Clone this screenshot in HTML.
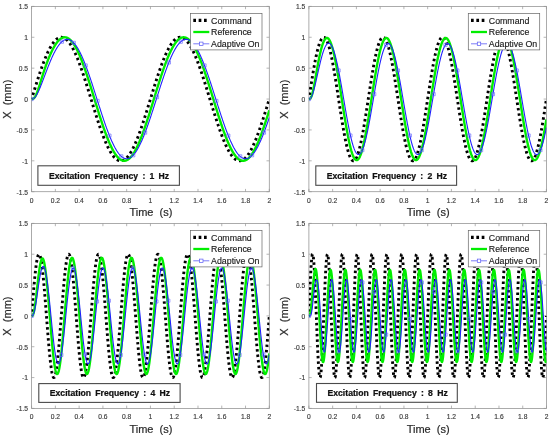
<!DOCTYPE html>
<html><head><meta charset="utf-8"><title>Figure</title>
<style>html,body{margin:0;padding:0;background:#fff}body{width:550px;height:436px;overflow:hidden}</style>
</head><body>
<svg width="550" height="436" viewBox="0 0 550 436" style="display:block">
<rect width="550" height="436" fill="#fff"/>
<g>
<rect x="31.6" y="6.4" width="237.70" height="185.30" fill="none" stroke="#969696" stroke-width="0.8"/>
<path d="M31.60,191.7 v-2.8 M31.60,6.4 v2.8 M55.37,191.7 v-2.8 M55.37,6.4 v2.8 M79.14,191.7 v-2.8 M79.14,6.4 v2.8 M102.91,191.7 v-2.8 M102.91,6.4 v2.8 M126.68,191.7 v-2.8 M126.68,6.4 v2.8 M150.45,191.7 v-2.8 M150.45,6.4 v2.8 M174.22,191.7 v-2.8 M174.22,6.4 v2.8 M197.99,191.7 v-2.8 M197.99,6.4 v2.8 M221.76,191.7 v-2.8 M221.76,6.4 v2.8 M245.53,191.7 v-2.8 M245.53,6.4 v2.8 M269.30,191.7 v-2.8 M269.30,6.4 v2.8 M31.6,191.70 h2.8 M269.3,191.70 h-2.8 M31.6,160.82 h2.8 M269.3,160.82 h-2.8 M31.6,129.93 h2.8 M269.3,129.93 h-2.8 M31.6,99.05 h2.8 M269.3,99.05 h-2.8 M31.6,68.17 h2.8 M269.3,68.17 h-2.8 M31.6,37.28 h2.8 M269.3,37.28 h-2.8 M31.6,6.40 h2.8 M269.3,6.40 h-2.8" stroke="#969696" stroke-width="0.7" fill="none"/>
<clipPath id="c0"><rect x="31.6" y="6.4" width="237.70" height="185.30"/></clipPath>
<g clip-path="url(#c0)" fill="none" stroke-linejoin="round">
<path d="M31.60,99.05 L31.84,98.27 L32.08,97.50 L32.31,96.72 L32.55,95.95 L32.79,95.17 L33.03,94.40 L33.26,93.62 L33.50,92.85 L33.74,92.08 L33.98,91.31 L34.21,90.54 L34.45,89.77 L34.69,89.00 L34.93,88.24 L35.17,87.48 L35.40,86.71 L35.64,85.96 L35.88,85.20 L36.12,84.44 L36.35,83.69 L36.59,82.94 L36.83,82.19 L37.07,81.45 L37.30,80.70 L37.54,79.96 L37.78,79.23 L38.02,78.49 L38.26,77.76 L38.49,77.04 L38.73,76.31 L38.97,75.59 L39.21,74.88 L39.44,74.16 L39.68,73.46 L39.92,72.75 L40.16,72.05 L40.39,71.35 L40.63,70.66 L40.87,69.98 L41.11,69.29 L41.35,68.62 L41.58,67.94 L41.82,67.27 L42.06,66.61 L42.30,65.95 L42.53,65.30 L42.77,64.65 L43.01,64.01 L43.25,63.38 L43.48,62.74 L43.72,62.12 L43.96,61.50 L44.20,60.89 L44.44,60.28 L44.67,59.68 L44.91,59.08 L45.15,58.49 L45.39,57.91 L45.62,57.34 L45.86,56.77 L46.10,56.21 L46.34,55.65 L46.58,55.10 L46.81,54.56 L47.05,54.02 L47.29,53.50 L47.53,52.98 L47.76,52.46 L48.00,51.96 L48.24,51.46 L48.48,50.97 L48.71,50.48 L48.95,50.01 L49.19,49.54 L49.43,49.08 L49.67,48.63 L49.90,48.18 L50.14,47.75 L50.38,47.32 L50.62,46.90 L50.85,46.49 L51.09,46.08 L51.33,45.69 L51.57,45.30 L51.80,44.92 L52.04,44.55 L52.28,44.19 L52.52,43.84 L52.76,43.50 L52.99,43.16 L53.23,42.84 L53.47,42.52 L53.71,42.21 L53.94,41.91 L54.18,41.62 L54.42,41.34 L54.66,41.07 L54.89,40.80 L55.13,40.55 L55.37,40.31 L55.61,40.07 L55.85,39.85 L56.08,39.63 L56.32,39.42 L56.56,39.22 L56.80,39.04 L57.03,38.86 L57.27,38.69 L57.51,38.53 L57.75,38.38 L57.98,38.24 L58.22,38.11 L58.46,37.98 L58.70,37.87 L58.94,37.77 L59.17,37.68 L59.41,37.60 L59.65,37.52 L59.89,37.46 L60.12,37.41 L60.36,37.36 L60.60,37.33 L60.84,37.30 L61.07,37.29 L61.31,37.28 L61.55,37.29 L61.79,37.30 L62.03,37.33 L62.26,37.36 L62.50,37.41 L62.74,37.46 L62.98,37.52 L63.21,37.60 L63.45,37.68 L63.69,37.77 L63.93,37.87 L64.16,37.98 L64.40,38.11 L64.64,38.24 L64.88,38.38 L65.12,38.53 L65.35,38.69 L65.59,38.86 L65.83,39.04 L66.07,39.22 L66.30,39.42 L66.54,39.63 L66.78,39.85 L67.02,40.07 L67.25,40.31 L67.49,40.55 L67.73,40.80 L67.97,41.07 L68.21,41.34 L68.44,41.62 L68.68,41.91 L68.92,42.21 L69.16,42.52 L69.39,42.84 L69.63,43.16 L69.87,43.50 L70.11,43.84 L70.35,44.19 L70.58,44.55 L70.82,44.92 L71.06,45.30 L71.30,45.69 L71.53,46.08 L71.77,46.49 L72.01,46.90 L72.25,47.32 L72.48,47.75 L72.72,48.18 L72.96,48.63 L73.20,49.08 L73.44,49.54 L73.67,50.01 L73.91,50.48 L74.15,50.97 L74.39,51.46 L74.62,51.96 L74.86,52.46 L75.10,52.98 L75.34,53.50 L75.57,54.02 L75.81,54.56 L76.05,55.10 L76.29,55.65 L76.53,56.21 L76.76,56.77 L77.00,57.34 L77.24,57.91 L77.48,58.49 L77.71,59.08 L77.95,59.68 L78.19,60.28 L78.43,60.89 L78.66,61.50 L78.90,62.12 L79.14,62.74 L79.38,63.38 L79.62,64.01 L79.85,64.65 L80.09,65.30 L80.33,65.95 L80.57,66.61 L80.80,67.27 L81.04,67.94 L81.28,68.62 L81.52,69.29 L81.75,69.98 L81.99,70.66 L82.23,71.35 L82.47,72.05 L82.71,72.75 L82.94,73.46 L83.18,74.16 L83.42,74.88 L83.66,75.59 L83.89,76.31 L84.13,77.04 L84.37,77.76 L84.61,78.49 L84.84,79.23 L85.08,79.96 L85.32,80.70 L85.56,81.45 L85.80,82.19 L86.03,82.94 L86.27,83.69 L86.51,84.44 L86.75,85.20 L86.98,85.96 L87.22,86.71 L87.46,87.48 L87.70,88.24 L87.93,89.00 L88.17,89.77 L88.41,90.54 L88.65,91.31 L88.89,92.08 L89.12,92.85 L89.36,93.62 L89.60,94.40 L89.84,95.17 L90.07,95.95 L90.31,96.72 L90.55,97.50 L90.79,98.27 L91.03,99.05 L91.26,99.83 L91.50,100.60 L91.74,101.38 L91.98,102.15 L92.21,102.93 L92.45,103.70 L92.69,104.48 L92.93,105.25 L93.16,106.02 L93.40,106.79 L93.64,107.56 L93.88,108.33 L94.12,109.10 L94.35,109.86 L94.59,110.62 L94.83,111.39 L95.07,112.14 L95.30,112.90 L95.54,113.66 L95.78,114.41 L96.02,115.16 L96.25,115.91 L96.49,116.65 L96.73,117.40 L96.97,118.14 L97.21,118.87 L97.44,119.61 L97.68,120.34 L97.92,121.06 L98.16,121.79 L98.39,122.51 L98.63,123.22 L98.87,123.94 L99.11,124.64 L99.34,125.35 L99.58,126.05 L99.82,126.75 L100.06,127.44 L100.30,128.12 L100.53,128.81 L100.77,129.48 L101.01,130.16 L101.25,130.83 L101.48,131.49 L101.72,132.15 L101.96,132.80 L102.20,133.45 L102.43,134.09 L102.67,134.72 L102.91,135.36 L103.15,135.98 L103.39,136.60 L103.62,137.21 L103.86,137.82 L104.10,138.42 L104.34,139.02 L104.57,139.61 L104.81,140.19 L105.05,140.76 L105.29,141.33 L105.52,141.89 L105.76,142.45 L106.00,143.00 L106.24,143.54 L106.48,144.08 L106.71,144.60 L106.95,145.12 L107.19,145.64 L107.43,146.14 L107.66,146.64 L107.90,147.13 L108.14,147.62 L108.38,148.09 L108.61,148.56 L108.85,149.02 L109.09,149.47 L109.33,149.92 L109.57,150.35 L109.80,150.78 L110.04,151.20 L110.28,151.61 L110.52,152.02 L110.75,152.41 L110.99,152.80 L111.23,153.18 L111.47,153.55 L111.70,153.91 L111.94,154.26 L112.18,154.60 L112.42,154.94 L112.66,155.26 L112.89,155.58 L113.13,155.89 L113.37,156.19 L113.61,156.48 L113.84,156.76 L114.08,157.03 L114.32,157.30 L114.56,157.55 L114.80,157.79 L115.03,158.03 L115.27,158.25 L115.51,158.47 L115.75,158.68 L115.98,158.88 L116.22,159.06 L116.46,159.24 L116.70,159.41 L116.93,159.57 L117.17,159.72 L117.41,159.86 L117.65,159.99 L117.89,160.12 L118.12,160.23 L118.36,160.33 L118.60,160.42 L118.84,160.50 L119.07,160.58 L119.31,160.64 L119.55,160.69 L119.79,160.74 L120.02,160.77 L120.26,160.80 L120.50,160.81 L120.74,160.82 L120.98,160.81 L121.21,160.80 L121.45,160.77 L121.69,160.74 L121.93,160.69 L122.16,160.64 L122.40,160.58 L122.64,160.50 L122.88,160.42 L123.11,160.33 L123.35,160.23 L123.59,160.12 L123.83,159.99 L124.07,159.86 L124.30,159.72 L124.54,159.57 L124.78,159.41 L125.02,159.24 L125.25,159.06 L125.49,158.88 L125.73,158.68 L125.97,158.47 L126.20,158.25 L126.44,158.03 L126.68,157.79 L126.92,157.55 L127.16,157.30 L127.39,157.03 L127.63,156.76 L127.87,156.48 L128.11,156.19 L128.34,155.89 L128.58,155.58 L128.82,155.26 L129.06,154.94 L129.29,154.60 L129.53,154.26 L129.77,153.91 L130.01,153.55 L130.25,153.18 L130.48,152.80 L130.72,152.41 L130.96,152.02 L131.20,151.61 L131.43,151.20 L131.67,150.78 L131.91,150.35 L132.15,149.92 L132.38,149.47 L132.62,149.02 L132.86,148.56 L133.10,148.09 L133.34,147.62 L133.57,147.13 L133.81,146.64 L134.05,146.14 L134.29,145.64 L134.52,145.12 L134.76,144.60 L135.00,144.08 L135.24,143.54 L135.47,143.00 L135.71,142.45 L135.95,141.89 L136.19,141.33 L136.43,140.76 L136.66,140.19 L136.90,139.61 L137.14,139.02 L137.38,138.42 L137.61,137.82 L137.85,137.21 L138.09,136.60 L138.33,135.98 L138.56,135.36 L138.80,134.72 L139.04,134.09 L139.28,133.45 L139.52,132.80 L139.75,132.15 L139.99,131.49 L140.23,130.83 L140.47,130.16 L140.70,129.48 L140.94,128.81 L141.18,128.12 L141.42,127.44 L141.66,126.75 L141.89,126.05 L142.13,125.35 L142.37,124.64 L142.61,123.94 L142.84,123.22 L143.08,122.51 L143.32,121.79 L143.56,121.06 L143.79,120.34 L144.03,119.61 L144.27,118.87 L144.51,118.14 L144.75,117.40 L144.98,116.65 L145.22,115.91 L145.46,115.16 L145.70,114.41 L145.93,113.66 L146.17,112.90 L146.41,112.14 L146.65,111.39 L146.88,110.62 L147.12,109.86 L147.36,109.10 L147.60,108.33 L147.84,107.56 L148.07,106.79 L148.31,106.02 L148.55,105.25 L148.79,104.48 L149.02,103.70 L149.26,102.93 L149.50,102.15 L149.74,101.38 L149.97,100.60 L150.21,99.83 L150.45,99.05 L150.69,98.27 L150.93,97.50 L151.16,96.72 L151.40,95.95 L151.64,95.17 L151.88,94.40 L152.11,93.62 L152.35,92.85 L152.59,92.08 L152.83,91.31 L153.06,90.54 L153.30,89.77 L153.54,89.00 L153.78,88.24 L154.02,87.48 L154.25,86.71 L154.49,85.96 L154.73,85.20 L154.97,84.44 L155.20,83.69 L155.44,82.94 L155.68,82.19 L155.92,81.45 L156.15,80.70 L156.39,79.96 L156.63,79.23 L156.87,78.49 L157.11,77.76 L157.34,77.04 L157.58,76.31 L157.82,75.59 L158.06,74.88 L158.29,74.16 L158.53,73.46 L158.77,72.75 L159.01,72.05 L159.24,71.35 L159.48,70.66 L159.72,69.98 L159.96,69.29 L160.20,68.62 L160.43,67.94 L160.67,67.27 L160.91,66.61 L161.15,65.95 L161.38,65.30 L161.62,64.65 L161.86,64.01 L162.10,63.38 L162.34,62.74 L162.57,62.12 L162.81,61.50 L163.05,60.89 L163.29,60.28 L163.52,59.68 L163.76,59.08 L164.00,58.49 L164.24,57.91 L164.47,57.34 L164.71,56.77 L164.95,56.21 L165.19,55.65 L165.43,55.10 L165.66,54.56 L165.90,54.02 L166.14,53.50 L166.38,52.98 L166.61,52.46 L166.85,51.96 L167.09,51.46 L167.33,50.97 L167.56,50.48 L167.80,50.01 L168.04,49.54 L168.28,49.08 L168.52,48.63 L168.75,48.18 L168.99,47.75 L169.23,47.32 L169.47,46.90 L169.70,46.49 L169.94,46.08 L170.18,45.69 L170.42,45.30 L170.65,44.92 L170.89,44.55 L171.13,44.19 L171.37,43.84 L171.61,43.50 L171.84,43.16 L172.08,42.84 L172.32,42.52 L172.56,42.21 L172.79,41.91 L173.03,41.62 L173.27,41.34 L173.51,41.07 L173.74,40.80 L173.98,40.55 L174.22,40.31 L174.46,40.07 L174.70,39.85 L174.93,39.63 L175.17,39.42 L175.41,39.22 L175.65,39.04 L175.88,38.86 L176.12,38.69 L176.36,38.53 L176.60,38.38 L176.83,38.24 L177.07,38.11 L177.31,37.98 L177.55,37.87 L177.79,37.77 L178.02,37.68 L178.26,37.60 L178.50,37.52 L178.74,37.46 L178.97,37.41 L179.21,37.36 L179.45,37.33 L179.69,37.30 L179.92,37.29 L180.16,37.28 L180.40,37.29 L180.64,37.30 L180.88,37.33 L181.11,37.36 L181.35,37.41 L181.59,37.46 L181.83,37.52 L182.06,37.60 L182.30,37.68 L182.54,37.77 L182.78,37.87 L183.01,37.98 L183.25,38.11 L183.49,38.24 L183.73,38.38 L183.97,38.53 L184.20,38.69 L184.44,38.86 L184.68,39.04 L184.92,39.22 L185.15,39.42 L185.39,39.63 L185.63,39.85 L185.87,40.07 L186.11,40.31 L186.34,40.55 L186.58,40.80 L186.82,41.07 L187.06,41.34 L187.29,41.62 L187.53,41.91 L187.77,42.21 L188.01,42.52 L188.24,42.84 L188.48,43.16 L188.72,43.50 L188.96,43.84 L189.20,44.19 L189.43,44.55 L189.67,44.92 L189.91,45.30 L190.15,45.69 L190.38,46.08 L190.62,46.49 L190.86,46.90 L191.10,47.32 L191.33,47.75 L191.57,48.18 L191.81,48.63 L192.05,49.08 L192.29,49.54 L192.52,50.01 L192.76,50.48 L193.00,50.97 L193.24,51.46 L193.47,51.96 L193.71,52.46 L193.95,52.98 L194.19,53.50 L194.42,54.02 L194.66,54.56 L194.90,55.10 L195.14,55.65 L195.38,56.21 L195.61,56.77 L195.85,57.34 L196.09,57.91 L196.33,58.49 L196.56,59.08 L196.80,59.68 L197.04,60.28 L197.28,60.89 L197.51,61.50 L197.75,62.12 L197.99,62.74 L198.23,63.38 L198.47,64.01 L198.70,64.65 L198.94,65.30 L199.18,65.95 L199.42,66.61 L199.65,67.27 L199.89,67.94 L200.13,68.62 L200.37,69.29 L200.60,69.98 L200.84,70.66 L201.08,71.35 L201.32,72.05 L201.56,72.75 L201.79,73.46 L202.03,74.16 L202.27,74.88 L202.51,75.59 L202.74,76.31 L202.98,77.04 L203.22,77.76 L203.46,78.49 L203.69,79.23 L203.93,79.96 L204.17,80.70 L204.41,81.45 L204.65,82.19 L204.88,82.94 L205.12,83.69 L205.36,84.44 L205.60,85.20 L205.83,85.96 L206.07,86.71 L206.31,87.48 L206.55,88.24 L206.78,89.00 L207.02,89.77 L207.26,90.54 L207.50,91.31 L207.74,92.08 L207.97,92.85 L208.21,93.62 L208.45,94.40 L208.69,95.17 L208.92,95.95 L209.16,96.72 L209.40,97.50 L209.64,98.27 L209.88,99.05 L210.11,99.83 L210.35,100.60 L210.59,101.38 L210.83,102.15 L211.06,102.93 L211.30,103.70 L211.54,104.48 L211.78,105.25 L212.01,106.02 L212.25,106.79 L212.49,107.56 L212.73,108.33 L212.97,109.10 L213.20,109.86 L213.44,110.62 L213.68,111.39 L213.92,112.14 L214.15,112.90 L214.39,113.66 L214.63,114.41 L214.87,115.16 L215.10,115.91 L215.34,116.65 L215.58,117.40 L215.82,118.14 L216.06,118.87 L216.29,119.61 L216.53,120.34 L216.77,121.06 L217.01,121.79 L217.24,122.51 L217.48,123.22 L217.72,123.94 L217.96,124.64 L218.19,125.35 L218.43,126.05 L218.67,126.75 L218.91,127.44 L219.15,128.12 L219.38,128.81 L219.62,129.48 L219.86,130.16 L220.10,130.83 L220.33,131.49 L220.57,132.15 L220.81,132.80 L221.05,133.45 L221.28,134.09 L221.52,134.72 L221.76,135.36 L222.00,135.98 L222.24,136.60 L222.47,137.21 L222.71,137.82 L222.95,138.42 L223.19,139.02 L223.42,139.61 L223.66,140.19 L223.90,140.76 L224.14,141.33 L224.37,141.89 L224.61,142.45 L224.85,143.00 L225.09,143.54 L225.33,144.08 L225.56,144.60 L225.80,145.12 L226.04,145.64 L226.28,146.14 L226.51,146.64 L226.75,147.13 L226.99,147.62 L227.23,148.09 L227.46,148.56 L227.70,149.02 L227.94,149.47 L228.18,149.92 L228.42,150.35 L228.65,150.78 L228.89,151.20 L229.13,151.61 L229.37,152.02 L229.60,152.41 L229.84,152.80 L230.08,153.18 L230.32,153.55 L230.55,153.91 L230.79,154.26 L231.03,154.60 L231.27,154.94 L231.51,155.26 L231.74,155.58 L231.98,155.89 L232.22,156.19 L232.46,156.48 L232.69,156.76 L232.93,157.03 L233.17,157.30 L233.41,157.55 L233.65,157.79 L233.88,158.03 L234.12,158.25 L234.36,158.47 L234.60,158.68 L234.83,158.88 L235.07,159.06 L235.31,159.24 L235.55,159.41 L235.78,159.57 L236.02,159.72 L236.26,159.86 L236.50,159.99 L236.74,160.12 L236.97,160.23 L237.21,160.33 L237.45,160.42 L237.69,160.50 L237.92,160.58 L238.16,160.64 L238.40,160.69 L238.64,160.74 L238.87,160.77 L239.11,160.80 L239.35,160.81 L239.59,160.82 L239.83,160.81 L240.06,160.80 L240.30,160.77 L240.54,160.74 L240.78,160.69 L241.01,160.64 L241.25,160.58 L241.49,160.50 L241.73,160.42 L241.96,160.33 L242.20,160.23 L242.44,160.12 L242.68,159.99 L242.92,159.86 L243.15,159.72 L243.39,159.57 L243.63,159.41 L243.87,159.24 L244.10,159.06 L244.34,158.88 L244.58,158.68 L244.82,158.47 L245.05,158.25 L245.29,158.03 L245.53,157.79 L245.77,157.55 L246.01,157.30 L246.24,157.03 L246.48,156.76 L246.72,156.48 L246.96,156.19 L247.19,155.89 L247.43,155.58 L247.67,155.26 L247.91,154.94 L248.14,154.60 L248.38,154.26 L248.62,153.91 L248.86,153.55 L249.10,153.18 L249.33,152.80 L249.57,152.41 L249.81,152.02 L250.05,151.61 L250.28,151.20 L250.52,150.78 L250.76,150.35 L251.00,149.92 L251.23,149.47 L251.47,149.02 L251.71,148.56 L251.95,148.09 L252.19,147.62 L252.42,147.13 L252.66,146.64 L252.90,146.14 L253.14,145.64 L253.37,145.12 L253.61,144.60 L253.85,144.08 L254.09,143.54 L254.32,143.00 L254.56,142.45 L254.80,141.89 L255.04,141.33 L255.28,140.76 L255.51,140.19 L255.75,139.61 L255.99,139.02 L256.23,138.42 L256.46,137.82 L256.70,137.21 L256.94,136.60 L257.18,135.98 L257.42,135.36 L257.65,134.72 L257.89,134.09 L258.13,133.45 L258.37,132.80 L258.60,132.15 L258.84,131.49 L259.08,130.83 L259.32,130.16 L259.55,129.48 L259.79,128.81 L260.03,128.12 L260.27,127.44 L260.51,126.75 L260.74,126.05 L260.98,125.35 L261.22,124.64 L261.46,123.94 L261.69,123.22 L261.93,122.51 L262.17,121.79 L262.41,121.06 L262.64,120.34 L262.88,119.61 L263.12,118.87 L263.36,118.14 L263.60,117.40 L263.83,116.65 L264.07,115.91 L264.31,115.16 L264.55,114.41 L264.78,113.66 L265.02,112.90 L265.26,112.14 L265.50,111.39 L265.73,110.62 L265.97,109.86 L266.21,109.10 L266.45,108.33 L266.69,107.56 L266.92,106.79 L267.16,106.02 L267.40,105.25 L267.64,104.48 L267.87,103.70 L268.11,102.93 L268.35,102.15 L268.59,101.38 L268.82,100.60 L269.06,99.83 L269.30,99.05" stroke="#000" stroke-width="2.9" stroke-dasharray="2.5 3.0" stroke-dashoffset="1.3"/>
<path d="M31.60,99.05 L31.84,99.05 L32.08,99.04 L32.31,99.02 L32.55,98.98 L32.79,98.92 L33.03,98.83 L33.26,98.72 L33.50,98.57 L33.74,98.39 L33.98,98.17 L34.21,97.93 L34.45,97.64 L34.69,97.33 L34.93,96.98 L35.17,96.59 L35.40,96.18 L35.64,95.73 L35.88,95.25 L36.12,94.74 L36.35,94.21 L36.59,93.65 L36.83,93.07 L37.07,92.46 L37.30,91.83 L37.54,91.19 L37.78,90.53 L38.02,89.85 L38.26,89.16 L38.49,88.45 L38.73,87.73 L38.97,87.01 L39.21,86.27 L39.44,85.53 L39.68,84.78 L39.92,84.03 L40.16,83.27 L40.39,82.51 L40.63,81.75 L40.87,80.99 L41.11,80.23 L41.35,79.46 L41.58,78.70 L41.82,77.94 L42.06,77.19 L42.30,76.43 L42.53,75.68 L42.77,74.94 L43.01,74.20 L43.25,73.46 L43.48,72.73 L43.72,72.00 L43.96,71.28 L44.20,70.56 L44.44,69.85 L44.67,69.15 L44.91,68.45 L45.15,67.76 L45.39,67.08 L45.62,66.40 L45.86,65.72 L46.10,65.06 L46.34,64.40 L46.58,63.75 L46.81,63.10 L47.05,62.47 L47.29,61.83 L47.53,61.21 L47.76,60.59 L48.00,59.98 L48.24,59.38 L48.48,58.78 L48.71,58.19 L48.95,57.61 L49.19,57.04 L49.43,56.47 L49.67,55.91 L49.90,55.36 L50.14,54.81 L50.38,54.27 L50.62,53.74 L50.85,53.22 L51.09,52.70 L51.33,52.19 L51.57,51.69 L51.80,51.20 L52.04,50.71 L52.28,50.23 L52.52,49.76 L52.76,49.30 L52.99,48.84 L53.23,48.40 L53.47,47.96 L53.71,47.53 L53.94,47.11 L54.18,46.69 L54.42,46.28 L54.66,45.89 L54.89,45.50 L55.13,45.12 L55.37,44.74 L55.61,44.38 L55.85,44.02 L56.08,43.68 L56.32,43.34 L56.56,43.01 L56.80,42.69 L57.03,42.38 L57.27,42.07 L57.51,41.78 L57.75,41.49 L57.98,41.22 L58.22,40.95 L58.46,40.69 L58.70,40.44 L58.94,40.20 L59.17,39.97 L59.41,39.75 L59.65,39.54 L59.89,39.34 L60.12,39.15 L60.36,38.96 L60.60,38.79 L60.84,38.62 L61.07,38.47 L61.31,38.32 L61.55,38.19 L61.79,38.06 L62.03,37.95 L62.26,37.84 L62.50,37.74 L62.74,37.65 L62.98,37.58 L63.21,37.51 L63.45,37.45 L63.69,37.40 L63.93,37.36 L64.16,37.33 L64.40,37.31 L64.64,37.30 L64.88,37.30 L65.12,37.31 L65.35,37.33 L65.59,37.36 L65.83,37.40 L66.07,37.45 L66.30,37.51 L66.54,37.58 L66.78,37.65 L67.02,37.74 L67.25,37.84 L67.49,37.94 L67.73,38.06 L67.97,38.19 L68.21,38.32 L68.44,38.47 L68.68,38.62 L68.92,38.79 L69.16,38.96 L69.39,39.15 L69.63,39.34 L69.87,39.54 L70.11,39.75 L70.35,39.97 L70.58,40.21 L70.82,40.44 L71.06,40.69 L71.30,40.95 L71.53,41.22 L71.77,41.50 L72.01,41.78 L72.25,42.08 L72.48,42.38 L72.72,42.69 L72.96,43.01 L73.20,43.35 L73.44,43.68 L73.67,44.03 L73.91,44.39 L74.15,44.75 L74.39,45.13 L74.62,45.51 L74.86,45.90 L75.10,46.30 L75.34,46.71 L75.57,47.12 L75.81,47.55 L76.05,47.98 L76.29,48.42 L76.53,48.87 L76.76,49.32 L77.00,49.79 L77.24,50.26 L77.48,50.74 L77.71,51.23 L77.95,51.72 L78.19,52.22 L78.43,52.73 L78.66,53.25 L78.90,53.77 L79.14,54.31 L79.38,54.84 L79.62,55.39 L79.85,55.94 L80.09,56.50 L80.33,57.07 L80.57,57.64 L80.80,58.22 L81.04,58.80 L81.28,59.39 L81.52,59.99 L81.75,60.60 L81.99,61.21 L82.23,61.82 L82.47,62.44 L82.71,63.07 L82.94,63.71 L83.18,64.34 L83.42,64.99 L83.66,65.64 L83.89,66.29 L84.13,66.95 L84.37,67.62 L84.61,68.29 L84.84,68.97 L85.08,69.65 L85.32,70.33 L85.56,71.02 L85.80,71.71 L86.03,72.41 L86.27,73.11 L86.51,73.82 L86.75,74.53 L86.98,75.24 L87.22,75.96 L87.46,76.68 L87.70,77.41 L87.93,78.14 L88.17,78.87 L88.41,79.60 L88.65,80.34 L88.89,81.08 L89.12,81.83 L89.36,82.57 L89.60,83.32 L89.84,84.07 L90.07,84.83 L90.31,85.58 L90.55,86.34 L90.79,87.10 L91.03,87.86 L91.26,88.63 L91.50,89.39 L91.74,90.16 L91.98,90.93 L92.21,91.70 L92.45,92.47 L92.69,93.24 L92.93,94.02 L93.16,94.79 L93.40,95.56 L93.64,96.34 L93.88,97.11 L94.12,97.89 L94.35,98.67 L94.59,99.44 L94.83,100.22 L95.07,100.99 L95.30,101.77 L95.54,102.54 L95.78,103.32 L96.02,104.09 L96.25,104.86 L96.49,105.64 L96.73,106.41 L96.97,107.18 L97.21,107.95 L97.44,108.71 L97.68,109.48 L97.92,110.24 L98.16,111.00 L98.39,111.77 L98.63,112.52 L98.87,113.28 L99.11,114.03 L99.34,114.79 L99.58,115.53 L99.82,116.28 L100.06,117.02 L100.30,117.77 L100.53,118.50 L100.77,119.24 L101.01,119.97 L101.25,120.70 L101.48,121.42 L101.72,122.14 L101.96,122.86 L102.20,123.58 L102.43,124.29 L102.67,124.99 L102.91,125.70 L103.15,126.39 L103.39,127.09 L103.62,127.78 L103.86,128.46 L104.10,129.14 L104.34,129.82 L104.57,130.49 L104.81,131.15 L105.05,131.81 L105.29,132.47 L105.52,133.12 L105.76,133.76 L106.00,134.40 L106.24,135.03 L106.48,135.66 L106.71,136.28 L106.95,136.90 L107.19,137.51 L107.43,138.11 L107.66,138.71 L107.90,139.30 L108.14,139.89 L108.38,140.47 L108.61,141.04 L108.85,141.60 L109.09,142.16 L109.33,142.72 L109.57,143.26 L109.80,143.80 L110.04,144.33 L110.28,144.85 L110.52,145.37 L110.75,145.88 L110.99,146.38 L111.23,146.88 L111.47,147.36 L111.70,147.84 L111.94,148.32 L112.18,148.78 L112.42,149.24 L112.66,149.68 L112.89,150.12 L113.13,150.56 L113.37,150.98 L113.61,151.40 L113.84,151.80 L114.08,152.20 L114.32,152.59 L114.56,152.97 L114.80,153.35 L115.03,153.71 L115.27,154.07 L115.51,154.42 L115.75,154.76 L115.98,155.09 L116.22,155.41 L116.46,155.72 L116.70,156.03 L116.93,156.32 L117.17,156.61 L117.41,156.88 L117.65,157.15 L117.89,157.41 L118.12,157.66 L118.36,157.90 L118.60,158.13 L118.84,158.35 L119.07,158.56 L119.31,158.76 L119.55,158.96 L119.79,159.14 L120.02,159.31 L120.26,159.48 L120.50,159.63 L120.74,159.78 L120.98,159.91 L121.21,160.04 L121.45,160.16 L121.69,160.26 L121.93,160.36 L122.16,160.45 L122.40,160.53 L122.64,160.59 L122.88,160.65 L123.11,160.70 L123.35,160.74 L123.59,160.77 L123.83,160.79 L124.07,160.80 L124.30,160.80 L124.54,160.79 L124.78,160.77 L125.02,160.74 L125.25,160.70 L125.49,160.65 L125.73,160.59 L125.97,160.53 L126.20,160.45 L126.44,160.36 L126.68,160.26 L126.92,160.16 L127.16,160.04 L127.39,159.91 L127.63,159.78 L127.87,159.63 L128.11,159.48 L128.34,159.31 L128.58,159.14 L128.82,158.95 L129.06,158.76 L129.29,158.56 L129.53,158.35 L129.77,158.13 L130.01,157.89 L130.25,157.66 L130.48,157.41 L130.72,157.15 L130.96,156.88 L131.20,156.60 L131.43,156.32 L131.67,156.02 L131.91,155.72 L132.15,155.41 L132.38,155.09 L132.62,154.75 L132.86,154.42 L133.10,154.07 L133.34,153.71 L133.57,153.35 L133.81,152.97 L134.05,152.59 L134.29,152.20 L134.52,151.80 L134.76,151.39 L135.00,150.98 L135.24,150.55 L135.47,150.12 L135.71,149.68 L135.95,149.23 L136.19,148.78 L136.43,148.31 L136.66,147.84 L136.90,147.36 L137.14,146.87 L137.38,146.38 L137.61,145.88 L137.85,145.37 L138.09,144.85 L138.33,144.33 L138.56,143.79 L138.80,143.26 L139.04,142.71 L139.28,142.16 L139.52,141.60 L139.75,141.03 L139.99,140.46 L140.23,139.88 L140.47,139.30 L140.70,138.71 L140.94,138.11 L141.18,137.50 L141.42,136.89 L141.66,136.28 L141.89,135.66 L142.13,135.03 L142.37,134.39 L142.61,133.76 L142.84,133.11 L143.08,132.46 L143.32,131.81 L143.56,131.15 L143.79,130.48 L144.03,129.81 L144.27,129.13 L144.51,128.45 L144.75,127.77 L144.98,127.08 L145.22,126.39 L145.46,125.69 L145.70,124.99 L145.93,124.28 L146.17,123.57 L146.41,122.86 L146.65,122.14 L146.88,121.42 L147.12,120.69 L147.36,119.96 L147.60,119.23 L147.84,118.50 L148.07,117.76 L148.31,117.02 L148.55,116.27 L148.79,115.53 L149.02,114.78 L149.26,114.03 L149.50,113.27 L149.74,112.52 L149.97,111.76 L150.21,111.00 L150.45,110.24 L150.69,109.47 L150.93,108.71 L151.16,107.94 L151.40,107.17 L151.64,106.40 L151.88,105.63 L152.11,104.86 L152.35,104.08 L152.59,103.31 L152.83,102.54 L153.06,101.76 L153.30,100.99 L153.54,100.21 L153.78,99.43 L154.02,98.66 L154.25,97.88 L154.49,97.11 L154.73,96.33 L154.97,95.56 L155.20,94.78 L155.44,94.01 L155.68,93.24 L155.92,92.46 L156.15,91.69 L156.39,90.92 L156.63,90.15 L156.87,89.39 L157.11,88.62 L157.34,87.86 L157.58,87.10 L157.82,86.33 L158.06,85.58 L158.29,84.82 L158.53,84.07 L158.77,83.31 L159.01,82.57 L159.24,81.82 L159.48,81.08 L159.72,80.33 L159.96,79.60 L160.20,78.86 L160.43,78.13 L160.67,77.40 L160.91,76.68 L161.15,75.96 L161.38,75.24 L161.62,74.52 L161.86,73.81 L162.10,73.11 L162.34,72.40 L162.57,71.71 L162.81,71.01 L163.05,70.32 L163.29,69.64 L163.52,68.96 L163.76,68.28 L164.00,67.61 L164.24,66.95 L164.47,66.29 L164.71,65.63 L164.95,64.98 L165.19,64.34 L165.43,63.70 L165.66,63.07 L165.90,62.44 L166.14,61.82 L166.38,61.20 L166.61,60.59 L166.85,59.99 L167.09,59.39 L167.33,58.80 L167.56,58.21 L167.80,57.63 L168.04,57.06 L168.28,56.50 L168.52,55.94 L168.75,55.38 L168.99,54.84 L169.23,54.30 L169.47,53.77 L169.70,53.25 L169.94,52.73 L170.18,52.22 L170.42,51.72 L170.65,51.22 L170.89,50.74 L171.13,50.26 L171.37,49.78 L171.61,49.32 L171.84,48.86 L172.08,48.42 L172.32,47.98 L172.56,47.54 L172.79,47.12 L173.03,46.70 L173.27,46.30 L173.51,45.90 L173.74,45.51 L173.98,45.13 L174.22,44.75 L174.46,44.39 L174.70,44.03 L174.93,43.68 L175.17,43.34 L175.41,43.01 L175.65,42.69 L175.88,42.38 L176.12,42.07 L176.36,41.78 L176.60,41.49 L176.83,41.22 L177.07,40.95 L177.31,40.69 L177.55,40.44 L177.79,40.20 L178.02,39.97 L178.26,39.75 L178.50,39.54 L178.74,39.34 L178.97,39.14 L179.21,38.96 L179.45,38.79 L179.69,38.62 L179.92,38.47 L180.16,38.32 L180.40,38.19 L180.64,38.06 L180.88,37.94 L181.11,37.84 L181.35,37.74 L181.59,37.65 L181.83,37.57 L182.06,37.51 L182.30,37.45 L182.54,37.40 L182.78,37.36 L183.01,37.33 L183.25,37.31 L183.49,37.30 L183.73,37.30 L183.97,37.31 L184.20,37.33 L184.44,37.36 L184.68,37.40 L184.92,37.45 L185.15,37.51 L185.39,37.57 L185.63,37.65 L185.87,37.74 L186.11,37.84 L186.34,37.94 L186.58,38.06 L186.82,38.19 L187.06,38.32 L187.29,38.47 L187.53,38.62 L187.77,38.79 L188.01,38.96 L188.24,39.15 L188.48,39.34 L188.72,39.54 L188.96,39.75 L189.20,39.97 L189.43,40.21 L189.67,40.44 L189.91,40.69 L190.15,40.95 L190.38,41.22 L190.62,41.50 L190.86,41.78 L191.10,42.08 L191.33,42.38 L191.57,42.69 L191.81,43.01 L192.05,43.35 L192.29,43.68 L192.52,44.03 L192.76,44.39 L193.00,44.75 L193.24,45.13 L193.47,45.51 L193.71,45.90 L193.95,46.30 L194.19,46.71 L194.42,47.12 L194.66,47.55 L194.90,47.98 L195.14,48.42 L195.38,48.87 L195.61,49.32 L195.85,49.79 L196.09,50.26 L196.33,50.74 L196.56,51.23 L196.80,51.72 L197.04,52.22 L197.28,52.73 L197.51,53.25 L197.75,53.77 L197.99,54.31 L198.23,54.84 L198.47,55.39 L198.70,55.94 L198.94,56.50 L199.18,57.07 L199.42,57.64 L199.65,58.22 L199.89,58.80 L200.13,59.39 L200.37,59.99 L200.60,60.60 L200.84,61.21 L201.08,61.82 L201.32,62.44 L201.56,63.07 L201.79,63.71 L202.03,64.34 L202.27,64.99 L202.51,65.64 L202.74,66.29 L202.98,66.95 L203.22,67.62 L203.46,68.29 L203.69,68.97 L203.93,69.65 L204.17,70.33 L204.41,71.02 L204.65,71.71 L204.88,72.41 L205.12,73.11 L205.36,73.82 L205.60,74.53 L205.83,75.24 L206.07,75.96 L206.31,76.68 L206.55,77.41 L206.78,78.14 L207.02,78.87 L207.26,79.60 L207.50,80.34 L207.74,81.08 L207.97,81.83 L208.21,82.57 L208.45,83.32 L208.69,84.07 L208.92,84.83 L209.16,85.58 L209.40,86.34 L209.64,87.10 L209.88,87.86 L210.11,88.63 L210.35,89.39 L210.59,90.16 L210.83,90.93 L211.06,91.70 L211.30,92.47 L211.54,93.24 L211.78,94.02 L212.01,94.79 L212.25,95.56 L212.49,96.34 L212.73,97.11 L212.97,97.89 L213.20,98.67 L213.44,99.44 L213.68,100.22 L213.92,100.99 L214.15,101.77 L214.39,102.54 L214.63,103.32 L214.87,104.09 L215.10,104.86 L215.34,105.64 L215.58,106.41 L215.82,107.18 L216.06,107.95 L216.29,108.71 L216.53,109.48 L216.77,110.24 L217.01,111.00 L217.24,111.77 L217.48,112.52 L217.72,113.28 L217.96,114.03 L218.19,114.79 L218.43,115.53 L218.67,116.28 L218.91,117.02 L219.15,117.77 L219.38,118.50 L219.62,119.24 L219.86,119.97 L220.10,120.70 L220.33,121.42 L220.57,122.14 L220.81,122.86 L221.05,123.58 L221.28,124.29 L221.52,124.99 L221.76,125.70 L222.00,126.39 L222.24,127.09 L222.47,127.78 L222.71,128.46 L222.95,129.14 L223.19,129.82 L223.42,130.49 L223.66,131.15 L223.90,131.81 L224.14,132.47 L224.37,133.12 L224.61,133.76 L224.85,134.40 L225.09,135.03 L225.33,135.66 L225.56,136.28 L225.80,136.90 L226.04,137.51 L226.28,138.11 L226.51,138.71 L226.75,139.30 L226.99,139.89 L227.23,140.47 L227.46,141.04 L227.70,141.60 L227.94,142.16 L228.18,142.72 L228.42,143.26 L228.65,143.80 L228.89,144.33 L229.13,144.85 L229.37,145.37 L229.60,145.88 L229.84,146.38 L230.08,146.88 L230.32,147.36 L230.55,147.84 L230.79,148.32 L231.03,148.78 L231.27,149.24 L231.51,149.68 L231.74,150.12 L231.98,150.56 L232.22,150.98 L232.46,151.40 L232.69,151.80 L232.93,152.20 L233.17,152.59 L233.41,152.97 L233.65,153.35 L233.88,153.71 L234.12,154.07 L234.36,154.42 L234.60,154.76 L234.83,155.09 L235.07,155.41 L235.31,155.72 L235.55,156.03 L235.78,156.32 L236.02,156.61 L236.26,156.88 L236.50,157.15 L236.74,157.41 L236.97,157.66 L237.21,157.90 L237.45,158.13 L237.69,158.35 L237.92,158.56 L238.16,158.76 L238.40,158.96 L238.64,159.14 L238.87,159.31 L239.11,159.48 L239.35,159.63 L239.59,159.78 L239.83,159.91 L240.06,160.04 L240.30,160.16 L240.54,160.26 L240.78,160.36 L241.01,160.45 L241.25,160.53 L241.49,160.59 L241.73,160.65 L241.96,160.70 L242.20,160.74 L242.44,160.77 L242.68,160.79 L242.92,160.80 L243.15,160.80 L243.39,160.79 L243.63,160.77 L243.87,160.74 L244.10,160.70 L244.34,160.65 L244.58,160.59 L244.82,160.53 L245.05,160.45 L245.29,160.36 L245.53,160.26 L245.77,160.16 L246.01,160.04 L246.24,159.91 L246.48,159.78 L246.72,159.63 L246.96,159.48 L247.19,159.31 L247.43,159.14 L247.67,158.95 L247.91,158.76 L248.14,158.56 L248.38,158.35 L248.62,158.13 L248.86,157.89 L249.10,157.66 L249.33,157.41 L249.57,157.15 L249.81,156.88 L250.05,156.60 L250.28,156.32 L250.52,156.02 L250.76,155.72 L251.00,155.41 L251.23,155.09 L251.47,154.75 L251.71,154.42 L251.95,154.07 L252.19,153.71 L252.42,153.35 L252.66,152.97 L252.90,152.59 L253.14,152.20 L253.37,151.80 L253.61,151.39 L253.85,150.98 L254.09,150.55 L254.32,150.12 L254.56,149.68 L254.80,149.23 L255.04,148.78 L255.28,148.31 L255.51,147.84 L255.75,147.36 L255.99,146.87 L256.23,146.38 L256.46,145.88 L256.70,145.37 L256.94,144.85 L257.18,144.33 L257.42,143.79 L257.65,143.26 L257.89,142.71 L258.13,142.16 L258.37,141.60 L258.60,141.03 L258.84,140.46 L259.08,139.88 L259.32,139.30 L259.55,138.71 L259.79,138.11 L260.03,137.50 L260.27,136.89 L260.51,136.28 L260.74,135.66 L260.98,135.03 L261.22,134.39 L261.46,133.76 L261.69,133.11 L261.93,132.46 L262.17,131.81 L262.41,131.15 L262.64,130.48 L262.88,129.81 L263.12,129.13 L263.36,128.45 L263.60,127.77 L263.83,127.08 L264.07,126.39 L264.31,125.69 L264.55,124.99 L264.78,124.28 L265.02,123.57 L265.26,122.86 L265.50,122.14 L265.73,121.42 L265.97,120.69 L266.21,119.96 L266.45,119.23 L266.69,118.50 L266.92,117.76 L267.16,117.02 L267.40,116.27 L267.64,115.53 L267.87,114.78 L268.11,114.03 L268.35,113.27 L268.59,112.52 L268.82,111.76 L269.06,111.00 L269.30,110.24" stroke="#00ee00" stroke-width="2.4"/>
<path d="M31.60,99.05 L31.84,99.05 L32.08,99.04 L32.31,99.02 L32.55,98.99 L32.79,98.93 L33.03,98.86 L33.26,98.76 L33.50,98.64 L33.74,98.49 L33.98,98.32 L34.21,98.13 L34.45,97.92 L34.69,97.68 L34.93,97.41 L35.17,97.13 L35.40,96.83 L35.64,96.50 L35.88,96.15 L36.12,95.79 L36.35,95.41 L36.59,95.01 L36.83,94.59 L37.07,94.16 L37.30,93.71 L37.54,93.25 L37.78,92.77 L38.02,92.28 L38.26,91.78 L38.49,91.27 L38.73,90.75 L38.97,90.22 L39.21,89.68 L39.44,89.12 L39.68,88.57 L39.92,88.00 L40.16,87.42 L40.39,86.84 L40.63,86.26 L40.87,85.66 L41.11,85.06 L41.35,84.46 L41.58,83.85 L41.82,83.24 L42.06,82.63 L42.30,82.01 L42.53,81.39 L42.77,80.76 L43.01,80.14 L43.25,79.51 L43.48,78.88 L43.72,78.25 L43.96,77.62 L44.20,76.99 L44.44,76.35 L44.67,75.72 L44.91,75.09 L45.15,74.46 L45.39,73.83 L45.62,73.20 L45.86,72.57 L46.10,71.94 L46.34,71.32 L46.58,70.70 L46.81,70.08 L47.05,69.46 L47.29,68.84 L47.53,68.23 L47.76,67.62 L48.00,67.01 L48.24,66.41 L48.48,65.81 L48.71,65.21 L48.95,64.62 L49.19,64.03 L49.43,63.45 L49.67,62.87 L49.90,62.29 L50.14,61.72 L50.38,61.15 L50.62,60.59 L50.85,60.04 L51.09,59.49 L51.33,58.94 L51.57,58.40 L51.80,57.87 L52.04,57.34 L52.28,56.81 L52.52,56.30 L52.76,55.79 L52.99,55.28 L53.23,54.78 L53.47,54.29 L53.71,53.80 L53.94,53.33 L54.18,52.85 L54.42,52.39 L54.66,51.93 L54.89,51.48 L55.13,51.03 L55.37,50.60 L55.61,50.17 L55.85,49.74 L56.08,49.33 L56.32,48.92 L56.56,48.52 L56.80,48.13 L57.03,47.74 L57.27,47.37 L57.51,47.00 L57.75,46.64 L57.98,46.29 L58.22,45.94 L58.46,45.60 L58.70,45.28 L58.94,44.96 L59.17,44.64 L59.41,44.34 L59.65,44.05 L59.89,43.76 L60.12,43.48 L60.36,43.21 L60.60,42.95 L60.84,42.70 L61.07,42.46 L61.31,42.22 L61.55,42.00 L61.79,41.78 L62.03,41.58 L62.26,41.38 L62.50,41.19 L62.74,41.01 L62.98,40.84 L63.21,40.67 L63.45,40.52 L63.69,40.38 L63.93,40.24 L64.16,40.12 L64.40,40.00 L64.64,39.90 L64.88,39.80 L65.12,39.71 L65.35,39.63 L65.59,39.56 L65.83,39.50 L66.07,39.45 L66.30,39.41 L66.54,39.38 L66.78,39.35 L67.02,39.34 L67.25,39.34 L67.49,39.34 L67.73,39.36 L67.97,39.38 L68.21,39.41 L68.44,39.46 L68.68,39.51 L68.92,39.57 L69.16,39.64 L69.39,39.72 L69.63,39.81 L69.87,39.91 L70.11,40.02 L70.35,40.14 L70.58,40.27 L70.82,40.40 L71.06,40.55 L71.30,40.70 L71.53,40.87 L71.77,41.04 L72.01,41.22 L72.25,41.41 L72.48,41.61 L72.72,41.82 L72.96,42.04 L73.20,42.27 L73.44,42.51 L73.67,42.75 L73.91,43.01 L74.15,43.27 L74.39,43.54 L74.62,43.82 L74.86,44.11 L75.10,44.41 L75.34,44.72 L75.57,45.03 L75.81,45.36 L76.05,45.69 L76.29,46.03 L76.53,46.38 L76.76,46.74 L77.00,47.10 L77.24,47.48 L77.48,47.86 L77.71,48.25 L77.95,48.65 L78.19,49.05 L78.43,49.47 L78.66,49.89 L78.90,50.32 L79.14,50.76 L79.38,51.20 L79.62,51.65 L79.85,52.11 L80.09,52.58 L80.33,53.05 L80.57,53.54 L80.80,54.03 L81.04,54.52 L81.28,55.03 L81.52,55.54 L81.75,56.05 L81.99,56.58 L82.23,57.11 L82.47,57.64 L82.71,58.19 L82.94,58.74 L83.18,59.29 L83.42,59.86 L83.66,60.43 L83.89,61.00 L84.13,61.58 L84.37,62.17 L84.61,62.76 L84.84,63.36 L85.08,63.97 L85.32,64.58 L85.56,65.19 L85.80,65.81 L86.03,66.44 L86.27,67.07 L86.51,67.70 L86.75,68.35 L86.98,68.99 L87.22,69.64 L87.46,70.30 L87.70,70.96 L87.93,71.62 L88.17,72.29 L88.41,72.96 L88.65,73.64 L88.89,74.32 L89.12,75.00 L89.36,75.69 L89.60,76.39 L89.84,77.08 L90.07,77.78 L90.31,78.48 L90.55,79.19 L90.79,79.90 L91.03,80.61 L91.26,81.32 L91.50,82.04 L91.74,82.76 L91.98,83.49 L92.21,84.21 L92.45,84.94 L92.69,85.67 L92.93,86.40 L93.16,87.14 L93.40,87.87 L93.64,88.61 L93.88,89.35 L94.12,90.09 L94.35,90.83 L94.59,91.58 L94.83,92.32 L95.07,93.07 L95.30,93.81 L95.54,94.56 L95.78,95.31 L96.02,96.06 L96.25,96.81 L96.49,97.56 L96.73,98.31 L96.97,99.06 L97.21,99.81 L97.44,100.56 L97.68,101.31 L97.92,102.06 L98.16,102.81 L98.39,103.56 L98.63,104.30 L98.87,105.05 L99.11,105.80 L99.34,106.54 L99.58,107.29 L99.82,108.03 L100.06,108.77 L100.30,109.51 L100.53,110.25 L100.77,110.98 L101.01,111.72 L101.25,112.45 L101.48,113.18 L101.72,113.91 L101.96,114.63 L102.20,115.35 L102.43,116.07 L102.67,116.79 L102.91,117.51 L103.15,118.22 L103.39,118.93 L103.62,119.63 L103.86,120.34 L104.10,121.04 L104.34,121.73 L104.57,122.42 L104.81,123.11 L105.05,123.80 L105.29,124.48 L105.52,125.15 L105.76,125.83 L106.00,126.50 L106.24,127.16 L106.48,127.82 L106.71,128.47 L106.95,129.12 L107.19,129.77 L107.43,130.41 L107.66,131.05 L107.90,131.68 L108.14,132.30 L108.38,132.92 L108.61,133.54 L108.85,134.15 L109.09,134.75 L109.33,135.35 L109.57,135.94 L109.80,136.53 L110.04,137.11 L110.28,137.69 L110.52,138.26 L110.75,138.82 L110.99,139.37 L111.23,139.92 L111.47,140.47 L111.70,141.01 L111.94,141.54 L112.18,142.06 L112.42,142.58 L112.66,143.09 L112.89,143.59 L113.13,144.09 L113.37,144.57 L113.61,145.06 L113.84,145.53 L114.08,146.00 L114.32,146.46 L114.56,146.91 L114.80,147.35 L115.03,147.79 L115.27,148.22 L115.51,148.64 L115.75,149.06 L115.98,149.46 L116.22,149.86 L116.46,150.25 L116.70,150.63 L116.93,151.01 L117.17,151.37 L117.41,151.73 L117.65,152.08 L117.89,152.42 L118.12,152.75 L118.36,153.07 L118.60,153.39 L118.84,153.69 L119.07,153.99 L119.31,154.28 L119.55,154.56 L119.79,154.83 L120.02,155.10 L120.26,155.35 L120.50,155.60 L120.74,155.83 L120.98,156.06 L121.21,156.28 L121.45,156.49 L121.69,156.69 L121.93,156.88 L122.16,157.06 L122.40,157.23 L122.64,157.40 L122.88,157.55 L123.11,157.70 L123.35,157.83 L123.59,157.96 L123.83,158.07 L124.07,158.18 L124.30,158.28 L124.54,158.37 L124.78,158.45 L125.02,158.52 L125.25,158.58 L125.49,158.63 L125.73,158.68 L125.97,158.71 L126.20,158.73 L126.44,158.75 L126.68,158.75 L126.92,158.75 L127.16,158.73 L127.39,158.71 L127.63,158.67 L127.87,158.63 L128.11,158.58 L128.34,158.52 L128.58,158.45 L128.82,158.37 L129.06,158.28 L129.29,158.18 L129.53,158.07 L129.77,157.95 L130.01,157.83 L130.25,157.69 L130.48,157.55 L130.72,157.39 L130.96,157.23 L131.20,157.06 L131.43,156.87 L131.67,156.68 L131.91,156.48 L132.15,156.27 L132.38,156.05 L132.62,155.83 L132.86,155.59 L133.10,155.34 L133.34,155.09 L133.57,154.83 L133.81,154.56 L134.05,154.27 L134.29,153.99 L134.52,153.69 L134.76,153.38 L135.00,153.07 L135.24,152.74 L135.47,152.41 L135.71,152.07 L135.95,151.72 L136.19,151.36 L136.43,151.00 L136.66,150.62 L136.90,150.24 L137.14,149.85 L137.38,149.45 L137.61,149.05 L137.85,148.63 L138.09,148.21 L138.33,147.78 L138.56,147.34 L138.80,146.90 L139.04,146.45 L139.28,145.99 L139.52,145.52 L139.75,145.04 L139.99,144.56 L140.23,144.07 L140.47,143.58 L140.70,143.07 L140.94,142.56 L141.18,142.05 L141.42,141.52 L141.66,140.99 L141.89,140.46 L142.13,139.91 L142.37,139.36 L142.61,138.80 L142.84,138.24 L143.08,137.67 L143.32,137.10 L143.56,136.52 L143.79,135.93 L144.03,135.34 L144.27,134.74 L144.51,134.13 L144.75,133.52 L144.98,132.91 L145.22,132.29 L145.46,131.66 L145.70,131.03 L145.93,130.40 L146.17,129.75 L146.41,129.11 L146.65,128.46 L146.88,127.80 L147.12,127.14 L147.36,126.48 L147.60,125.81 L147.84,125.14 L148.07,124.46 L148.31,123.78 L148.55,123.10 L148.79,122.41 L149.02,121.71 L149.26,121.02 L149.50,120.32 L149.74,119.62 L149.97,118.91 L150.21,118.20 L150.45,117.49 L150.69,116.78 L150.93,116.06 L151.16,115.34 L151.40,114.61 L151.64,113.89 L151.88,113.16 L152.11,112.43 L152.35,111.70 L152.59,110.96 L152.83,110.23 L153.06,109.49 L153.30,108.75 L153.54,108.01 L153.78,107.27 L154.02,106.52 L154.25,105.78 L154.49,105.03 L154.73,104.29 L154.97,103.54 L155.20,102.79 L155.44,102.04 L155.68,101.29 L155.92,100.54 L156.15,99.79 L156.39,99.04 L156.63,98.29 L156.87,97.54 L157.11,96.79 L157.34,96.04 L157.58,95.29 L157.82,94.54 L158.06,93.80 L158.29,93.05 L158.53,92.30 L158.77,91.56 L159.01,90.81 L159.24,90.07 L159.48,89.33 L159.72,88.59 L159.96,87.85 L160.20,87.12 L160.43,86.38 L160.67,85.65 L160.91,84.92 L161.15,84.19 L161.38,83.47 L161.62,82.75 L161.86,82.03 L162.10,81.31 L162.34,80.59 L162.57,79.88 L162.81,79.17 L163.05,78.47 L163.29,77.76 L163.52,77.06 L163.76,76.37 L164.00,75.68 L164.24,74.99 L164.47,74.30 L164.71,73.62 L164.95,72.95 L165.19,72.27 L165.43,71.60 L165.66,70.94 L165.90,70.28 L166.14,69.63 L166.38,68.98 L166.61,68.33 L166.85,67.69 L167.09,67.05 L167.33,66.42 L167.56,65.80 L167.80,65.18 L168.04,64.56 L168.28,63.95 L168.52,63.35 L168.75,62.75 L168.99,62.16 L169.23,61.57 L169.47,60.99 L169.70,60.41 L169.94,59.84 L170.18,59.28 L170.42,58.73 L170.65,58.18 L170.89,57.63 L171.13,57.09 L171.37,56.56 L171.61,56.04 L171.84,55.52 L172.08,55.01 L172.32,54.51 L172.56,54.01 L172.79,53.53 L173.03,53.04 L173.27,52.57 L173.51,52.10 L173.74,51.64 L173.98,51.19 L174.22,50.75 L174.46,50.31 L174.70,49.88 L174.93,49.46 L175.17,49.04 L175.41,48.64 L175.65,48.24 L175.88,47.85 L176.12,47.47 L176.36,47.09 L176.60,46.73 L176.83,46.37 L177.07,46.02 L177.31,45.68 L177.55,45.35 L177.79,45.03 L178.02,44.71 L178.26,44.41 L178.50,44.11 L178.74,43.82 L178.97,43.54 L179.21,43.27 L179.45,43.00 L179.69,42.75 L179.92,42.50 L180.16,42.27 L180.40,42.04 L180.64,41.82 L180.88,41.61 L181.11,41.41 L181.35,41.22 L181.59,41.04 L181.83,40.87 L182.06,40.70 L182.30,40.55 L182.54,40.40 L182.78,40.27 L183.01,40.14 L183.25,40.03 L183.49,39.92 L183.73,39.82 L183.97,39.73 L184.20,39.65 L184.44,39.58 L184.68,39.52 L184.92,39.47 L185.15,39.42 L185.39,39.39 L185.63,39.37 L185.87,39.35 L186.11,39.35 L186.34,39.35 L186.58,39.37 L186.82,39.39 L187.06,39.43 L187.29,39.47 L187.53,39.52 L187.77,39.58 L188.01,39.65 L188.24,39.73 L188.48,39.82 L188.72,39.92 L188.96,40.03 L189.20,40.15 L189.43,40.27 L189.67,40.41 L189.91,40.55 L190.15,40.71 L190.38,40.87 L190.62,41.04 L190.86,41.23 L191.10,41.42 L191.33,41.62 L191.57,41.83 L191.81,42.05 L192.05,42.27 L192.29,42.51 L192.52,42.76 L192.76,43.01 L193.00,43.27 L193.24,43.54 L193.47,43.83 L193.71,44.11 L193.95,44.41 L194.19,44.72 L194.42,45.03 L194.66,45.36 L194.90,45.69 L195.14,46.03 L195.38,46.38 L195.61,46.74 L195.85,47.10 L196.09,47.48 L196.33,47.86 L196.56,48.25 L196.80,48.65 L197.04,49.05 L197.28,49.47 L197.51,49.89 L197.75,50.32 L197.99,50.76 L198.23,51.20 L198.47,51.65 L198.70,52.11 L198.94,52.58 L199.18,53.06 L199.42,53.54 L199.65,54.03 L199.89,54.52 L200.13,55.03 L200.37,55.54 L200.60,56.05 L200.84,56.58 L201.08,57.11 L201.32,57.64 L201.56,58.19 L201.79,58.74 L202.03,59.30 L202.27,59.86 L202.51,60.43 L202.74,61.00 L202.98,61.58 L203.22,62.17 L203.46,62.76 L203.69,63.36 L203.93,63.97 L204.17,64.58 L204.41,65.19 L204.65,65.81 L204.88,66.44 L205.12,67.07 L205.36,67.70 L205.60,68.35 L205.83,68.99 L206.07,69.64 L206.31,70.30 L206.55,70.96 L206.78,71.62 L207.02,72.29 L207.26,72.96 L207.50,73.64 L207.74,74.32 L207.97,75.00 L208.21,75.69 L208.45,76.39 L208.69,77.08 L208.92,77.78 L209.16,78.48 L209.40,79.19 L209.64,79.90 L209.88,80.61 L210.11,81.32 L210.35,82.04 L210.59,82.76 L210.83,83.49 L211.06,84.21 L211.30,84.94 L211.54,85.67 L211.78,86.40 L212.01,87.14 L212.25,87.87 L212.49,88.61 L212.73,89.35 L212.97,90.09 L213.20,90.83 L213.44,91.58 L213.68,92.32 L213.92,93.07 L214.15,93.81 L214.39,94.56 L214.63,95.31 L214.87,96.06 L215.10,96.81 L215.34,97.56 L215.58,98.31 L215.82,99.06 L216.06,99.81 L216.29,100.56 L216.53,101.31 L216.77,102.06 L217.01,102.81 L217.24,103.56 L217.48,104.30 L217.72,105.05 L217.96,105.80 L218.19,106.54 L218.43,107.29 L218.67,108.03 L218.91,108.77 L219.15,109.51 L219.38,110.25 L219.62,110.98 L219.86,111.72 L220.10,112.45 L220.33,113.18 L220.57,113.91 L220.81,114.63 L221.05,115.35 L221.28,116.07 L221.52,116.79 L221.76,117.51 L222.00,118.22 L222.24,118.93 L222.47,119.63 L222.71,120.34 L222.95,121.04 L223.19,121.73 L223.42,122.42 L223.66,123.11 L223.90,123.80 L224.14,124.48 L224.37,125.15 L224.61,125.83 L224.85,126.50 L225.09,127.16 L225.33,127.82 L225.56,128.47 L225.80,129.12 L226.04,129.77 L226.28,130.41 L226.51,131.05 L226.75,131.68 L226.99,132.30 L227.23,132.92 L227.46,133.54 L227.70,134.15 L227.94,134.75 L228.18,135.35 L228.42,135.94 L228.65,136.53 L228.89,137.11 L229.13,137.69 L229.37,138.26 L229.60,138.82 L229.84,139.37 L230.08,139.92 L230.32,140.47 L230.55,141.01 L230.79,141.54 L231.03,142.06 L231.27,142.58 L231.51,143.09 L231.74,143.59 L231.98,144.09 L232.22,144.57 L232.46,145.06 L232.69,145.53 L232.93,146.00 L233.17,146.46 L233.41,146.91 L233.65,147.35 L233.88,147.79 L234.12,148.22 L234.36,148.64 L234.60,149.06 L234.83,149.46 L235.07,149.86 L235.31,150.25 L235.55,150.63 L235.78,151.01 L236.02,151.37 L236.26,151.73 L236.50,152.08 L236.74,152.42 L236.97,152.75 L237.21,153.07 L237.45,153.39 L237.69,153.69 L237.92,153.99 L238.16,154.28 L238.40,154.56 L238.64,154.83 L238.87,155.10 L239.11,155.35 L239.35,155.60 L239.59,155.83 L239.83,156.06 L240.06,156.28 L240.30,156.49 L240.54,156.69 L240.78,156.88 L241.01,157.06 L241.25,157.23 L241.49,157.40 L241.73,157.55 L241.96,157.70 L242.20,157.83 L242.44,157.96 L242.68,158.07 L242.92,158.18 L243.15,158.28 L243.39,158.37 L243.63,158.45 L243.87,158.52 L244.10,158.58 L244.34,158.63 L244.58,158.68 L244.82,158.71 L245.05,158.73 L245.29,158.75 L245.53,158.75 L245.77,158.75 L246.01,158.73 L246.24,158.71 L246.48,158.67 L246.72,158.63 L246.96,158.58 L247.19,158.52 L247.43,158.45 L247.67,158.37 L247.91,158.28 L248.14,158.18 L248.38,158.07 L248.62,157.95 L248.86,157.83 L249.10,157.69 L249.33,157.55 L249.57,157.39 L249.81,157.23 L250.05,157.06 L250.28,156.87 L250.52,156.68 L250.76,156.48 L251.00,156.27 L251.23,156.05 L251.47,155.83 L251.71,155.59 L251.95,155.34 L252.19,155.09 L252.42,154.83 L252.66,154.56 L252.90,154.27 L253.14,153.99 L253.37,153.69 L253.61,153.38 L253.85,153.07 L254.09,152.74 L254.32,152.41 L254.56,152.07 L254.80,151.72 L255.04,151.36 L255.28,151.00 L255.51,150.62 L255.75,150.24 L255.99,149.85 L256.23,149.45 L256.46,149.05 L256.70,148.63 L256.94,148.21 L257.18,147.78 L257.42,147.34 L257.65,146.90 L257.89,146.45 L258.13,145.99 L258.37,145.52 L258.60,145.04 L258.84,144.56 L259.08,144.07 L259.32,143.58 L259.55,143.07 L259.79,142.56 L260.03,142.05 L260.27,141.52 L260.51,140.99 L260.74,140.46 L260.98,139.91 L261.22,139.36 L261.46,138.80 L261.69,138.24 L261.93,137.67 L262.17,137.10 L262.41,136.52 L262.64,135.93 L262.88,135.34 L263.12,134.74 L263.36,134.13 L263.60,133.52 L263.83,132.91 L264.07,132.29 L264.31,131.66 L264.55,131.03 L264.78,130.40 L265.02,129.75 L265.26,129.11 L265.50,128.46 L265.73,127.80 L265.97,127.14 L266.21,126.48 L266.45,125.81 L266.69,125.14 L266.92,124.46 L267.16,123.78 L267.40,123.10 L267.64,122.41 L267.87,121.71 L268.11,121.02 L268.35,120.32 L268.59,119.62 L268.82,118.91 L269.06,118.20 L269.30,117.49" stroke="#2020ff" stroke-width="1.1"/>
<rect x="30.00" y="97.45" width="3.2" height="3.2" stroke="#6060ff" stroke-opacity="0.9" stroke-width="0.7"/>
<rect x="60.31" y="40.08" width="3.2" height="3.2" stroke="#6060ff" stroke-opacity="0.9" stroke-width="0.7"/>
<rect x="72.19" y="41.28" width="3.2" height="3.2" stroke="#6060ff" stroke-opacity="0.9" stroke-width="0.7"/>
<rect x="84.08" y="63.90" width="3.2" height="3.2" stroke="#6060ff" stroke-opacity="0.9" stroke-width="0.7"/>
<rect x="95.96" y="99.33" width="3.2" height="3.2" stroke="#6060ff" stroke-opacity="0.9" stroke-width="0.7"/>
<rect x="107.85" y="134.05" width="3.2" height="3.2" stroke="#6060ff" stroke-opacity="0.9" stroke-width="0.7"/>
<rect x="119.73" y="154.78" width="3.2" height="3.2" stroke="#6060ff" stroke-opacity="0.9" stroke-width="0.7"/>
<rect x="131.62" y="153.62" width="3.2" height="3.2" stroke="#6060ff" stroke-opacity="0.9" stroke-width="0.7"/>
<rect x="143.50" y="131.00" width="3.2" height="3.2" stroke="#6060ff" stroke-opacity="0.9" stroke-width="0.7"/>
<rect x="155.39" y="95.57" width="3.2" height="3.2" stroke="#6060ff" stroke-opacity="0.9" stroke-width="0.7"/>
<rect x="167.27" y="60.85" width="3.2" height="3.2" stroke="#6060ff" stroke-opacity="0.9" stroke-width="0.7"/>
<rect x="179.16" y="40.12" width="3.2" height="3.2" stroke="#6060ff" stroke-opacity="0.9" stroke-width="0.7"/>
<rect x="191.04" y="41.28" width="3.2" height="3.2" stroke="#6060ff" stroke-opacity="0.9" stroke-width="0.7"/>
<rect x="202.93" y="63.90" width="3.2" height="3.2" stroke="#6060ff" stroke-opacity="0.9" stroke-width="0.7"/>
<rect x="214.81" y="99.33" width="3.2" height="3.2" stroke="#6060ff" stroke-opacity="0.9" stroke-width="0.7"/>
<rect x="226.70" y="134.05" width="3.2" height="3.2" stroke="#6060ff" stroke-opacity="0.9" stroke-width="0.7"/>
<rect x="238.58" y="154.78" width="3.2" height="3.2" stroke="#6060ff" stroke-opacity="0.9" stroke-width="0.7"/>
<rect x="250.47" y="153.62" width="3.2" height="3.2" stroke="#6060ff" stroke-opacity="0.9" stroke-width="0.7"/>
<rect x="262.35" y="131.00" width="3.2" height="3.2" stroke="#6060ff" stroke-opacity="0.9" stroke-width="0.7"/>
</g>
<g font-family="Liberation Sans, Arial, sans-serif" font-size="6.7" fill="#3a3a3a" stroke="#3a3a3a" stroke-width="0.15">
<text x="31.60" y="202.70" text-anchor="middle">0</text>
<text x="55.37" y="202.70" text-anchor="middle">0.2</text>
<text x="79.14" y="202.70" text-anchor="middle">0.4</text>
<text x="102.91" y="202.70" text-anchor="middle">0.6</text>
<text x="126.68" y="202.70" text-anchor="middle">0.8</text>
<text x="150.45" y="202.70" text-anchor="middle">1</text>
<text x="174.22" y="202.70" text-anchor="middle">1.2</text>
<text x="197.99" y="202.70" text-anchor="middle">1.4</text>
<text x="221.76" y="202.70" text-anchor="middle">1.6</text>
<text x="245.53" y="202.70" text-anchor="middle">1.8</text>
<text x="269.30" y="202.70" text-anchor="middle">2</text>
<text x="28.00" y="194.50" text-anchor="end">-1.5</text>
<text x="28.00" y="163.62" text-anchor="end">-1</text>
<text x="28.00" y="132.73" text-anchor="end">-0.5</text>
<text x="28.00" y="101.85" text-anchor="end">0</text>
<text x="28.00" y="70.97" text-anchor="end">0.5</text>
<text x="28.00" y="40.08" text-anchor="end">1</text>
<text x="28.00" y="9.20" text-anchor="end">1.5</text>
</g>
<g font-family="Liberation Sans, Arial, sans-serif" font-size="11" fill="#2a2a2a" stroke="#2a2a2a" stroke-width="0.2">
<text x="150.95" y="216.40" text-anchor="middle" xml:space="preserve">Time  (s)</text>
<text transform="translate(11.00,99.25) rotate(-90)" text-anchor="middle" xml:space="preserve">X  (mm)</text>
</g>
<rect x="190.60" y="13.50" width="71.4" height="36.4" fill="#fff" stroke="#666" stroke-width="0.7"/>
<path d="M193.30,20.30 h16" stroke="#000" stroke-width="3.2" stroke-dasharray="2.7 2.65" fill="none"/>
<path d="M193.30,32.00 h16" stroke="#00ee00" stroke-width="2.3" fill="none"/>
<path d="M193.30,43.80 h16" stroke="#5a5af5" stroke-width="0.8" fill="none"/>
<rect x="199.60" y="42.10" width="3.4" height="3.4" fill="#fff" stroke="#5a5af5" stroke-width="0.7"/>
<g font-family="Liberation Sans, Arial, sans-serif" font-size="8.8" fill="#1a1a1a" stroke="#1a1a1a" stroke-width="0.15">
<text x="211.10" y="23.50">Command</text>
<text x="211.10" y="35.20">Reference</text>
<text x="211.10" y="47.00">Adaptive On</text>
</g>
<rect x="37.90" y="165.80" width="141.50" height="19.50" fill="#fff" stroke="#4a4a4a" stroke-width="1.1"/>
<text transform="translate(48.90,179.30) scale(0.93,1)" font-family="Liberation Sans, Arial, sans-serif" font-weight="bold" font-size="9.3" word-spacing="2" fill="#111" stroke="#111" stroke-width="0.25">Excitation Frequency : 1 Hz</text>
</g>
<g>
<rect x="308.9" y="6.4" width="237.50" height="185.30" fill="none" stroke="#969696" stroke-width="0.8"/>
<path d="M308.90,191.7 v-2.8 M308.90,6.4 v2.8 M332.65,191.7 v-2.8 M332.65,6.4 v2.8 M356.40,191.7 v-2.8 M356.40,6.4 v2.8 M380.15,191.7 v-2.8 M380.15,6.4 v2.8 M403.90,191.7 v-2.8 M403.90,6.4 v2.8 M427.65,191.7 v-2.8 M427.65,6.4 v2.8 M451.40,191.7 v-2.8 M451.40,6.4 v2.8 M475.15,191.7 v-2.8 M475.15,6.4 v2.8 M498.90,191.7 v-2.8 M498.90,6.4 v2.8 M522.65,191.7 v-2.8 M522.65,6.4 v2.8 M546.40,191.7 v-2.8 M546.40,6.4 v2.8 M308.9,191.70 h2.8 M546.4,191.70 h-2.8 M308.9,160.82 h2.8 M546.4,160.82 h-2.8 M308.9,129.93 h2.8 M546.4,129.93 h-2.8 M308.9,99.05 h2.8 M546.4,99.05 h-2.8 M308.9,68.17 h2.8 M546.4,68.17 h-2.8 M308.9,37.28 h2.8 M546.4,37.28 h-2.8 M308.9,6.40 h2.8 M546.4,6.40 h-2.8" stroke="#969696" stroke-width="0.7" fill="none"/>
<clipPath id="c1"><rect x="308.9" y="6.4" width="237.50" height="185.30"/></clipPath>
<g clip-path="url(#c1)" fill="none" stroke-linejoin="round">
<path d="M308.90,99.05 L309.14,97.50 L309.38,95.95 L309.61,94.40 L309.85,92.85 L310.09,91.31 L310.32,89.77 L310.56,88.24 L310.80,86.71 L311.04,85.20 L311.27,83.69 L311.51,82.19 L311.75,80.70 L311.99,79.23 L312.22,77.76 L312.46,76.31 L312.70,74.88 L312.94,73.46 L313.17,72.05 L313.41,70.66 L313.65,69.29 L313.89,67.94 L314.12,66.61 L314.36,65.30 L314.60,64.01 L314.84,62.74 L315.07,61.50 L315.31,60.28 L315.55,59.08 L315.79,57.91 L316.02,56.77 L316.26,55.65 L316.50,54.56 L316.74,53.50 L316.97,52.46 L317.21,51.46 L317.45,50.48 L317.69,49.54 L317.92,48.63 L318.16,47.75 L318.40,46.90 L318.64,46.08 L318.88,45.30 L319.11,44.55 L319.35,43.84 L319.59,43.16 L319.82,42.52 L320.06,41.91 L320.30,41.34 L320.54,40.80 L320.77,40.31 L321.01,39.85 L321.25,39.42 L321.49,39.04 L321.72,38.69 L321.96,38.38 L322.20,38.11 L322.44,37.87 L322.67,37.68 L322.91,37.52 L323.15,37.41 L323.39,37.33 L323.62,37.29 L323.86,37.29 L324.10,37.33 L324.34,37.41 L324.57,37.52 L324.81,37.68 L325.05,37.87 L325.29,38.11 L325.52,38.38 L325.76,38.69 L326.00,39.04 L326.24,39.42 L326.47,39.85 L326.71,40.31 L326.95,40.80 L327.19,41.34 L327.42,41.91 L327.66,42.52 L327.90,43.16 L328.14,43.84 L328.38,44.55 L328.61,45.30 L328.85,46.08 L329.09,46.90 L329.32,47.75 L329.56,48.63 L329.80,49.54 L330.04,50.48 L330.27,51.46 L330.51,52.46 L330.75,53.50 L330.99,54.56 L331.22,55.65 L331.46,56.77 L331.70,57.91 L331.94,59.08 L332.17,60.28 L332.41,61.50 L332.65,62.74 L332.89,64.01 L333.12,65.30 L333.36,66.61 L333.60,67.94 L333.84,69.29 L334.07,70.66 L334.31,72.05 L334.55,73.46 L334.79,74.88 L335.02,76.31 L335.26,77.76 L335.50,79.23 L335.74,80.70 L335.97,82.19 L336.21,83.69 L336.45,85.20 L336.69,86.71 L336.92,88.24 L337.16,89.77 L337.40,91.31 L337.64,92.85 L337.88,94.40 L338.11,95.95 L338.35,97.50 L338.59,99.05 L338.82,100.60 L339.06,102.15 L339.30,103.70 L339.54,105.25 L339.77,106.79 L340.01,108.33 L340.25,109.86 L340.49,111.39 L340.72,112.90 L340.96,114.41 L341.20,115.91 L341.44,117.40 L341.67,118.87 L341.91,120.34 L342.15,121.79 L342.39,123.22 L342.62,124.64 L342.86,126.05 L343.10,127.44 L343.34,128.81 L343.57,130.16 L343.81,131.49 L344.05,132.80 L344.29,134.09 L344.52,135.36 L344.76,136.60 L345.00,137.82 L345.24,139.02 L345.47,140.19 L345.71,141.33 L345.95,142.45 L346.19,143.54 L346.42,144.60 L346.66,145.64 L346.90,146.64 L347.14,147.62 L347.38,148.56 L347.61,149.47 L347.85,150.35 L348.09,151.20 L348.32,152.02 L348.56,152.80 L348.80,153.55 L349.04,154.26 L349.27,154.94 L349.51,155.58 L349.75,156.19 L349.99,156.76 L350.22,157.30 L350.46,157.79 L350.70,158.25 L350.94,158.68 L351.17,159.06 L351.41,159.41 L351.65,159.72 L351.89,159.99 L352.12,160.23 L352.36,160.42 L352.60,160.58 L352.84,160.69 L353.07,160.77 L353.31,160.81 L353.55,160.81 L353.79,160.77 L354.02,160.69 L354.26,160.58 L354.50,160.42 L354.74,160.23 L354.97,159.99 L355.21,159.72 L355.45,159.41 L355.69,159.06 L355.92,158.68 L356.16,158.25 L356.40,157.79 L356.64,157.30 L356.88,156.76 L357.11,156.19 L357.35,155.58 L357.59,154.94 L357.82,154.26 L358.06,153.55 L358.30,152.80 L358.54,152.02 L358.77,151.20 L359.01,150.35 L359.25,149.47 L359.49,148.56 L359.72,147.62 L359.96,146.64 L360.20,145.64 L360.44,144.60 L360.67,143.54 L360.91,142.45 L361.15,141.33 L361.39,140.19 L361.62,139.02 L361.86,137.82 L362.10,136.60 L362.34,135.36 L362.57,134.09 L362.81,132.80 L363.05,131.49 L363.29,130.16 L363.52,128.81 L363.76,127.44 L364.00,126.05 L364.24,124.64 L364.47,123.22 L364.71,121.79 L364.95,120.34 L365.19,118.87 L365.42,117.40 L365.66,115.91 L365.90,114.41 L366.14,112.90 L366.38,111.39 L366.61,109.86 L366.85,108.33 L367.09,106.79 L367.32,105.25 L367.56,103.70 L367.80,102.15 L368.04,100.60 L368.27,99.05 L368.51,97.50 L368.75,95.95 L368.99,94.40 L369.22,92.85 L369.46,91.31 L369.70,89.77 L369.94,88.24 L370.17,86.71 L370.41,85.20 L370.65,83.69 L370.89,82.19 L371.12,80.70 L371.36,79.23 L371.60,77.76 L371.84,76.31 L372.07,74.88 L372.31,73.46 L372.55,72.05 L372.79,70.66 L373.02,69.29 L373.26,67.94 L373.50,66.61 L373.74,65.30 L373.97,64.01 L374.21,62.74 L374.45,61.50 L374.69,60.28 L374.92,59.08 L375.16,57.91 L375.40,56.77 L375.64,55.65 L375.88,54.56 L376.11,53.50 L376.35,52.46 L376.59,51.46 L376.82,50.48 L377.06,49.54 L377.30,48.63 L377.54,47.75 L377.77,46.90 L378.01,46.08 L378.25,45.30 L378.49,44.55 L378.72,43.84 L378.96,43.16 L379.20,42.52 L379.44,41.91 L379.67,41.34 L379.91,40.80 L380.15,40.31 L380.39,39.85 L380.62,39.42 L380.86,39.04 L381.10,38.69 L381.34,38.38 L381.57,38.11 L381.81,37.87 L382.05,37.68 L382.29,37.52 L382.52,37.41 L382.76,37.33 L383.00,37.29 L383.24,37.29 L383.47,37.33 L383.71,37.41 L383.95,37.52 L384.19,37.68 L384.42,37.87 L384.66,38.11 L384.90,38.38 L385.14,38.69 L385.38,39.04 L385.61,39.42 L385.85,39.85 L386.09,40.31 L386.32,40.80 L386.56,41.34 L386.80,41.91 L387.04,42.52 L387.27,43.16 L387.51,43.84 L387.75,44.55 L387.99,45.30 L388.22,46.08 L388.46,46.90 L388.70,47.75 L388.94,48.63 L389.17,49.54 L389.41,50.48 L389.65,51.46 L389.89,52.46 L390.12,53.50 L390.36,54.56 L390.60,55.65 L390.84,56.77 L391.07,57.91 L391.31,59.08 L391.55,60.28 L391.79,61.50 L392.02,62.74 L392.26,64.01 L392.50,65.30 L392.74,66.61 L392.97,67.94 L393.21,69.29 L393.45,70.66 L393.69,72.05 L393.92,73.46 L394.16,74.88 L394.40,76.31 L394.64,77.76 L394.88,79.23 L395.11,80.70 L395.35,82.19 L395.59,83.69 L395.82,85.20 L396.06,86.71 L396.30,88.24 L396.54,89.77 L396.77,91.31 L397.01,92.85 L397.25,94.40 L397.49,95.95 L397.72,97.50 L397.96,99.05 L398.20,100.60 L398.44,102.15 L398.67,103.70 L398.91,105.25 L399.15,106.79 L399.39,108.33 L399.62,109.86 L399.86,111.39 L400.10,112.90 L400.34,114.41 L400.57,115.91 L400.81,117.40 L401.05,118.87 L401.29,120.34 L401.52,121.79 L401.76,123.22 L402.00,124.64 L402.24,126.05 L402.47,127.44 L402.71,128.81 L402.95,130.16 L403.19,131.49 L403.42,132.80 L403.66,134.09 L403.90,135.36 L404.14,136.60 L404.38,137.82 L404.61,139.02 L404.85,140.19 L405.09,141.33 L405.32,142.45 L405.56,143.54 L405.80,144.60 L406.04,145.64 L406.27,146.64 L406.51,147.62 L406.75,148.56 L406.99,149.47 L407.22,150.35 L407.46,151.20 L407.70,152.02 L407.94,152.80 L408.17,153.55 L408.41,154.26 L408.65,154.94 L408.89,155.58 L409.12,156.19 L409.36,156.76 L409.60,157.30 L409.84,157.79 L410.07,158.25 L410.31,158.68 L410.55,159.06 L410.79,159.41 L411.02,159.72 L411.26,159.99 L411.50,160.23 L411.74,160.42 L411.97,160.58 L412.21,160.69 L412.45,160.77 L412.69,160.81 L412.92,160.81 L413.16,160.77 L413.40,160.69 L413.64,160.58 L413.88,160.42 L414.11,160.23 L414.35,159.99 L414.59,159.72 L414.82,159.41 L415.06,159.06 L415.30,158.68 L415.54,158.25 L415.77,157.79 L416.01,157.30 L416.25,156.76 L416.49,156.19 L416.72,155.58 L416.96,154.94 L417.20,154.26 L417.44,153.55 L417.67,152.80 L417.91,152.02 L418.15,151.20 L418.39,150.35 L418.62,149.47 L418.86,148.56 L419.10,147.62 L419.34,146.64 L419.57,145.64 L419.81,144.60 L420.05,143.54 L420.29,142.45 L420.52,141.33 L420.76,140.19 L421.00,139.02 L421.24,137.82 L421.47,136.60 L421.71,135.36 L421.95,134.09 L422.19,132.80 L422.42,131.49 L422.66,130.16 L422.90,128.81 L423.14,127.44 L423.38,126.05 L423.61,124.64 L423.85,123.22 L424.09,121.79 L424.32,120.34 L424.56,118.87 L424.80,117.40 L425.04,115.91 L425.27,114.41 L425.51,112.90 L425.75,111.39 L425.99,109.86 L426.22,108.33 L426.46,106.79 L426.70,105.25 L426.94,103.70 L427.17,102.15 L427.41,100.60 L427.65,99.05 L427.89,97.50 L428.12,95.95 L428.36,94.40 L428.60,92.85 L428.84,91.31 L429.07,89.77 L429.31,88.24 L429.55,86.71 L429.79,85.20 L430.02,83.69 L430.26,82.19 L430.50,80.70 L430.74,79.23 L430.97,77.76 L431.21,76.31 L431.45,74.88 L431.69,73.46 L431.92,72.05 L432.16,70.66 L432.40,69.29 L432.64,67.94 L432.88,66.61 L433.11,65.30 L433.35,64.01 L433.59,62.74 L433.82,61.50 L434.06,60.28 L434.30,59.08 L434.54,57.91 L434.77,56.77 L435.01,55.65 L435.25,54.56 L435.49,53.50 L435.72,52.46 L435.96,51.46 L436.20,50.48 L436.44,49.54 L436.67,48.63 L436.91,47.75 L437.15,46.90 L437.39,46.08 L437.62,45.30 L437.86,44.55 L438.10,43.84 L438.34,43.16 L438.57,42.52 L438.81,41.91 L439.05,41.34 L439.29,40.80 L439.52,40.31 L439.76,39.85 L440.00,39.42 L440.24,39.04 L440.48,38.69 L440.71,38.38 L440.95,38.11 L441.19,37.87 L441.42,37.68 L441.66,37.52 L441.90,37.41 L442.14,37.33 L442.38,37.29 L442.61,37.29 L442.85,37.33 L443.09,37.41 L443.32,37.52 L443.56,37.68 L443.80,37.87 L444.04,38.11 L444.27,38.38 L444.51,38.69 L444.75,39.04 L444.99,39.42 L445.23,39.85 L445.46,40.31 L445.70,40.80 L445.94,41.34 L446.17,41.91 L446.41,42.52 L446.65,43.16 L446.89,43.84 L447.12,44.55 L447.36,45.30 L447.60,46.08 L447.84,46.90 L448.07,47.75 L448.31,48.63 L448.55,49.54 L448.79,50.48 L449.02,51.46 L449.26,52.46 L449.50,53.50 L449.74,54.56 L449.97,55.65 L450.21,56.77 L450.45,57.91 L450.69,59.08 L450.92,60.28 L451.16,61.50 L451.40,62.74 L451.64,64.01 L451.88,65.30 L452.11,66.61 L452.35,67.94 L452.59,69.29 L452.82,70.66 L453.06,72.05 L453.30,73.46 L453.54,74.88 L453.77,76.31 L454.01,77.76 L454.25,79.23 L454.49,80.70 L454.72,82.19 L454.96,83.69 L455.20,85.20 L455.44,86.71 L455.67,88.24 L455.91,89.77 L456.15,91.31 L456.39,92.85 L456.62,94.40 L456.86,95.95 L457.10,97.50 L457.34,99.05 L457.57,100.60 L457.81,102.15 L458.05,103.70 L458.29,105.25 L458.52,106.79 L458.76,108.33 L459.00,109.86 L459.24,111.39 L459.47,112.90 L459.71,114.41 L459.95,115.91 L460.19,117.40 L460.42,118.87 L460.66,120.34 L460.90,121.79 L461.14,123.22 L461.38,124.64 L461.61,126.05 L461.85,127.44 L462.09,128.81 L462.32,130.16 L462.56,131.49 L462.80,132.80 L463.04,134.09 L463.27,135.36 L463.51,136.60 L463.75,137.82 L463.99,139.02 L464.23,140.19 L464.46,141.33 L464.70,142.45 L464.94,143.54 L465.17,144.60 L465.41,145.64 L465.65,146.64 L465.89,147.62 L466.12,148.56 L466.36,149.47 L466.60,150.35 L466.84,151.20 L467.07,152.02 L467.31,152.80 L467.55,153.55 L467.79,154.26 L468.02,154.94 L468.26,155.58 L468.50,156.19 L468.74,156.76 L468.98,157.30 L469.21,157.79 L469.45,158.25 L469.69,158.68 L469.92,159.06 L470.16,159.41 L470.40,159.72 L470.64,159.99 L470.88,160.23 L471.11,160.42 L471.35,160.58 L471.59,160.69 L471.82,160.77 L472.06,160.81 L472.30,160.81 L472.54,160.77 L472.77,160.69 L473.01,160.58 L473.25,160.42 L473.49,160.23 L473.73,159.99 L473.96,159.72 L474.20,159.41 L474.44,159.06 L474.67,158.68 L474.91,158.25 L475.15,157.79 L475.39,157.30 L475.62,156.76 L475.86,156.19 L476.10,155.58 L476.34,154.94 L476.57,154.26 L476.81,153.55 L477.05,152.80 L477.29,152.02 L477.52,151.20 L477.76,150.35 L478.00,149.47 L478.24,148.56 L478.47,147.62 L478.71,146.64 L478.95,145.64 L479.19,144.60 L479.42,143.54 L479.66,142.45 L479.90,141.33 L480.14,140.19 L480.38,139.02 L480.61,137.82 L480.85,136.60 L481.09,135.36 L481.32,134.09 L481.56,132.80 L481.80,131.49 L482.04,130.16 L482.27,128.81 L482.51,127.44 L482.75,126.05 L482.99,124.64 L483.22,123.22 L483.46,121.79 L483.70,120.34 L483.94,118.87 L484.17,117.40 L484.41,115.91 L484.65,114.41 L484.89,112.90 L485.12,111.39 L485.36,109.86 L485.60,108.33 L485.84,106.79 L486.07,105.25 L486.31,103.70 L486.55,102.15 L486.79,100.60 L487.02,99.05 L487.26,97.50 L487.50,95.95 L487.74,94.40 L487.97,92.85 L488.21,91.31 L488.45,89.77 L488.69,88.24 L488.92,86.71 L489.16,85.20 L489.40,83.69 L489.64,82.19 L489.88,80.70 L490.11,79.23 L490.35,77.76 L490.59,76.31 L490.82,74.88 L491.06,73.46 L491.30,72.05 L491.54,70.66 L491.77,69.29 L492.01,67.94 L492.25,66.61 L492.49,65.30 L492.73,64.01 L492.96,62.74 L493.20,61.50 L493.44,60.28 L493.67,59.08 L493.91,57.91 L494.15,56.77 L494.39,55.65 L494.62,54.56 L494.86,53.50 L495.10,52.46 L495.34,51.46 L495.57,50.48 L495.81,49.54 L496.05,48.63 L496.29,47.75 L496.52,46.90 L496.76,46.08 L497.00,45.30 L497.24,44.55 L497.48,43.84 L497.71,43.16 L497.95,42.52 L498.19,41.91 L498.42,41.34 L498.66,40.80 L498.90,40.31 L499.14,39.85 L499.38,39.42 L499.61,39.04 L499.85,38.69 L500.09,38.38 L500.32,38.11 L500.56,37.87 L500.80,37.68 L501.04,37.52 L501.27,37.41 L501.51,37.33 L501.75,37.29 L501.99,37.29 L502.23,37.33 L502.46,37.41 L502.70,37.52 L502.94,37.68 L503.17,37.87 L503.41,38.11 L503.65,38.38 L503.89,38.69 L504.12,39.04 L504.36,39.42 L504.60,39.85 L504.84,40.31 L505.07,40.80 L505.31,41.34 L505.55,41.91 L505.79,42.52 L506.02,43.16 L506.26,43.84 L506.50,44.55 L506.74,45.30 L506.97,46.08 L507.21,46.90 L507.45,47.75 L507.69,48.63 L507.92,49.54 L508.16,50.48 L508.40,51.46 L508.64,52.46 L508.88,53.50 L509.11,54.56 L509.35,55.65 L509.59,56.77 L509.82,57.91 L510.06,59.08 L510.30,60.28 L510.54,61.50 L510.77,62.74 L511.01,64.01 L511.25,65.30 L511.49,66.61 L511.72,67.94 L511.96,69.29 L512.20,70.66 L512.44,72.05 L512.67,73.46 L512.91,74.88 L513.15,76.31 L513.39,77.76 L513.62,79.23 L513.86,80.70 L514.10,82.19 L514.34,83.69 L514.58,85.20 L514.81,86.71 L515.05,88.24 L515.29,89.77 L515.52,91.31 L515.76,92.85 L516.00,94.40 L516.24,95.95 L516.47,97.50 L516.71,99.05 L516.95,100.60 L517.19,102.15 L517.42,103.70 L517.66,105.25 L517.90,106.79 L518.14,108.33 L518.38,109.86 L518.61,111.39 L518.85,112.90 L519.09,114.41 L519.33,115.91 L519.56,117.40 L519.80,118.87 L520.04,120.34 L520.27,121.79 L520.51,123.22 L520.75,124.64 L520.99,126.05 L521.23,127.44 L521.46,128.81 L521.70,130.16 L521.94,131.49 L522.17,132.80 L522.41,134.09 L522.65,135.36 L522.89,136.60 L523.12,137.82 L523.36,139.02 L523.60,140.19 L523.84,141.33 L524.08,142.45 L524.31,143.54 L524.55,144.60 L524.79,145.64 L525.02,146.64 L525.26,147.62 L525.50,148.56 L525.74,149.47 L525.98,150.35 L526.21,151.20 L526.45,152.02 L526.69,152.80 L526.92,153.55 L527.16,154.26 L527.40,154.94 L527.64,155.58 L527.88,156.19 L528.11,156.76 L528.35,157.30 L528.59,157.79 L528.83,158.25 L529.06,158.68 L529.30,159.06 L529.54,159.41 L529.77,159.72 L530.01,159.99 L530.25,160.23 L530.49,160.42 L530.73,160.58 L530.96,160.69 L531.20,160.77 L531.44,160.81 L531.67,160.81 L531.91,160.77 L532.15,160.69 L532.39,160.58 L532.62,160.42 L532.86,160.23 L533.10,159.99 L533.34,159.72 L533.58,159.41 L533.81,159.06 L534.05,158.68 L534.29,158.25 L534.52,157.79 L534.76,157.30 L535.00,156.76 L535.24,156.19 L535.48,155.58 L535.71,154.94 L535.95,154.26 L536.19,153.55 L536.42,152.80 L536.66,152.02 L536.90,151.20 L537.14,150.35 L537.38,149.47 L537.61,148.56 L537.85,147.62 L538.09,146.64 L538.32,145.64 L538.56,144.60 L538.80,143.54 L539.04,142.45 L539.27,141.33 L539.51,140.19 L539.75,139.02 L539.99,137.82 L540.22,136.60 L540.46,135.36 L540.70,134.09 L540.94,132.80 L541.17,131.49 L541.41,130.16 L541.65,128.81 L541.89,127.44 L542.12,126.05 L542.36,124.64 L542.60,123.22 L542.84,121.79 L543.07,120.34 L543.31,118.87 L543.55,117.40 L543.79,115.91 L544.02,114.41 L544.26,112.90 L544.50,111.39 L544.74,109.86 L544.97,108.33 L545.21,106.79 L545.45,105.25 L545.69,103.70 L545.92,102.15 L546.16,100.60 L546.40,99.05" stroke="#000" stroke-width="2.9" stroke-dasharray="2.5 3.0" stroke-dashoffset="1.3"/>
<path d="M308.90,99.05 L309.14,99.05 L309.38,99.02 L309.61,98.97 L309.85,98.86 L310.09,98.70 L310.32,98.47 L310.56,98.18 L310.80,97.80 L311.04,97.36 L311.27,96.83 L311.51,96.23 L311.75,95.55 L311.99,94.81 L312.22,93.99 L312.46,93.10 L312.70,92.16 L312.94,91.16 L313.17,90.10 L313.41,88.99 L313.65,87.85 L313.89,86.66 L314.12,85.43 L314.36,84.18 L314.60,82.90 L314.84,81.60 L315.07,80.28 L315.31,78.94 L315.55,77.60 L315.79,76.25 L316.02,74.89 L316.26,73.54 L316.50,72.19 L316.74,70.84 L316.97,69.51 L317.21,68.18 L317.45,66.86 L317.69,65.57 L317.92,64.28 L318.16,63.02 L318.40,61.78 L318.64,60.56 L318.88,59.36 L319.11,58.18 L319.35,57.04 L319.59,55.92 L319.82,54.82 L320.06,53.76 L320.30,52.72 L320.54,51.72 L320.77,50.75 L321.01,49.81 L321.25,48.90 L321.49,48.03 L321.72,47.19 L321.96,46.38 L322.20,45.61 L322.44,44.87 L322.67,44.17 L322.91,43.50 L323.15,42.88 L323.39,42.28 L323.62,41.73 L323.86,41.21 L324.10,40.73 L324.34,40.29 L324.57,39.88 L324.81,39.52 L325.05,39.19 L325.29,38.90 L325.52,38.65 L325.76,38.43 L326.00,38.26 L326.24,38.12 L326.47,38.03 L326.71,37.97 L326.95,37.95 L327.19,37.97 L327.42,38.03 L327.66,38.13 L327.90,38.26 L328.14,38.43 L328.38,38.65 L328.61,38.90 L328.85,39.19 L329.09,39.51 L329.32,39.88 L329.56,40.28 L329.80,40.72 L330.04,41.19 L330.27,41.71 L330.51,42.25 L330.75,42.84 L330.99,43.46 L331.22,44.11 L331.46,44.80 L331.70,45.52 L331.94,46.28 L332.17,47.07 L332.41,47.90 L332.65,48.75 L332.89,49.64 L333.12,50.56 L333.36,51.51 L333.60,52.49 L333.84,53.49 L334.07,54.53 L334.31,55.60 L334.55,56.69 L334.79,57.81 L335.02,58.96 L335.26,60.13 L335.50,61.32 L335.74,62.54 L335.97,63.78 L336.21,65.05 L336.45,66.34 L336.69,67.64 L336.92,68.97 L337.16,70.31 L337.40,71.68 L337.64,73.06 L337.88,74.46 L338.11,75.87 L338.35,77.30 L338.59,78.74 L338.82,80.19 L339.06,81.66 L339.30,83.14 L339.54,84.62 L339.77,86.12 L340.01,87.62 L340.25,89.14 L340.49,90.65 L340.72,92.18 L340.96,93.70 L341.20,95.24 L341.44,96.77 L341.67,98.30 L341.91,99.84 L342.15,101.37 L342.39,102.91 L342.62,104.44 L342.86,105.97 L343.10,107.49 L343.34,109.01 L343.57,110.52 L343.81,112.02 L344.05,113.52 L344.29,115.01 L344.52,116.48 L344.76,117.95 L345.00,119.40 L345.24,120.84 L345.47,122.27 L345.71,123.68 L345.95,125.08 L346.19,126.46 L346.42,127.82 L346.66,129.17 L346.90,130.49 L347.14,131.80 L347.38,133.09 L347.61,134.35 L347.85,135.59 L348.09,136.81 L348.32,138.01 L348.56,139.18 L348.80,140.32 L349.04,141.44 L349.27,142.53 L349.51,143.60 L349.75,144.63 L349.99,145.64 L350.22,146.62 L350.46,147.57 L350.70,148.48 L350.94,149.37 L351.17,150.23 L351.41,151.05 L351.65,151.84 L351.89,152.59 L352.12,153.32 L352.36,154.00 L352.60,154.66 L352.84,155.27 L353.07,155.86 L353.31,156.40 L353.55,156.91 L353.79,157.39 L354.02,157.82 L354.26,158.22 L354.50,158.59 L354.74,158.91 L354.97,159.20 L355.21,159.45 L355.45,159.66 L355.69,159.83 L355.92,159.97 L356.16,160.06 L356.40,160.12 L356.64,160.14 L356.88,160.12 L357.11,160.06 L357.35,159.96 L357.59,159.83 L357.82,159.65 L358.06,159.44 L358.30,159.19 L358.54,158.90 L358.77,158.58 L359.01,158.21 L359.25,157.81 L359.49,157.38 L359.72,156.90 L359.96,156.39 L360.20,155.84 L360.44,155.26 L360.67,154.64 L360.91,153.98 L361.15,153.30 L361.39,152.57 L361.62,151.82 L361.86,151.03 L362.10,150.20 L362.34,149.35 L362.57,148.46 L362.81,147.54 L363.05,146.59 L363.29,145.61 L363.52,144.60 L363.76,143.57 L364.00,142.50 L364.24,141.41 L364.47,140.29 L364.71,139.14 L364.95,137.97 L365.19,136.78 L365.42,135.56 L365.66,134.32 L365.90,133.05 L366.14,131.76 L366.38,130.46 L366.61,129.13 L366.85,127.79 L367.09,126.42 L367.32,125.04 L367.56,123.64 L367.80,122.23 L368.04,120.80 L368.27,119.36 L368.51,117.91 L368.75,116.44 L368.99,114.96 L369.22,113.48 L369.46,111.98 L369.70,110.48 L369.94,108.96 L370.17,107.45 L370.41,105.92 L370.65,104.40 L370.89,102.86 L371.12,101.33 L371.36,99.80 L371.60,98.26 L371.84,96.73 L372.07,95.19 L372.31,93.66 L372.55,92.13 L372.79,90.61 L373.02,89.09 L373.26,87.58 L373.50,86.08 L373.74,84.58 L373.97,83.09 L374.21,81.62 L374.45,80.15 L374.69,78.70 L374.92,77.26 L375.16,75.83 L375.40,74.42 L375.64,73.02 L375.88,71.64 L376.11,70.28 L376.35,68.93 L376.59,67.61 L376.82,66.30 L377.06,65.01 L377.30,63.75 L377.54,62.51 L377.77,61.29 L378.01,60.09 L378.25,58.92 L378.49,57.78 L378.72,56.66 L378.96,55.57 L379.20,54.50 L379.44,53.47 L379.67,52.46 L379.91,51.48 L380.15,50.53 L380.39,49.62 L380.62,48.73 L380.86,47.87 L381.10,47.05 L381.34,46.26 L381.57,45.51 L381.81,44.78 L382.05,44.10 L382.29,43.44 L382.52,42.83 L382.76,42.24 L383.00,41.70 L383.24,41.19 L383.47,40.71 L383.71,40.28 L383.95,39.88 L384.19,39.51 L384.42,39.19 L384.66,38.90 L384.90,38.65 L385.14,38.44 L385.38,38.27 L385.61,38.13 L385.85,38.04 L386.09,37.98 L386.32,37.96 L386.56,37.98 L386.80,38.04 L387.04,38.14 L387.27,38.27 L387.51,38.45 L387.75,38.66 L387.99,38.91 L388.22,39.20 L388.46,39.52 L388.70,39.89 L388.94,40.29 L389.17,40.72 L389.41,41.20 L389.65,41.71 L389.89,42.26 L390.12,42.84 L390.36,43.46 L390.60,44.12 L390.84,44.80 L391.07,45.53 L391.31,46.28 L391.55,47.07 L391.79,47.90 L392.02,48.75 L392.26,49.64 L392.50,50.56 L392.74,51.51 L392.97,52.49 L393.21,53.50 L393.45,54.53 L393.69,55.60 L393.92,56.69 L394.16,57.81 L394.40,58.96 L394.64,60.13 L394.88,61.32 L395.11,62.54 L395.35,63.78 L395.59,65.05 L395.82,66.34 L396.06,67.64 L396.30,68.97 L396.54,70.31 L396.77,71.68 L397.01,73.06 L397.25,74.46 L397.49,75.87 L397.72,77.30 L397.96,78.74 L398.20,80.19 L398.44,81.66 L398.67,83.14 L398.91,84.62 L399.15,86.12 L399.39,87.62 L399.62,89.14 L399.86,90.65 L400.10,92.18 L400.34,93.70 L400.57,95.24 L400.81,96.77 L401.05,98.30 L401.29,99.84 L401.52,101.37 L401.76,102.91 L402.00,104.44 L402.24,105.97 L402.47,107.49 L402.71,109.01 L402.95,110.52 L403.19,112.02 L403.42,113.52 L403.66,115.01 L403.90,116.48 L404.14,117.95 L404.38,119.40 L404.61,120.84 L404.85,122.27 L405.09,123.68 L405.32,125.08 L405.56,126.46 L405.80,127.82 L406.04,129.17 L406.27,130.49 L406.51,131.80 L406.75,133.09 L406.99,134.35 L407.22,135.59 L407.46,136.81 L407.70,138.01 L407.94,139.18 L408.17,140.32 L408.41,141.44 L408.65,142.53 L408.89,143.60 L409.12,144.63 L409.36,145.64 L409.60,146.62 L409.84,147.57 L410.07,148.48 L410.31,149.37 L410.55,150.23 L410.79,151.05 L411.02,151.84 L411.26,152.59 L411.50,153.32 L411.74,154.00 L411.97,154.66 L412.21,155.27 L412.45,155.86 L412.69,156.40 L412.92,156.91 L413.16,157.39 L413.40,157.82 L413.64,158.22 L413.88,158.59 L414.11,158.91 L414.35,159.20 L414.59,159.45 L414.82,159.66 L415.06,159.83 L415.30,159.97 L415.54,160.06 L415.77,160.12 L416.01,160.14 L416.25,160.12 L416.49,160.06 L416.72,159.96 L416.96,159.83 L417.20,159.65 L417.44,159.44 L417.67,159.19 L417.91,158.90 L418.15,158.58 L418.39,158.21 L418.62,157.81 L418.86,157.38 L419.10,156.90 L419.34,156.39 L419.57,155.84 L419.81,155.26 L420.05,154.64 L420.29,153.98 L420.52,153.30 L420.76,152.57 L421.00,151.82 L421.24,151.03 L421.47,150.20 L421.71,149.35 L421.95,148.46 L422.19,147.54 L422.42,146.59 L422.66,145.61 L422.90,144.60 L423.14,143.57 L423.38,142.50 L423.61,141.41 L423.85,140.29 L424.09,139.14 L424.32,137.97 L424.56,136.78 L424.80,135.56 L425.04,134.32 L425.27,133.05 L425.51,131.76 L425.75,130.46 L425.99,129.13 L426.22,127.79 L426.46,126.42 L426.70,125.04 L426.94,123.64 L427.17,122.23 L427.41,120.80 L427.65,119.36 L427.89,117.91 L428.12,116.44 L428.36,114.96 L428.60,113.48 L428.84,111.98 L429.07,110.48 L429.31,108.96 L429.55,107.45 L429.79,105.92 L430.02,104.40 L430.26,102.86 L430.50,101.33 L430.74,99.80 L430.97,98.26 L431.21,96.73 L431.45,95.19 L431.69,93.66 L431.92,92.13 L432.16,90.61 L432.40,89.09 L432.64,87.58 L432.88,86.08 L433.11,84.58 L433.35,83.09 L433.59,81.62 L433.82,80.15 L434.06,78.70 L434.30,77.26 L434.54,75.83 L434.77,74.42 L435.01,73.02 L435.25,71.64 L435.49,70.28 L435.72,68.93 L435.96,67.61 L436.20,66.30 L436.44,65.01 L436.67,63.75 L436.91,62.51 L437.15,61.29 L437.39,60.09 L437.62,58.92 L437.86,57.78 L438.10,56.66 L438.34,55.57 L438.57,54.50 L438.81,53.47 L439.05,52.46 L439.29,51.48 L439.52,50.53 L439.76,49.62 L440.00,48.73 L440.24,47.87 L440.48,47.05 L440.71,46.26 L440.95,45.51 L441.19,44.78 L441.42,44.10 L441.66,43.44 L441.90,42.83 L442.14,42.24 L442.38,41.70 L442.61,41.19 L442.85,40.71 L443.09,40.28 L443.32,39.88 L443.56,39.51 L443.80,39.19 L444.04,38.90 L444.27,38.65 L444.51,38.44 L444.75,38.27 L444.99,38.13 L445.23,38.04 L445.46,37.98 L445.70,37.96 L445.94,37.98 L446.17,38.04 L446.41,38.14 L446.65,38.27 L446.89,38.45 L447.12,38.66 L447.36,38.91 L447.60,39.20 L447.84,39.52 L448.07,39.89 L448.31,40.29 L448.55,40.72 L448.79,41.20 L449.02,41.71 L449.26,42.26 L449.50,42.84 L449.74,43.46 L449.97,44.12 L450.21,44.80 L450.45,45.53 L450.69,46.28 L450.92,47.07 L451.16,47.90 L451.40,48.75 L451.64,49.64 L451.88,50.56 L452.11,51.51 L452.35,52.49 L452.59,53.50 L452.82,54.53 L453.06,55.60 L453.30,56.69 L453.54,57.81 L453.77,58.96 L454.01,60.13 L454.25,61.32 L454.49,62.54 L454.72,63.78 L454.96,65.05 L455.20,66.34 L455.44,67.64 L455.67,68.97 L455.91,70.31 L456.15,71.68 L456.39,73.06 L456.62,74.46 L456.86,75.87 L457.10,77.30 L457.34,78.74 L457.57,80.19 L457.81,81.66 L458.05,83.14 L458.29,84.62 L458.52,86.12 L458.76,87.62 L459.00,89.14 L459.24,90.65 L459.47,92.18 L459.71,93.70 L459.95,95.24 L460.19,96.77 L460.42,98.30 L460.66,99.84 L460.90,101.37 L461.14,102.91 L461.38,104.44 L461.61,105.97 L461.85,107.49 L462.09,109.01 L462.32,110.52 L462.56,112.02 L462.80,113.52 L463.04,115.01 L463.27,116.48 L463.51,117.95 L463.75,119.40 L463.99,120.84 L464.23,122.27 L464.46,123.68 L464.70,125.08 L464.94,126.46 L465.17,127.82 L465.41,129.17 L465.65,130.49 L465.89,131.80 L466.12,133.09 L466.36,134.35 L466.60,135.59 L466.84,136.81 L467.07,138.01 L467.31,139.18 L467.55,140.32 L467.79,141.44 L468.02,142.53 L468.26,143.60 L468.50,144.63 L468.74,145.64 L468.98,146.62 L469.21,147.57 L469.45,148.48 L469.69,149.37 L469.92,150.23 L470.16,151.05 L470.40,151.84 L470.64,152.59 L470.88,153.32 L471.11,154.00 L471.35,154.66 L471.59,155.27 L471.82,155.86 L472.06,156.40 L472.30,156.91 L472.54,157.39 L472.77,157.82 L473.01,158.22 L473.25,158.59 L473.49,158.91 L473.73,159.20 L473.96,159.45 L474.20,159.66 L474.44,159.83 L474.67,159.97 L474.91,160.06 L475.15,160.12 L475.39,160.14 L475.62,160.12 L475.86,160.06 L476.10,159.96 L476.34,159.83 L476.57,159.65 L476.81,159.44 L477.05,159.19 L477.29,158.90 L477.52,158.58 L477.76,158.21 L478.00,157.81 L478.24,157.38 L478.47,156.90 L478.71,156.39 L478.95,155.84 L479.19,155.26 L479.42,154.64 L479.66,153.98 L479.90,153.30 L480.14,152.57 L480.38,151.82 L480.61,151.03 L480.85,150.20 L481.09,149.35 L481.32,148.46 L481.56,147.54 L481.80,146.59 L482.04,145.61 L482.27,144.60 L482.51,143.57 L482.75,142.50 L482.99,141.41 L483.22,140.29 L483.46,139.14 L483.70,137.97 L483.94,136.78 L484.17,135.56 L484.41,134.32 L484.65,133.05 L484.89,131.76 L485.12,130.46 L485.36,129.13 L485.60,127.79 L485.84,126.42 L486.07,125.04 L486.31,123.64 L486.55,122.23 L486.79,120.80 L487.02,119.36 L487.26,117.91 L487.50,116.44 L487.74,114.96 L487.97,113.48 L488.21,111.98 L488.45,110.48 L488.69,108.96 L488.92,107.45 L489.16,105.92 L489.40,104.40 L489.64,102.86 L489.88,101.33 L490.11,99.80 L490.35,98.26 L490.59,96.73 L490.82,95.19 L491.06,93.66 L491.30,92.13 L491.54,90.61 L491.77,89.09 L492.01,87.58 L492.25,86.08 L492.49,84.58 L492.73,83.09 L492.96,81.62 L493.20,80.15 L493.44,78.70 L493.67,77.26 L493.91,75.83 L494.15,74.42 L494.39,73.02 L494.62,71.64 L494.86,70.28 L495.10,68.93 L495.34,67.61 L495.57,66.30 L495.81,65.01 L496.05,63.75 L496.29,62.51 L496.52,61.29 L496.76,60.09 L497.00,58.92 L497.24,57.78 L497.48,56.66 L497.71,55.57 L497.95,54.50 L498.19,53.47 L498.42,52.46 L498.66,51.48 L498.90,50.53 L499.14,49.62 L499.38,48.73 L499.61,47.87 L499.85,47.05 L500.09,46.26 L500.32,45.51 L500.56,44.78 L500.80,44.10 L501.04,43.44 L501.27,42.83 L501.51,42.24 L501.75,41.70 L501.99,41.19 L502.23,40.71 L502.46,40.28 L502.70,39.88 L502.94,39.51 L503.17,39.19 L503.41,38.90 L503.65,38.65 L503.89,38.44 L504.12,38.27 L504.36,38.13 L504.60,38.04 L504.84,37.98 L505.07,37.96 L505.31,37.98 L505.55,38.04 L505.79,38.14 L506.02,38.27 L506.26,38.45 L506.50,38.66 L506.74,38.91 L506.97,39.20 L507.21,39.52 L507.45,39.89 L507.69,40.29 L507.92,40.72 L508.16,41.20 L508.40,41.71 L508.64,42.26 L508.88,42.84 L509.11,43.46 L509.35,44.12 L509.59,44.80 L509.82,45.53 L510.06,46.28 L510.30,47.07 L510.54,47.90 L510.77,48.75 L511.01,49.64 L511.25,50.56 L511.49,51.51 L511.72,52.49 L511.96,53.50 L512.20,54.53 L512.44,55.60 L512.67,56.69 L512.91,57.81 L513.15,58.96 L513.39,60.13 L513.62,61.32 L513.86,62.54 L514.10,63.78 L514.34,65.05 L514.58,66.34 L514.81,67.64 L515.05,68.97 L515.29,70.31 L515.52,71.68 L515.76,73.06 L516.00,74.46 L516.24,75.87 L516.47,77.30 L516.71,78.74 L516.95,80.19 L517.19,81.66 L517.42,83.14 L517.66,84.62 L517.90,86.12 L518.14,87.62 L518.38,89.14 L518.61,90.65 L518.85,92.18 L519.09,93.70 L519.33,95.24 L519.56,96.77 L519.80,98.30 L520.04,99.84 L520.27,101.37 L520.51,102.91 L520.75,104.44 L520.99,105.97 L521.23,107.49 L521.46,109.01 L521.70,110.52 L521.94,112.02 L522.17,113.52 L522.41,115.01 L522.65,116.48 L522.89,117.95 L523.12,119.40 L523.36,120.84 L523.60,122.27 L523.84,123.68 L524.08,125.08 L524.31,126.46 L524.55,127.82 L524.79,129.17 L525.02,130.49 L525.26,131.80 L525.50,133.09 L525.74,134.35 L525.98,135.59 L526.21,136.81 L526.45,138.01 L526.69,139.18 L526.92,140.32 L527.16,141.44 L527.40,142.53 L527.64,143.60 L527.88,144.63 L528.11,145.64 L528.35,146.62 L528.59,147.57 L528.83,148.48 L529.06,149.37 L529.30,150.23 L529.54,151.05 L529.77,151.84 L530.01,152.59 L530.25,153.32 L530.49,154.00 L530.73,154.66 L530.96,155.27 L531.20,155.86 L531.44,156.40 L531.67,156.91 L531.91,157.39 L532.15,157.82 L532.39,158.22 L532.62,158.59 L532.86,158.91 L533.10,159.20 L533.34,159.45 L533.58,159.66 L533.81,159.83 L534.05,159.97 L534.29,160.06 L534.52,160.12 L534.76,160.14 L535.00,160.12 L535.24,160.06 L535.48,159.96 L535.71,159.83 L535.95,159.65 L536.19,159.44 L536.42,159.19 L536.66,158.90 L536.90,158.58 L537.14,158.21 L537.38,157.81 L537.61,157.38 L537.85,156.90 L538.09,156.39 L538.32,155.84 L538.56,155.26 L538.80,154.64 L539.04,153.98 L539.27,153.30 L539.51,152.57 L539.75,151.82 L539.99,151.03 L540.22,150.20 L540.46,149.35 L540.70,148.46 L540.94,147.54 L541.17,146.59 L541.41,145.61 L541.65,144.60 L541.89,143.57 L542.12,142.50 L542.36,141.41 L542.60,140.29 L542.84,139.14 L543.07,137.97 L543.31,136.78 L543.55,135.56 L543.79,134.32 L544.02,133.05 L544.26,131.76 L544.50,130.46 L544.74,129.13 L544.97,127.79 L545.21,126.42 L545.45,125.04 L545.69,123.64 L545.92,122.23 L546.16,120.80 L546.40,119.36" stroke="#00ee00" stroke-width="2.4"/>
<path d="M308.90,99.05 L309.14,99.05 L309.38,99.03 L309.61,98.97 L309.85,98.88 L310.09,98.74 L310.32,98.55 L310.56,98.30 L310.80,98.01 L311.04,97.65 L311.27,97.25 L311.51,96.79 L311.75,96.28 L311.99,95.73 L312.22,95.12 L312.46,94.48 L312.70,93.79 L312.94,93.06 L313.17,92.30 L313.41,91.50 L313.65,90.67 L313.89,89.81 L314.12,88.92 L314.36,88.01 L314.60,87.07 L314.84,86.11 L315.07,85.14 L315.31,84.14 L315.55,83.14 L315.79,82.11 L316.02,81.08 L316.26,80.04 L316.50,78.99 L316.74,77.93 L316.97,76.87 L317.21,75.80 L317.45,74.74 L317.69,73.67 L317.92,72.61 L318.16,71.54 L318.40,70.49 L318.64,69.43 L318.88,68.39 L319.11,67.35 L319.35,66.32 L319.59,65.31 L319.82,64.30 L320.06,63.31 L320.30,62.33 L320.54,61.37 L320.77,60.42 L321.01,59.49 L321.25,58.58 L321.49,57.69 L321.72,56.82 L321.96,55.96 L322.20,55.13 L322.44,54.33 L322.67,53.54 L322.91,52.78 L323.15,52.04 L323.39,51.33 L323.62,50.65 L323.86,49.99 L324.10,49.36 L324.34,48.75 L324.57,48.18 L324.81,47.63 L325.05,47.12 L325.29,46.63 L325.52,46.18 L325.76,45.75 L326.00,45.36 L326.24,45.00 L326.47,44.67 L326.71,44.37 L326.95,44.10 L327.19,43.87 L327.42,43.67 L327.66,43.50 L327.90,43.37 L328.14,43.27 L328.38,43.21 L328.61,43.18 L328.85,43.18 L329.09,43.22 L329.32,43.29 L329.56,43.39 L329.80,43.53 L330.04,43.71 L330.27,43.91 L330.51,44.16 L330.75,44.43 L330.99,44.74 L331.22,45.08 L331.46,45.46 L331.70,45.87 L331.94,46.31 L332.17,46.78 L332.41,47.29 L332.65,47.83 L332.89,48.40 L333.12,49.00 L333.36,49.64 L333.60,50.30 L333.84,51.00 L334.07,51.72 L334.31,52.48 L334.55,53.26 L334.79,54.07 L335.02,54.91 L335.26,55.78 L335.50,56.67 L335.74,57.59 L335.97,58.54 L336.21,59.51 L336.45,60.51 L336.69,61.53 L336.92,62.58 L337.16,63.64 L337.40,64.73 L337.64,65.84 L337.88,66.98 L338.11,68.13 L338.35,69.30 L338.59,70.49 L338.82,71.70 L339.06,72.92 L339.30,74.17 L339.54,75.42 L339.77,76.69 L340.01,77.98 L340.25,79.28 L340.49,80.59 L340.72,81.91 L340.96,83.25 L341.20,84.59 L341.44,85.94 L341.67,87.31 L341.91,88.67 L342.15,90.05 L342.39,91.43 L342.62,92.81 L342.86,94.20 L343.10,95.60 L343.34,96.99 L343.57,98.39 L343.81,99.78 L344.05,101.18 L344.29,102.57 L344.52,103.96 L344.76,105.35 L345.00,106.74 L345.24,108.11 L345.47,109.49 L345.71,110.86 L345.95,112.22 L346.19,113.57 L346.42,114.91 L346.66,116.24 L346.90,117.56 L347.14,118.87 L347.38,120.17 L347.61,121.45 L347.85,122.72 L348.09,123.98 L348.32,125.22 L348.56,126.44 L348.80,127.64 L349.04,128.83 L349.27,130.00 L349.51,131.15 L349.75,132.28 L349.99,133.38 L350.22,134.47 L350.46,135.53 L350.70,136.57 L350.94,137.59 L351.17,138.58 L351.41,139.55 L351.65,140.49 L351.89,141.40 L352.12,142.29 L352.36,143.15 L352.60,143.99 L352.84,144.79 L353.07,145.57 L353.31,146.31 L353.55,147.03 L353.79,147.72 L354.02,148.37 L354.26,149.00 L354.50,149.59 L354.74,150.15 L354.97,150.68 L355.21,151.18 L355.45,151.64 L355.69,152.07 L355.92,152.47 L356.16,152.83 L356.40,153.16 L356.64,153.45 L356.88,153.71 L357.11,153.94 L357.35,154.13 L357.59,154.29 L357.82,154.41 L358.06,154.49 L358.30,154.55 L358.54,154.56 L358.77,154.54 L359.01,154.49 L359.25,154.40 L359.49,154.28 L359.72,154.12 L359.96,153.93 L360.20,153.70 L360.44,153.44 L360.67,153.14 L360.91,152.81 L361.15,152.44 L361.39,152.04 L361.62,151.61 L361.86,151.15 L362.10,150.65 L362.34,150.12 L362.57,149.55 L362.81,148.96 L363.05,148.33 L363.29,147.67 L363.52,146.99 L363.76,146.27 L364.00,145.52 L364.24,144.74 L364.47,143.93 L364.71,143.10 L364.95,142.24 L365.19,141.35 L365.42,140.43 L365.66,139.49 L365.90,138.52 L366.14,137.52 L366.38,136.51 L366.61,135.46 L366.85,134.40 L367.09,133.31 L367.32,132.20 L367.56,131.08 L367.80,129.93 L368.04,128.76 L368.27,127.57 L368.51,126.36 L368.75,125.14 L368.99,123.90 L369.22,122.64 L369.46,121.37 L369.70,120.09 L369.94,118.79 L370.17,117.48 L370.41,116.16 L370.65,114.83 L370.89,113.49 L371.12,112.13 L371.36,110.77 L371.60,109.41 L371.84,108.03 L372.07,106.65 L372.31,105.27 L372.55,103.88 L372.79,102.49 L373.02,101.10 L373.26,99.70 L373.50,98.31 L373.74,96.91 L373.97,95.52 L374.21,94.13 L374.45,92.74 L374.69,91.36 L374.92,89.98 L375.16,88.60 L375.40,87.24 L375.64,85.88 L375.88,84.53 L376.11,83.18 L376.35,81.85 L376.59,80.53 L376.82,79.22 L377.06,77.92 L377.30,76.64 L377.54,75.37 L377.77,74.12 L378.01,72.88 L378.25,71.66 L378.49,70.45 L378.72,69.27 L378.96,68.10 L379.20,66.95 L379.44,65.82 L379.67,64.71 L379.91,63.63 L380.15,62.57 L380.39,61.53 L380.62,60.51 L380.86,59.52 L381.10,58.55 L381.34,57.61 L381.57,56.69 L381.81,55.81 L382.05,54.94 L382.29,54.11 L382.52,53.31 L382.76,52.53 L383.00,51.78 L383.24,51.07 L383.47,50.38 L383.71,49.73 L383.95,49.10 L384.19,48.51 L384.42,47.95 L384.66,47.42 L384.90,46.92 L385.14,46.46 L385.38,46.03 L385.61,45.63 L385.85,45.27 L386.09,44.94 L386.32,44.65 L386.56,44.39 L386.80,44.16 L387.04,43.97 L387.27,43.81 L387.51,43.69 L387.75,43.60 L387.99,43.55 L388.22,43.54 L388.46,43.56 L388.70,43.61 L388.94,43.70 L389.17,43.82 L389.41,43.98 L389.65,44.17 L389.89,44.40 L390.12,44.66 L390.36,44.96 L390.60,45.29 L390.84,45.66 L391.07,46.06 L391.31,46.49 L391.55,46.95 L391.79,47.45 L392.02,47.98 L392.26,48.55 L392.50,49.14 L392.74,49.77 L392.97,50.43 L393.21,51.11 L393.45,51.83 L393.69,52.58 L393.92,53.36 L394.16,54.17 L394.40,55.00 L394.64,55.86 L394.88,56.75 L395.11,57.67 L395.35,58.61 L395.59,59.58 L395.82,60.58 L396.06,61.59 L396.30,62.64 L396.54,63.70 L396.77,64.79 L397.01,65.90 L397.25,67.02 L397.49,68.17 L397.72,69.34 L397.96,70.53 L398.20,71.74 L398.44,72.96 L398.67,74.20 L398.91,75.46 L399.15,76.73 L399.39,78.01 L399.62,79.31 L399.86,80.62 L400.10,81.94 L400.34,83.27 L400.57,84.61 L400.81,85.97 L401.05,87.33 L401.29,88.69 L401.52,90.07 L401.76,91.45 L402.00,92.83 L402.24,94.22 L402.47,95.61 L402.71,97.00 L402.95,98.40 L403.19,99.79 L403.42,101.19 L403.66,102.58 L403.90,103.97 L404.14,105.36 L404.38,106.74 L404.61,108.12 L404.85,109.50 L405.09,110.86 L405.32,112.22 L405.56,113.57 L405.80,114.92 L406.04,116.25 L406.27,117.57 L406.51,118.88 L406.75,120.18 L406.99,121.46 L407.22,122.73 L407.46,123.98 L407.70,125.22 L407.94,126.44 L408.17,127.65 L408.41,128.83 L408.65,130.00 L408.89,131.15 L409.12,132.28 L409.36,133.39 L409.60,134.47 L409.84,135.53 L410.07,136.57 L410.31,137.59 L410.55,138.58 L410.79,139.55 L411.02,140.49 L411.26,141.41 L411.50,142.29 L411.74,143.16 L411.97,143.99 L412.21,144.79 L412.45,145.57 L412.69,146.32 L412.92,147.03 L413.16,147.72 L413.40,148.37 L413.64,149.00 L413.88,149.59 L414.11,150.15 L414.35,150.68 L414.59,151.18 L414.82,151.64 L415.06,152.07 L415.30,152.47 L415.54,152.83 L415.77,153.16 L416.01,153.45 L416.25,153.71 L416.49,153.94 L416.72,154.13 L416.96,154.29 L417.20,154.41 L417.44,154.50 L417.67,154.55 L417.91,154.56 L418.15,154.54 L418.39,154.49 L418.62,154.40 L418.86,154.28 L419.10,154.12 L419.34,153.93 L419.57,153.70 L419.81,153.44 L420.05,153.14 L420.29,152.81 L420.52,152.44 L420.76,152.04 L421.00,151.61 L421.24,151.15 L421.47,150.65 L421.71,150.12 L421.95,149.55 L422.19,148.96 L422.42,148.33 L422.66,147.67 L422.90,146.99 L423.14,146.27 L423.38,145.52 L423.61,144.74 L423.85,143.93 L424.09,143.10 L424.32,142.24 L424.56,141.35 L424.80,140.43 L425.04,139.49 L425.27,138.52 L425.51,137.52 L425.75,136.51 L425.99,135.46 L426.22,134.40 L426.46,133.31 L426.70,132.20 L426.94,131.08 L427.17,129.93 L427.41,128.76 L427.65,127.57 L427.89,126.36 L428.12,125.14 L428.36,123.90 L428.60,122.64 L428.84,121.37 L429.07,120.09 L429.31,118.79 L429.55,117.48 L429.79,116.16 L430.02,114.83 L430.26,113.49 L430.50,112.13 L430.74,110.77 L430.97,109.41 L431.21,108.03 L431.45,106.65 L431.69,105.27 L431.92,103.88 L432.16,102.49 L432.40,101.10 L432.64,99.70 L432.88,98.31 L433.11,96.91 L433.35,95.52 L433.59,94.13 L433.82,92.74 L434.06,91.36 L434.30,89.98 L434.54,88.60 L434.77,87.24 L435.01,85.88 L435.25,84.53 L435.49,83.18 L435.72,81.85 L435.96,80.53 L436.20,79.22 L436.44,77.92 L436.67,76.64 L436.91,75.37 L437.15,74.12 L437.39,72.88 L437.62,71.66 L437.86,70.45 L438.10,69.27 L438.34,68.10 L438.57,66.95 L438.81,65.82 L439.05,64.71 L439.29,63.63 L439.52,62.57 L439.76,61.53 L440.00,60.51 L440.24,59.52 L440.48,58.55 L440.71,57.61 L440.95,56.69 L441.19,55.81 L441.42,54.94 L441.66,54.11 L441.90,53.31 L442.14,52.53 L442.38,51.78 L442.61,51.07 L442.85,50.38 L443.09,49.73 L443.32,49.10 L443.56,48.51 L443.80,47.95 L444.04,47.42 L444.27,46.92 L444.51,46.46 L444.75,46.03 L444.99,45.63 L445.23,45.27 L445.46,44.94 L445.70,44.65 L445.94,44.39 L446.17,44.16 L446.41,43.97 L446.65,43.81 L446.89,43.69 L447.12,43.60 L447.36,43.55 L447.60,43.54 L447.84,43.56 L448.07,43.61 L448.31,43.70 L448.55,43.82 L448.79,43.98 L449.02,44.17 L449.26,44.40 L449.50,44.66 L449.74,44.96 L449.97,45.29 L450.21,45.66 L450.45,46.06 L450.69,46.49 L450.92,46.95 L451.16,47.45 L451.40,47.98 L451.64,48.55 L451.88,49.14 L452.11,49.77 L452.35,50.43 L452.59,51.11 L452.82,51.83 L453.06,52.58 L453.30,53.36 L453.54,54.17 L453.77,55.00 L454.01,55.86 L454.25,56.75 L454.49,57.67 L454.72,58.61 L454.96,59.58 L455.20,60.58 L455.44,61.59 L455.67,62.64 L455.91,63.70 L456.15,64.79 L456.39,65.90 L456.62,67.02 L456.86,68.17 L457.10,69.34 L457.34,70.53 L457.57,71.74 L457.81,72.96 L458.05,74.20 L458.29,75.46 L458.52,76.73 L458.76,78.01 L459.00,79.31 L459.24,80.62 L459.47,81.94 L459.71,83.27 L459.95,84.61 L460.19,85.97 L460.42,87.33 L460.66,88.69 L460.90,90.07 L461.14,91.45 L461.38,92.83 L461.61,94.22 L461.85,95.61 L462.09,97.00 L462.32,98.40 L462.56,99.79 L462.80,101.19 L463.04,102.58 L463.27,103.97 L463.51,105.36 L463.75,106.74 L463.99,108.12 L464.23,109.50 L464.46,110.86 L464.70,112.22 L464.94,113.57 L465.17,114.92 L465.41,116.25 L465.65,117.57 L465.89,118.88 L466.12,120.18 L466.36,121.46 L466.60,122.73 L466.84,123.98 L467.07,125.22 L467.31,126.44 L467.55,127.65 L467.79,128.83 L468.02,130.00 L468.26,131.15 L468.50,132.28 L468.74,133.39 L468.98,134.47 L469.21,135.53 L469.45,136.57 L469.69,137.59 L469.92,138.58 L470.16,139.55 L470.40,140.49 L470.64,141.41 L470.88,142.29 L471.11,143.16 L471.35,143.99 L471.59,144.79 L471.82,145.57 L472.06,146.32 L472.30,147.03 L472.54,147.72 L472.77,148.37 L473.01,149.00 L473.25,149.59 L473.49,150.15 L473.73,150.68 L473.96,151.18 L474.20,151.64 L474.44,152.07 L474.67,152.47 L474.91,152.83 L475.15,153.16 L475.39,153.45 L475.62,153.71 L475.86,153.94 L476.10,154.13 L476.34,154.29 L476.57,154.41 L476.81,154.50 L477.05,154.55 L477.29,154.56 L477.52,154.54 L477.76,154.49 L478.00,154.40 L478.24,154.28 L478.47,154.12 L478.71,153.93 L478.95,153.70 L479.19,153.44 L479.42,153.14 L479.66,152.81 L479.90,152.44 L480.14,152.04 L480.38,151.61 L480.61,151.15 L480.85,150.65 L481.09,150.12 L481.32,149.55 L481.56,148.96 L481.80,148.33 L482.04,147.67 L482.27,146.99 L482.51,146.27 L482.75,145.52 L482.99,144.74 L483.22,143.93 L483.46,143.10 L483.70,142.24 L483.94,141.35 L484.17,140.43 L484.41,139.49 L484.65,138.52 L484.89,137.52 L485.12,136.51 L485.36,135.46 L485.60,134.40 L485.84,133.31 L486.07,132.20 L486.31,131.08 L486.55,129.93 L486.79,128.76 L487.02,127.57 L487.26,126.36 L487.50,125.14 L487.74,123.90 L487.97,122.64 L488.21,121.37 L488.45,120.09 L488.69,118.79 L488.92,117.48 L489.16,116.16 L489.40,114.83 L489.64,113.49 L489.88,112.13 L490.11,110.77 L490.35,109.41 L490.59,108.03 L490.82,106.65 L491.06,105.27 L491.30,103.88 L491.54,102.49 L491.77,101.10 L492.01,99.70 L492.25,98.31 L492.49,96.91 L492.73,95.52 L492.96,94.13 L493.20,92.74 L493.44,91.36 L493.67,89.98 L493.91,88.60 L494.15,87.24 L494.39,85.88 L494.62,84.53 L494.86,83.18 L495.10,81.85 L495.34,80.53 L495.57,79.22 L495.81,77.92 L496.05,76.64 L496.29,75.37 L496.52,74.12 L496.76,72.88 L497.00,71.66 L497.24,70.45 L497.48,69.27 L497.71,68.10 L497.95,66.95 L498.19,65.82 L498.42,64.71 L498.66,63.63 L498.90,62.57 L499.14,61.53 L499.38,60.51 L499.61,59.52 L499.85,58.55 L500.09,57.61 L500.32,56.69 L500.56,55.81 L500.80,54.94 L501.04,54.11 L501.27,53.31 L501.51,52.53 L501.75,51.78 L501.99,51.07 L502.23,50.38 L502.46,49.73 L502.70,49.10 L502.94,48.51 L503.17,47.95 L503.41,47.42 L503.65,46.92 L503.89,46.46 L504.12,46.03 L504.36,45.63 L504.60,45.27 L504.84,44.94 L505.07,44.65 L505.31,44.39 L505.55,44.16 L505.79,43.97 L506.02,43.81 L506.26,43.69 L506.50,43.60 L506.74,43.55 L506.97,43.54 L507.21,43.56 L507.45,43.61 L507.69,43.70 L507.92,43.82 L508.16,43.98 L508.40,44.17 L508.64,44.40 L508.88,44.66 L509.11,44.96 L509.35,45.29 L509.59,45.66 L509.82,46.06 L510.06,46.49 L510.30,46.95 L510.54,47.45 L510.77,47.98 L511.01,48.55 L511.25,49.14 L511.49,49.77 L511.72,50.43 L511.96,51.11 L512.20,51.83 L512.44,52.58 L512.67,53.36 L512.91,54.17 L513.15,55.00 L513.39,55.86 L513.62,56.75 L513.86,57.67 L514.10,58.61 L514.34,59.58 L514.58,60.58 L514.81,61.59 L515.05,62.64 L515.29,63.70 L515.52,64.79 L515.76,65.90 L516.00,67.02 L516.24,68.17 L516.47,69.34 L516.71,70.53 L516.95,71.74 L517.19,72.96 L517.42,74.20 L517.66,75.46 L517.90,76.73 L518.14,78.01 L518.38,79.31 L518.61,80.62 L518.85,81.94 L519.09,83.27 L519.33,84.61 L519.56,85.97 L519.80,87.33 L520.04,88.69 L520.27,90.07 L520.51,91.45 L520.75,92.83 L520.99,94.22 L521.23,95.61 L521.46,97.00 L521.70,98.40 L521.94,99.79 L522.17,101.19 L522.41,102.58 L522.65,103.97 L522.89,105.36 L523.12,106.74 L523.36,108.12 L523.60,109.50 L523.84,110.86 L524.08,112.22 L524.31,113.57 L524.55,114.92 L524.79,116.25 L525.02,117.57 L525.26,118.88 L525.50,120.18 L525.74,121.46 L525.98,122.73 L526.21,123.98 L526.45,125.22 L526.69,126.44 L526.92,127.65 L527.16,128.83 L527.40,130.00 L527.64,131.15 L527.88,132.28 L528.11,133.39 L528.35,134.47 L528.59,135.53 L528.83,136.57 L529.06,137.59 L529.30,138.58 L529.54,139.55 L529.77,140.49 L530.01,141.41 L530.25,142.29 L530.49,143.16 L530.73,143.99 L530.96,144.79 L531.20,145.57 L531.44,146.32 L531.67,147.03 L531.91,147.72 L532.15,148.37 L532.39,149.00 L532.62,149.59 L532.86,150.15 L533.10,150.68 L533.34,151.18 L533.58,151.64 L533.81,152.07 L534.05,152.47 L534.29,152.83 L534.52,153.16 L534.76,153.45 L535.00,153.71 L535.24,153.94 L535.48,154.13 L535.71,154.29 L535.95,154.41 L536.19,154.50 L536.42,154.55 L536.66,154.56 L536.90,154.54 L537.14,154.49 L537.38,154.40 L537.61,154.28 L537.85,154.12 L538.09,153.93 L538.32,153.70 L538.56,153.44 L538.80,153.14 L539.04,152.81 L539.27,152.44 L539.51,152.04 L539.75,151.61 L539.99,151.15 L540.22,150.65 L540.46,150.12 L540.70,149.55 L540.94,148.96 L541.17,148.33 L541.41,147.67 L541.65,146.99 L541.89,146.27 L542.12,145.52 L542.36,144.74 L542.60,143.93 L542.84,143.10 L543.07,142.24 L543.31,141.35 L543.55,140.43 L543.79,139.49 L544.02,138.52 L544.26,137.52 L544.50,136.51 L544.74,135.46 L544.97,134.40 L545.21,133.31 L545.45,132.20 L545.69,131.08 L545.92,129.93 L546.16,128.76 L546.40,127.57" stroke="#2020ff" stroke-width="1.1"/>
<rect x="307.30" y="97.45" width="3.2" height="3.2" stroke="#6060ff" stroke-opacity="0.9" stroke-width="0.7"/>
<rect x="336.99" y="68.89" width="3.2" height="3.2" stroke="#6060ff" stroke-opacity="0.9" stroke-width="0.7"/>
<rect x="348.86" y="133.93" width="3.2" height="3.2" stroke="#6060ff" stroke-opacity="0.9" stroke-width="0.7"/>
<rect x="360.74" y="148.52" width="3.2" height="3.2" stroke="#6060ff" stroke-opacity="0.9" stroke-width="0.7"/>
<rect x="372.61" y="92.53" width="3.2" height="3.2" stroke="#6060ff" stroke-opacity="0.9" stroke-width="0.7"/>
<rect x="384.49" y="43.34" width="3.2" height="3.2" stroke="#6060ff" stroke-opacity="0.9" stroke-width="0.7"/>
<rect x="396.36" y="68.93" width="3.2" height="3.2" stroke="#6060ff" stroke-opacity="0.9" stroke-width="0.7"/>
<rect x="408.24" y="133.93" width="3.2" height="3.2" stroke="#6060ff" stroke-opacity="0.9" stroke-width="0.7"/>
<rect x="420.11" y="148.52" width="3.2" height="3.2" stroke="#6060ff" stroke-opacity="0.9" stroke-width="0.7"/>
<rect x="431.99" y="92.53" width="3.2" height="3.2" stroke="#6060ff" stroke-opacity="0.9" stroke-width="0.7"/>
<rect x="443.86" y="43.34" width="3.2" height="3.2" stroke="#6060ff" stroke-opacity="0.9" stroke-width="0.7"/>
<rect x="455.74" y="68.93" width="3.2" height="3.2" stroke="#6060ff" stroke-opacity="0.9" stroke-width="0.7"/>
<rect x="467.61" y="133.93" width="3.2" height="3.2" stroke="#6060ff" stroke-opacity="0.9" stroke-width="0.7"/>
<rect x="479.49" y="148.52" width="3.2" height="3.2" stroke="#6060ff" stroke-opacity="0.9" stroke-width="0.7"/>
<rect x="491.36" y="92.53" width="3.2" height="3.2" stroke="#6060ff" stroke-opacity="0.9" stroke-width="0.7"/>
<rect x="503.24" y="43.34" width="3.2" height="3.2" stroke="#6060ff" stroke-opacity="0.9" stroke-width="0.7"/>
<rect x="515.11" y="68.93" width="3.2" height="3.2" stroke="#6060ff" stroke-opacity="0.9" stroke-width="0.7"/>
<rect x="526.99" y="133.93" width="3.2" height="3.2" stroke="#6060ff" stroke-opacity="0.9" stroke-width="0.7"/>
<rect x="538.86" y="148.52" width="3.2" height="3.2" stroke="#6060ff" stroke-opacity="0.9" stroke-width="0.7"/>
</g>
<g font-family="Liberation Sans, Arial, sans-serif" font-size="6.7" fill="#3a3a3a" stroke="#3a3a3a" stroke-width="0.15">
<text x="308.90" y="202.70" text-anchor="middle">0</text>
<text x="332.65" y="202.70" text-anchor="middle">0.2</text>
<text x="356.40" y="202.70" text-anchor="middle">0.4</text>
<text x="380.15" y="202.70" text-anchor="middle">0.6</text>
<text x="403.90" y="202.70" text-anchor="middle">0.8</text>
<text x="427.65" y="202.70" text-anchor="middle">1</text>
<text x="451.40" y="202.70" text-anchor="middle">1.2</text>
<text x="475.15" y="202.70" text-anchor="middle">1.4</text>
<text x="498.90" y="202.70" text-anchor="middle">1.6</text>
<text x="522.65" y="202.70" text-anchor="middle">1.8</text>
<text x="546.40" y="202.70" text-anchor="middle">2</text>
<text x="305.30" y="194.50" text-anchor="end">-1.5</text>
<text x="305.30" y="163.62" text-anchor="end">-1</text>
<text x="305.30" y="132.73" text-anchor="end">-0.5</text>
<text x="305.30" y="101.85" text-anchor="end">0</text>
<text x="305.30" y="70.97" text-anchor="end">0.5</text>
<text x="305.30" y="40.08" text-anchor="end">1</text>
<text x="305.30" y="9.20" text-anchor="end">1.5</text>
</g>
<g font-family="Liberation Sans, Arial, sans-serif" font-size="11" fill="#2a2a2a" stroke="#2a2a2a" stroke-width="0.2">
<text x="428.15" y="216.40" text-anchor="middle" xml:space="preserve">Time  (s)</text>
<text transform="translate(288.30,99.25) rotate(-90)" text-anchor="middle" xml:space="preserve">X  (mm)</text>
</g>
<rect x="468.30" y="13.50" width="71.4" height="36.4" fill="#fff" stroke="#666" stroke-width="0.7"/>
<path d="M471.00,20.30 h16" stroke="#000" stroke-width="3.2" stroke-dasharray="2.7 2.65" fill="none"/>
<path d="M471.00,32.00 h16" stroke="#00ee00" stroke-width="2.3" fill="none"/>
<path d="M471.00,43.80 h16" stroke="#5a5af5" stroke-width="0.8" fill="none"/>
<rect x="477.30" y="42.10" width="3.4" height="3.4" fill="#fff" stroke="#5a5af5" stroke-width="0.7"/>
<g font-family="Liberation Sans, Arial, sans-serif" font-size="8.8" fill="#1a1a1a" stroke="#1a1a1a" stroke-width="0.15">
<text x="488.80" y="23.50">Command</text>
<text x="488.80" y="35.20">Reference</text>
<text x="488.80" y="47.00">Adaptive On</text>
</g>
<rect x="315.80" y="165.90" width="140.80" height="19.40" fill="#fff" stroke="#4a4a4a" stroke-width="1.1"/>
<text transform="translate(326.80,179.40) scale(0.93,1)" font-family="Liberation Sans, Arial, sans-serif" font-weight="bold" font-size="9.3" word-spacing="2" fill="#111" stroke="#111" stroke-width="0.25">Excitation Frequency : 2 Hz</text>
</g>
<g>
<rect x="31.6" y="223.4" width="237.70" height="185.00" fill="none" stroke="#969696" stroke-width="0.8"/>
<path d="M31.60,408.4 v-2.8 M31.60,223.4 v2.8 M55.37,408.4 v-2.8 M55.37,223.4 v2.8 M79.14,408.4 v-2.8 M79.14,223.4 v2.8 M102.91,408.4 v-2.8 M102.91,223.4 v2.8 M126.68,408.4 v-2.8 M126.68,223.4 v2.8 M150.45,408.4 v-2.8 M150.45,223.4 v2.8 M174.22,408.4 v-2.8 M174.22,223.4 v2.8 M197.99,408.4 v-2.8 M197.99,223.4 v2.8 M221.76,408.4 v-2.8 M221.76,223.4 v2.8 M245.53,408.4 v-2.8 M245.53,223.4 v2.8 M269.30,408.4 v-2.8 M269.30,223.4 v2.8 M31.6,408.40 h2.8 M269.3,408.40 h-2.8 M31.6,377.57 h2.8 M269.3,377.57 h-2.8 M31.6,346.73 h2.8 M269.3,346.73 h-2.8 M31.6,315.90 h2.8 M269.3,315.90 h-2.8 M31.6,285.07 h2.8 M269.3,285.07 h-2.8 M31.6,254.23 h2.8 M269.3,254.23 h-2.8 M31.6,223.40 h2.8 M269.3,223.40 h-2.8" stroke="#969696" stroke-width="0.7" fill="none"/>
<clipPath id="c2"><rect x="31.6" y="223.4" width="237.70" height="185.00"/></clipPath>
<g clip-path="url(#c2)" fill="none" stroke-linejoin="round">
<path d="M31.60,315.90 L31.84,312.80 L32.08,309.71 L32.31,306.64 L32.55,303.58 L32.79,300.56 L33.03,297.58 L33.26,294.65 L33.50,291.77 L33.74,288.94 L33.98,286.19 L34.21,283.51 L34.45,280.92 L34.69,278.41 L34.93,276.00 L35.17,273.69 L35.40,271.48 L35.64,269.39 L35.88,267.41 L36.12,265.56 L36.35,263.83 L36.59,262.24 L36.83,260.78 L37.07,259.46 L37.30,258.28 L37.54,257.25 L37.78,256.37 L38.02,255.64 L38.26,255.05 L38.49,254.63 L38.73,254.36 L38.97,254.24 L39.21,254.28 L39.44,254.47 L39.68,254.82 L39.92,255.33 L40.16,255.98 L40.39,256.79 L40.63,257.75 L40.87,258.85 L41.11,260.10 L41.35,261.49 L41.58,263.02 L41.82,264.68 L42.06,266.47 L42.30,268.39 L42.53,270.42 L42.77,272.57 L43.01,274.83 L43.25,277.19 L43.48,279.65 L43.72,282.21 L43.96,284.84 L44.20,287.56 L44.44,290.35 L44.67,293.20 L44.91,296.11 L45.15,299.07 L45.39,302.07 L45.62,305.11 L45.86,308.17 L46.10,311.25 L46.34,314.35 L46.58,317.45 L46.81,320.55 L47.05,323.63 L47.29,326.69 L47.53,329.73 L47.76,332.73 L48.00,335.69 L48.24,338.60 L48.48,341.45 L48.71,344.24 L48.95,346.96 L49.19,349.59 L49.43,352.15 L49.67,354.61 L49.90,356.97 L50.14,359.23 L50.38,361.38 L50.62,363.41 L50.85,365.33 L51.09,367.12 L51.33,368.78 L51.57,370.31 L51.80,371.70 L52.04,372.95 L52.28,374.05 L52.52,375.01 L52.76,375.82 L52.99,376.47 L53.23,376.98 L53.47,377.33 L53.71,377.52 L53.94,377.56 L54.18,377.44 L54.42,377.17 L54.66,376.75 L54.89,376.16 L55.13,375.43 L55.37,374.55 L55.61,373.52 L55.85,372.34 L56.08,371.02 L56.32,369.56 L56.56,367.97 L56.80,366.24 L57.03,364.39 L57.27,362.41 L57.51,360.32 L57.75,358.11 L57.98,355.80 L58.22,353.39 L58.46,350.88 L58.70,348.29 L58.94,345.61 L59.17,342.86 L59.41,340.03 L59.65,337.15 L59.89,334.22 L60.12,331.24 L60.36,328.22 L60.60,325.16 L60.84,322.09 L61.07,319.00 L61.31,315.90 L61.55,312.80 L61.79,309.71 L62.03,306.64 L62.26,303.58 L62.50,300.56 L62.74,297.58 L62.98,294.65 L63.21,291.77 L63.45,288.94 L63.69,286.19 L63.93,283.51 L64.16,280.92 L64.40,278.41 L64.64,276.00 L64.88,273.69 L65.12,271.48 L65.35,269.39 L65.59,267.41 L65.83,265.56 L66.07,263.83 L66.30,262.24 L66.54,260.78 L66.78,259.46 L67.02,258.28 L67.25,257.25 L67.49,256.37 L67.73,255.64 L67.97,255.05 L68.21,254.63 L68.44,254.36 L68.68,254.24 L68.92,254.28 L69.16,254.47 L69.39,254.82 L69.63,255.33 L69.87,255.98 L70.11,256.79 L70.35,257.75 L70.58,258.85 L70.82,260.10 L71.06,261.49 L71.30,263.02 L71.53,264.68 L71.77,266.47 L72.01,268.39 L72.25,270.42 L72.48,272.57 L72.72,274.83 L72.96,277.19 L73.20,279.65 L73.44,282.21 L73.67,284.84 L73.91,287.56 L74.15,290.35 L74.39,293.20 L74.62,296.11 L74.86,299.07 L75.10,302.07 L75.34,305.11 L75.57,308.17 L75.81,311.25 L76.05,314.35 L76.29,317.45 L76.53,320.55 L76.76,323.63 L77.00,326.69 L77.24,329.73 L77.48,332.73 L77.71,335.69 L77.95,338.60 L78.19,341.45 L78.43,344.24 L78.66,346.96 L78.90,349.59 L79.14,352.15 L79.38,354.61 L79.62,356.97 L79.85,359.23 L80.09,361.38 L80.33,363.41 L80.57,365.33 L80.80,367.12 L81.04,368.78 L81.28,370.31 L81.52,371.70 L81.75,372.95 L81.99,374.05 L82.23,375.01 L82.47,375.82 L82.71,376.47 L82.94,376.98 L83.18,377.33 L83.42,377.52 L83.66,377.56 L83.89,377.44 L84.13,377.17 L84.37,376.75 L84.61,376.16 L84.84,375.43 L85.08,374.55 L85.32,373.52 L85.56,372.34 L85.80,371.02 L86.03,369.56 L86.27,367.97 L86.51,366.24 L86.75,364.39 L86.98,362.41 L87.22,360.32 L87.46,358.11 L87.70,355.80 L87.93,353.39 L88.17,350.88 L88.41,348.29 L88.65,345.61 L88.89,342.86 L89.12,340.03 L89.36,337.15 L89.60,334.22 L89.84,331.24 L90.07,328.22 L90.31,325.16 L90.55,322.09 L90.79,319.00 L91.03,315.90 L91.26,312.80 L91.50,309.71 L91.74,306.64 L91.98,303.58 L92.21,300.56 L92.45,297.58 L92.69,294.65 L92.93,291.77 L93.16,288.94 L93.40,286.19 L93.64,283.51 L93.88,280.92 L94.12,278.41 L94.35,276.00 L94.59,273.69 L94.83,271.48 L95.07,269.39 L95.30,267.41 L95.54,265.56 L95.78,263.83 L96.02,262.24 L96.25,260.78 L96.49,259.46 L96.73,258.28 L96.97,257.25 L97.21,256.37 L97.44,255.64 L97.68,255.05 L97.92,254.63 L98.16,254.36 L98.39,254.24 L98.63,254.28 L98.87,254.47 L99.11,254.82 L99.34,255.33 L99.58,255.98 L99.82,256.79 L100.06,257.75 L100.30,258.85 L100.53,260.10 L100.77,261.49 L101.01,263.02 L101.25,264.68 L101.48,266.47 L101.72,268.39 L101.96,270.42 L102.20,272.57 L102.43,274.83 L102.67,277.19 L102.91,279.65 L103.15,282.21 L103.39,284.84 L103.62,287.56 L103.86,290.35 L104.10,293.20 L104.34,296.11 L104.57,299.07 L104.81,302.07 L105.05,305.11 L105.29,308.17 L105.52,311.25 L105.76,314.35 L106.00,317.45 L106.24,320.55 L106.48,323.63 L106.71,326.69 L106.95,329.73 L107.19,332.73 L107.43,335.69 L107.66,338.60 L107.90,341.45 L108.14,344.24 L108.38,346.96 L108.61,349.59 L108.85,352.15 L109.09,354.61 L109.33,356.97 L109.57,359.23 L109.80,361.38 L110.04,363.41 L110.28,365.33 L110.52,367.12 L110.75,368.78 L110.99,370.31 L111.23,371.70 L111.47,372.95 L111.70,374.05 L111.94,375.01 L112.18,375.82 L112.42,376.47 L112.66,376.98 L112.89,377.33 L113.13,377.52 L113.37,377.56 L113.61,377.44 L113.84,377.17 L114.08,376.75 L114.32,376.16 L114.56,375.43 L114.80,374.55 L115.03,373.52 L115.27,372.34 L115.51,371.02 L115.75,369.56 L115.98,367.97 L116.22,366.24 L116.46,364.39 L116.70,362.41 L116.93,360.32 L117.17,358.11 L117.41,355.80 L117.65,353.39 L117.89,350.88 L118.12,348.29 L118.36,345.61 L118.60,342.86 L118.84,340.03 L119.07,337.15 L119.31,334.22 L119.55,331.24 L119.79,328.22 L120.02,325.16 L120.26,322.09 L120.50,319.00 L120.74,315.90 L120.98,312.80 L121.21,309.71 L121.45,306.64 L121.69,303.58 L121.93,300.56 L122.16,297.58 L122.40,294.65 L122.64,291.77 L122.88,288.94 L123.11,286.19 L123.35,283.51 L123.59,280.92 L123.83,278.41 L124.07,276.00 L124.30,273.69 L124.54,271.48 L124.78,269.39 L125.02,267.41 L125.25,265.56 L125.49,263.83 L125.73,262.24 L125.97,260.78 L126.20,259.46 L126.44,258.28 L126.68,257.25 L126.92,256.37 L127.16,255.64 L127.39,255.05 L127.63,254.63 L127.87,254.36 L128.11,254.24 L128.34,254.28 L128.58,254.47 L128.82,254.82 L129.06,255.33 L129.29,255.98 L129.53,256.79 L129.77,257.75 L130.01,258.85 L130.25,260.10 L130.48,261.49 L130.72,263.02 L130.96,264.68 L131.20,266.47 L131.43,268.39 L131.67,270.42 L131.91,272.57 L132.15,274.83 L132.38,277.19 L132.62,279.65 L132.86,282.21 L133.10,284.84 L133.34,287.56 L133.57,290.35 L133.81,293.20 L134.05,296.11 L134.29,299.07 L134.52,302.07 L134.76,305.11 L135.00,308.17 L135.24,311.25 L135.47,314.35 L135.71,317.45 L135.95,320.55 L136.19,323.63 L136.43,326.69 L136.66,329.73 L136.90,332.73 L137.14,335.69 L137.38,338.60 L137.61,341.45 L137.85,344.24 L138.09,346.96 L138.33,349.59 L138.56,352.15 L138.80,354.61 L139.04,356.97 L139.28,359.23 L139.52,361.38 L139.75,363.41 L139.99,365.33 L140.23,367.12 L140.47,368.78 L140.70,370.31 L140.94,371.70 L141.18,372.95 L141.42,374.05 L141.66,375.01 L141.89,375.82 L142.13,376.47 L142.37,376.98 L142.61,377.33 L142.84,377.52 L143.08,377.56 L143.32,377.44 L143.56,377.17 L143.79,376.75 L144.03,376.16 L144.27,375.43 L144.51,374.55 L144.75,373.52 L144.98,372.34 L145.22,371.02 L145.46,369.56 L145.70,367.97 L145.93,366.24 L146.17,364.39 L146.41,362.41 L146.65,360.32 L146.88,358.11 L147.12,355.80 L147.36,353.39 L147.60,350.88 L147.84,348.29 L148.07,345.61 L148.31,342.86 L148.55,340.03 L148.79,337.15 L149.02,334.22 L149.26,331.24 L149.50,328.22 L149.74,325.16 L149.97,322.09 L150.21,319.00 L150.45,315.90 L150.69,312.80 L150.93,309.71 L151.16,306.64 L151.40,303.58 L151.64,300.56 L151.88,297.58 L152.11,294.65 L152.35,291.77 L152.59,288.94 L152.83,286.19 L153.06,283.51 L153.30,280.92 L153.54,278.41 L153.78,276.00 L154.02,273.69 L154.25,271.48 L154.49,269.39 L154.73,267.41 L154.97,265.56 L155.20,263.83 L155.44,262.24 L155.68,260.78 L155.92,259.46 L156.15,258.28 L156.39,257.25 L156.63,256.37 L156.87,255.64 L157.11,255.05 L157.34,254.63 L157.58,254.36 L157.82,254.24 L158.06,254.28 L158.29,254.47 L158.53,254.82 L158.77,255.33 L159.01,255.98 L159.24,256.79 L159.48,257.75 L159.72,258.85 L159.96,260.10 L160.20,261.49 L160.43,263.02 L160.67,264.68 L160.91,266.47 L161.15,268.39 L161.38,270.42 L161.62,272.57 L161.86,274.83 L162.10,277.19 L162.34,279.65 L162.57,282.21 L162.81,284.84 L163.05,287.56 L163.29,290.35 L163.52,293.20 L163.76,296.11 L164.00,299.07 L164.24,302.07 L164.47,305.11 L164.71,308.17 L164.95,311.25 L165.19,314.35 L165.43,317.45 L165.66,320.55 L165.90,323.63 L166.14,326.69 L166.38,329.73 L166.61,332.73 L166.85,335.69 L167.09,338.60 L167.33,341.45 L167.56,344.24 L167.80,346.96 L168.04,349.59 L168.28,352.15 L168.52,354.61 L168.75,356.97 L168.99,359.23 L169.23,361.38 L169.47,363.41 L169.70,365.33 L169.94,367.12 L170.18,368.78 L170.42,370.31 L170.65,371.70 L170.89,372.95 L171.13,374.05 L171.37,375.01 L171.61,375.82 L171.84,376.47 L172.08,376.98 L172.32,377.33 L172.56,377.52 L172.79,377.56 L173.03,377.44 L173.27,377.17 L173.51,376.75 L173.74,376.16 L173.98,375.43 L174.22,374.55 L174.46,373.52 L174.70,372.34 L174.93,371.02 L175.17,369.56 L175.41,367.97 L175.65,366.24 L175.88,364.39 L176.12,362.41 L176.36,360.32 L176.60,358.11 L176.83,355.80 L177.07,353.39 L177.31,350.88 L177.55,348.29 L177.79,345.61 L178.02,342.86 L178.26,340.03 L178.50,337.15 L178.74,334.22 L178.97,331.24 L179.21,328.22 L179.45,325.16 L179.69,322.09 L179.92,319.00 L180.16,315.90 L180.40,312.80 L180.64,309.71 L180.88,306.64 L181.11,303.58 L181.35,300.56 L181.59,297.58 L181.83,294.65 L182.06,291.77 L182.30,288.94 L182.54,286.19 L182.78,283.51 L183.01,280.92 L183.25,278.41 L183.49,276.00 L183.73,273.69 L183.97,271.48 L184.20,269.39 L184.44,267.41 L184.68,265.56 L184.92,263.83 L185.15,262.24 L185.39,260.78 L185.63,259.46 L185.87,258.28 L186.11,257.25 L186.34,256.37 L186.58,255.64 L186.82,255.05 L187.06,254.63 L187.29,254.36 L187.53,254.24 L187.77,254.28 L188.01,254.47 L188.24,254.82 L188.48,255.33 L188.72,255.98 L188.96,256.79 L189.20,257.75 L189.43,258.85 L189.67,260.10 L189.91,261.49 L190.15,263.02 L190.38,264.68 L190.62,266.47 L190.86,268.39 L191.10,270.42 L191.33,272.57 L191.57,274.83 L191.81,277.19 L192.05,279.65 L192.29,282.21 L192.52,284.84 L192.76,287.56 L193.00,290.35 L193.24,293.20 L193.47,296.11 L193.71,299.07 L193.95,302.07 L194.19,305.11 L194.42,308.17 L194.66,311.25 L194.90,314.35 L195.14,317.45 L195.38,320.55 L195.61,323.63 L195.85,326.69 L196.09,329.73 L196.33,332.73 L196.56,335.69 L196.80,338.60 L197.04,341.45 L197.28,344.24 L197.51,346.96 L197.75,349.59 L197.99,352.15 L198.23,354.61 L198.47,356.97 L198.70,359.23 L198.94,361.38 L199.18,363.41 L199.42,365.33 L199.65,367.12 L199.89,368.78 L200.13,370.31 L200.37,371.70 L200.60,372.95 L200.84,374.05 L201.08,375.01 L201.32,375.82 L201.56,376.47 L201.79,376.98 L202.03,377.33 L202.27,377.52 L202.51,377.56 L202.74,377.44 L202.98,377.17 L203.22,376.75 L203.46,376.16 L203.69,375.43 L203.93,374.55 L204.17,373.52 L204.41,372.34 L204.65,371.02 L204.88,369.56 L205.12,367.97 L205.36,366.24 L205.60,364.39 L205.83,362.41 L206.07,360.32 L206.31,358.11 L206.55,355.80 L206.78,353.39 L207.02,350.88 L207.26,348.29 L207.50,345.61 L207.74,342.86 L207.97,340.03 L208.21,337.15 L208.45,334.22 L208.69,331.24 L208.92,328.22 L209.16,325.16 L209.40,322.09 L209.64,319.00 L209.88,315.90 L210.11,312.80 L210.35,309.71 L210.59,306.64 L210.83,303.58 L211.06,300.56 L211.30,297.58 L211.54,294.65 L211.78,291.77 L212.01,288.94 L212.25,286.19 L212.49,283.51 L212.73,280.92 L212.97,278.41 L213.20,276.00 L213.44,273.69 L213.68,271.48 L213.92,269.39 L214.15,267.41 L214.39,265.56 L214.63,263.83 L214.87,262.24 L215.10,260.78 L215.34,259.46 L215.58,258.28 L215.82,257.25 L216.06,256.37 L216.29,255.64 L216.53,255.05 L216.77,254.63 L217.01,254.36 L217.24,254.24 L217.48,254.28 L217.72,254.47 L217.96,254.82 L218.19,255.33 L218.43,255.98 L218.67,256.79 L218.91,257.75 L219.15,258.85 L219.38,260.10 L219.62,261.49 L219.86,263.02 L220.10,264.68 L220.33,266.47 L220.57,268.39 L220.81,270.42 L221.05,272.57 L221.28,274.83 L221.52,277.19 L221.76,279.65 L222.00,282.21 L222.24,284.84 L222.47,287.56 L222.71,290.35 L222.95,293.20 L223.19,296.11 L223.42,299.07 L223.66,302.07 L223.90,305.11 L224.14,308.17 L224.37,311.25 L224.61,314.35 L224.85,317.45 L225.09,320.55 L225.33,323.63 L225.56,326.69 L225.80,329.73 L226.04,332.73 L226.28,335.69 L226.51,338.60 L226.75,341.45 L226.99,344.24 L227.23,346.96 L227.46,349.59 L227.70,352.15 L227.94,354.61 L228.18,356.97 L228.42,359.23 L228.65,361.38 L228.89,363.41 L229.13,365.33 L229.37,367.12 L229.60,368.78 L229.84,370.31 L230.08,371.70 L230.32,372.95 L230.55,374.05 L230.79,375.01 L231.03,375.82 L231.27,376.47 L231.51,376.98 L231.74,377.33 L231.98,377.52 L232.22,377.56 L232.46,377.44 L232.69,377.17 L232.93,376.75 L233.17,376.16 L233.41,375.43 L233.65,374.55 L233.88,373.52 L234.12,372.34 L234.36,371.02 L234.60,369.56 L234.83,367.97 L235.07,366.24 L235.31,364.39 L235.55,362.41 L235.78,360.32 L236.02,358.11 L236.26,355.80 L236.50,353.39 L236.74,350.88 L236.97,348.29 L237.21,345.61 L237.45,342.86 L237.69,340.03 L237.92,337.15 L238.16,334.22 L238.40,331.24 L238.64,328.22 L238.87,325.16 L239.11,322.09 L239.35,319.00 L239.59,315.90 L239.83,312.80 L240.06,309.71 L240.30,306.64 L240.54,303.58 L240.78,300.56 L241.01,297.58 L241.25,294.65 L241.49,291.77 L241.73,288.94 L241.96,286.19 L242.20,283.51 L242.44,280.92 L242.68,278.41 L242.92,276.00 L243.15,273.69 L243.39,271.48 L243.63,269.39 L243.87,267.41 L244.10,265.56 L244.34,263.83 L244.58,262.24 L244.82,260.78 L245.05,259.46 L245.29,258.28 L245.53,257.25 L245.77,256.37 L246.01,255.64 L246.24,255.05 L246.48,254.63 L246.72,254.36 L246.96,254.24 L247.19,254.28 L247.43,254.47 L247.67,254.82 L247.91,255.33 L248.14,255.98 L248.38,256.79 L248.62,257.75 L248.86,258.85 L249.10,260.10 L249.33,261.49 L249.57,263.02 L249.81,264.68 L250.05,266.47 L250.28,268.39 L250.52,270.42 L250.76,272.57 L251.00,274.83 L251.23,277.19 L251.47,279.65 L251.71,282.21 L251.95,284.84 L252.19,287.56 L252.42,290.35 L252.66,293.20 L252.90,296.11 L253.14,299.07 L253.37,302.07 L253.61,305.11 L253.85,308.17 L254.09,311.25 L254.32,314.35 L254.56,317.45 L254.80,320.55 L255.04,323.63 L255.28,326.69 L255.51,329.73 L255.75,332.73 L255.99,335.69 L256.23,338.60 L256.46,341.45 L256.70,344.24 L256.94,346.96 L257.18,349.59 L257.42,352.15 L257.65,354.61 L257.89,356.97 L258.13,359.23 L258.37,361.38 L258.60,363.41 L258.84,365.33 L259.08,367.12 L259.32,368.78 L259.55,370.31 L259.79,371.70 L260.03,372.95 L260.27,374.05 L260.51,375.01 L260.74,375.82 L260.98,376.47 L261.22,376.98 L261.46,377.33 L261.69,377.52 L261.93,377.56 L262.17,377.44 L262.41,377.17 L262.64,376.75 L262.88,376.16 L263.12,375.43 L263.36,374.55 L263.60,373.52 L263.83,372.34 L264.07,371.02 L264.31,369.56 L264.55,367.97 L264.78,366.24 L265.02,364.39 L265.26,362.41 L265.50,360.32 L265.73,358.11 L265.97,355.80 L266.21,353.39 L266.45,350.88 L266.69,348.29 L266.92,345.61 L267.16,342.86 L267.40,340.03 L267.64,337.15 L267.87,334.22 L268.11,331.24 L268.35,328.22 L268.59,325.16 L268.82,322.09 L269.06,319.00 L269.30,315.90" stroke="#000" stroke-width="2.9" stroke-dasharray="2.5 3.0" stroke-dashoffset="1.3"/>
<path d="M31.60,315.90 L31.84,315.89 L32.08,315.85 L32.31,315.74 L32.55,315.53 L32.79,315.22 L33.03,314.77 L33.26,314.19 L33.50,313.47 L33.74,312.60 L33.98,311.59 L34.21,310.43 L34.45,309.14 L34.69,307.72 L34.93,306.18 L35.17,304.52 L35.40,302.76 L35.64,300.92 L35.88,298.99 L36.12,297.00 L36.35,294.96 L36.59,292.88 L36.83,290.77 L37.07,288.64 L37.30,286.52 L37.54,284.40 L37.78,282.30 L38.02,280.24 L38.26,278.22 L38.49,276.25 L38.73,274.34 L38.97,272.51 L39.21,270.76 L39.44,269.11 L39.68,267.55 L39.92,266.09 L40.16,264.74 L40.39,263.52 L40.63,262.41 L40.87,261.43 L41.11,260.59 L41.35,259.88 L41.58,259.31 L41.82,258.88 L42.06,258.59 L42.30,258.44 L42.53,258.45 L42.77,258.60 L43.01,258.89 L43.25,259.33 L43.48,259.92 L43.72,260.65 L43.96,261.52 L44.20,262.54 L44.44,263.69 L44.67,264.97 L44.91,266.39 L45.15,267.93 L45.39,269.60 L45.62,271.39 L45.86,273.29 L46.10,275.30 L46.34,277.42 L46.58,279.63 L46.81,281.94 L47.05,284.34 L47.29,286.82 L47.53,289.37 L47.76,291.99 L48.00,294.67 L48.24,297.41 L48.48,300.19 L48.71,303.02 L48.95,305.88 L49.19,308.76 L49.43,311.67 L49.67,314.58 L49.90,317.50 L50.14,320.41 L50.38,323.32 L50.62,326.20 L50.85,329.06 L51.09,331.89 L51.33,334.68 L51.57,337.41 L51.80,340.10 L52.04,342.72 L52.28,345.28 L52.52,347.76 L52.76,350.16 L52.99,352.47 L53.23,354.70 L53.47,356.82 L53.71,358.84 L53.94,360.75 L54.18,362.55 L54.42,364.23 L54.66,365.79 L54.89,367.22 L55.13,368.53 L55.37,369.70 L55.61,370.73 L55.85,371.63 L56.08,372.38 L56.32,372.99 L56.56,373.46 L56.80,373.78 L57.03,373.96 L57.27,373.99 L57.51,373.87 L57.75,373.61 L57.98,373.20 L58.22,372.64 L58.46,371.94 L58.70,371.10 L58.94,370.13 L59.17,369.01 L59.41,367.76 L59.65,366.38 L59.89,364.87 L60.12,363.24 L60.36,361.49 L60.60,359.62 L60.84,357.64 L61.07,355.56 L61.31,353.37 L61.55,351.10 L61.79,348.73 L62.03,346.28 L62.26,343.75 L62.50,341.16 L62.74,338.50 L62.98,335.78 L63.21,333.01 L63.45,330.20 L63.69,327.35 L63.93,324.48 L64.16,321.58 L64.40,318.67 L64.64,315.75 L64.88,312.83 L65.12,309.92 L65.35,307.02 L65.59,304.15 L65.83,301.30 L66.07,298.50 L66.30,295.73 L66.54,293.02 L66.78,290.37 L67.02,287.78 L67.25,285.26 L67.49,282.82 L67.73,280.46 L67.97,278.19 L68.21,276.02 L68.44,273.95 L68.68,271.98 L68.92,270.13 L69.16,268.39 L69.39,266.77 L69.63,265.27 L69.87,263.90 L70.11,262.67 L70.35,261.57 L70.58,260.60 L70.82,259.78 L71.06,259.09 L71.30,258.55 L71.53,258.16 L71.77,257.91 L72.01,257.81 L72.25,257.85 L72.48,258.04 L72.72,258.38 L72.96,258.86 L73.20,259.49 L73.44,260.26 L73.67,261.17 L73.91,262.22 L74.15,263.40 L74.39,264.72 L74.62,266.16 L74.86,267.73 L75.10,269.42 L75.34,271.23 L75.57,273.16 L75.81,275.19 L76.05,277.32 L76.29,279.55 L76.53,281.88 L76.76,284.29 L77.00,286.77 L77.24,289.34 L77.48,291.97 L77.71,294.66 L77.95,297.40 L78.19,300.19 L78.43,303.02 L78.66,305.88 L78.90,308.77 L79.14,311.68 L79.38,314.59 L79.62,317.51 L79.85,320.43 L80.09,323.33 L80.33,326.22 L80.57,329.08 L80.80,331.90 L81.04,334.69 L81.28,337.43 L81.52,340.11 L81.75,342.74 L81.99,345.29 L82.23,347.77 L82.47,350.17 L82.71,352.49 L82.94,354.71 L83.18,356.83 L83.42,358.85 L83.66,360.76 L83.89,362.56 L84.13,364.24 L84.37,365.80 L84.61,367.23 L84.84,368.53 L85.08,369.70 L85.32,370.73 L85.56,371.63 L85.80,372.38 L86.03,372.99 L86.27,373.46 L86.51,373.78 L86.75,373.96 L86.98,373.99 L87.22,373.87 L87.46,373.61 L87.70,373.20 L87.93,372.64 L88.17,371.94 L88.41,371.10 L88.65,370.13 L88.89,369.01 L89.12,367.76 L89.36,366.38 L89.60,364.87 L89.84,363.24 L90.07,361.48 L90.31,359.62 L90.55,357.64 L90.79,355.56 L91.03,353.37 L91.26,351.10 L91.50,348.73 L91.74,346.28 L91.98,343.75 L92.21,341.16 L92.45,338.50 L92.69,335.78 L92.93,333.01 L93.16,330.20 L93.40,327.35 L93.64,324.48 L93.88,321.58 L94.12,318.67 L94.35,315.75 L94.59,312.83 L94.83,309.92 L95.07,307.02 L95.30,304.15 L95.54,301.30 L95.78,298.50 L96.02,295.73 L96.25,293.02 L96.49,290.37 L96.73,287.78 L96.97,285.26 L97.21,282.82 L97.44,280.46 L97.68,278.19 L97.92,276.02 L98.16,273.95 L98.39,271.98 L98.63,270.13 L98.87,268.39 L99.11,266.77 L99.34,265.27 L99.58,263.90 L99.82,262.67 L100.06,261.57 L100.30,260.60 L100.53,259.78 L100.77,259.09 L101.01,258.55 L101.25,258.16 L101.48,257.91 L101.72,257.81 L101.96,257.85 L102.20,258.04 L102.43,258.38 L102.67,258.86 L102.91,259.49 L103.15,260.26 L103.39,261.17 L103.62,262.22 L103.86,263.40 L104.10,264.72 L104.34,266.16 L104.57,267.73 L104.81,269.42 L105.05,271.23 L105.29,273.16 L105.52,275.19 L105.76,277.32 L106.00,279.55 L106.24,281.88 L106.48,284.29 L106.71,286.77 L106.95,289.34 L107.19,291.97 L107.43,294.66 L107.66,297.40 L107.90,300.19 L108.14,303.02 L108.38,305.88 L108.61,308.77 L108.85,311.68 L109.09,314.59 L109.33,317.51 L109.57,320.43 L109.80,323.33 L110.04,326.22 L110.28,329.08 L110.52,331.90 L110.75,334.69 L110.99,337.43 L111.23,340.11 L111.47,342.74 L111.70,345.29 L111.94,347.77 L112.18,350.17 L112.42,352.49 L112.66,354.71 L112.89,356.83 L113.13,358.85 L113.37,360.76 L113.61,362.56 L113.84,364.24 L114.08,365.80 L114.32,367.23 L114.56,368.53 L114.80,369.70 L115.03,370.73 L115.27,371.63 L115.51,372.38 L115.75,372.99 L115.98,373.46 L116.22,373.78 L116.46,373.96 L116.70,373.99 L116.93,373.87 L117.17,373.61 L117.41,373.20 L117.65,372.64 L117.89,371.94 L118.12,371.10 L118.36,370.13 L118.60,369.01 L118.84,367.76 L119.07,366.38 L119.31,364.87 L119.55,363.24 L119.79,361.48 L120.02,359.62 L120.26,357.64 L120.50,355.56 L120.74,353.37 L120.98,351.10 L121.21,348.73 L121.45,346.28 L121.69,343.75 L121.93,341.16 L122.16,338.50 L122.40,335.78 L122.64,333.01 L122.88,330.20 L123.11,327.35 L123.35,324.48 L123.59,321.58 L123.83,318.67 L124.07,315.75 L124.30,312.83 L124.54,309.92 L124.78,307.02 L125.02,304.15 L125.25,301.30 L125.49,298.50 L125.73,295.73 L125.97,293.02 L126.20,290.37 L126.44,287.78 L126.68,285.26 L126.92,282.82 L127.16,280.46 L127.39,278.19 L127.63,276.02 L127.87,273.95 L128.11,271.98 L128.34,270.13 L128.58,268.39 L128.82,266.77 L129.06,265.27 L129.29,263.90 L129.53,262.67 L129.77,261.57 L130.01,260.60 L130.25,259.78 L130.48,259.09 L130.72,258.55 L130.96,258.16 L131.20,257.91 L131.43,257.81 L131.67,257.85 L131.91,258.04 L132.15,258.38 L132.38,258.86 L132.62,259.49 L132.86,260.26 L133.10,261.17 L133.34,262.22 L133.57,263.40 L133.81,264.72 L134.05,266.16 L134.29,267.73 L134.52,269.42 L134.76,271.23 L135.00,273.16 L135.24,275.19 L135.47,277.32 L135.71,279.55 L135.95,281.88 L136.19,284.29 L136.43,286.77 L136.66,289.34 L136.90,291.97 L137.14,294.66 L137.38,297.40 L137.61,300.19 L137.85,303.02 L138.09,305.88 L138.33,308.77 L138.56,311.68 L138.80,314.59 L139.04,317.51 L139.28,320.43 L139.52,323.33 L139.75,326.22 L139.99,329.08 L140.23,331.90 L140.47,334.69 L140.70,337.43 L140.94,340.11 L141.18,342.74 L141.42,345.29 L141.66,347.77 L141.89,350.17 L142.13,352.49 L142.37,354.71 L142.61,356.83 L142.84,358.85 L143.08,360.76 L143.32,362.56 L143.56,364.24 L143.79,365.80 L144.03,367.23 L144.27,368.53 L144.51,369.70 L144.75,370.73 L144.98,371.63 L145.22,372.38 L145.46,372.99 L145.70,373.46 L145.93,373.78 L146.17,373.96 L146.41,373.99 L146.65,373.87 L146.88,373.61 L147.12,373.20 L147.36,372.64 L147.60,371.94 L147.84,371.10 L148.07,370.13 L148.31,369.01 L148.55,367.76 L148.79,366.38 L149.02,364.87 L149.26,363.24 L149.50,361.48 L149.74,359.62 L149.97,357.64 L150.21,355.56 L150.45,353.37 L150.69,351.10 L150.93,348.73 L151.16,346.28 L151.40,343.75 L151.64,341.16 L151.88,338.50 L152.11,335.78 L152.35,333.01 L152.59,330.20 L152.83,327.35 L153.06,324.48 L153.30,321.58 L153.54,318.67 L153.78,315.75 L154.02,312.83 L154.25,309.92 L154.49,307.02 L154.73,304.15 L154.97,301.30 L155.20,298.50 L155.44,295.73 L155.68,293.02 L155.92,290.37 L156.15,287.78 L156.39,285.26 L156.63,282.82 L156.87,280.46 L157.11,278.19 L157.34,276.02 L157.58,273.95 L157.82,271.98 L158.06,270.13 L158.29,268.39 L158.53,266.77 L158.77,265.27 L159.01,263.90 L159.24,262.67 L159.48,261.57 L159.72,260.60 L159.96,259.78 L160.20,259.09 L160.43,258.55 L160.67,258.16 L160.91,257.91 L161.15,257.81 L161.38,257.85 L161.62,258.04 L161.86,258.38 L162.10,258.86 L162.34,259.49 L162.57,260.26 L162.81,261.17 L163.05,262.22 L163.29,263.40 L163.52,264.72 L163.76,266.16 L164.00,267.73 L164.24,269.42 L164.47,271.23 L164.71,273.16 L164.95,275.19 L165.19,277.32 L165.43,279.55 L165.66,281.88 L165.90,284.29 L166.14,286.77 L166.38,289.34 L166.61,291.97 L166.85,294.66 L167.09,297.40 L167.33,300.19 L167.56,303.02 L167.80,305.88 L168.04,308.77 L168.28,311.68 L168.52,314.59 L168.75,317.51 L168.99,320.43 L169.23,323.33 L169.47,326.22 L169.70,329.08 L169.94,331.90 L170.18,334.69 L170.42,337.43 L170.65,340.11 L170.89,342.74 L171.13,345.29 L171.37,347.77 L171.61,350.17 L171.84,352.49 L172.08,354.71 L172.32,356.83 L172.56,358.85 L172.79,360.76 L173.03,362.56 L173.27,364.24 L173.51,365.80 L173.74,367.23 L173.98,368.53 L174.22,369.70 L174.46,370.73 L174.70,371.63 L174.93,372.38 L175.17,372.99 L175.41,373.46 L175.65,373.78 L175.88,373.96 L176.12,373.99 L176.36,373.87 L176.60,373.61 L176.83,373.20 L177.07,372.64 L177.31,371.94 L177.55,371.10 L177.79,370.13 L178.02,369.01 L178.26,367.76 L178.50,366.38 L178.74,364.87 L178.97,363.24 L179.21,361.48 L179.45,359.62 L179.69,357.64 L179.92,355.56 L180.16,353.37 L180.40,351.10 L180.64,348.73 L180.88,346.28 L181.11,343.75 L181.35,341.16 L181.59,338.50 L181.83,335.78 L182.06,333.01 L182.30,330.20 L182.54,327.35 L182.78,324.48 L183.01,321.58 L183.25,318.67 L183.49,315.75 L183.73,312.83 L183.97,309.92 L184.20,307.02 L184.44,304.15 L184.68,301.30 L184.92,298.50 L185.15,295.73 L185.39,293.02 L185.63,290.37 L185.87,287.78 L186.11,285.26 L186.34,282.82 L186.58,280.46 L186.82,278.19 L187.06,276.02 L187.29,273.95 L187.53,271.98 L187.77,270.13 L188.01,268.39 L188.24,266.77 L188.48,265.27 L188.72,263.90 L188.96,262.67 L189.20,261.57 L189.43,260.60 L189.67,259.78 L189.91,259.09 L190.15,258.55 L190.38,258.16 L190.62,257.91 L190.86,257.81 L191.10,257.85 L191.33,258.04 L191.57,258.38 L191.81,258.86 L192.05,259.49 L192.29,260.26 L192.52,261.17 L192.76,262.22 L193.00,263.40 L193.24,264.72 L193.47,266.16 L193.71,267.73 L193.95,269.42 L194.19,271.23 L194.42,273.16 L194.66,275.19 L194.90,277.32 L195.14,279.55 L195.38,281.88 L195.61,284.29 L195.85,286.77 L196.09,289.34 L196.33,291.97 L196.56,294.66 L196.80,297.40 L197.04,300.19 L197.28,303.02 L197.51,305.88 L197.75,308.77 L197.99,311.68 L198.23,314.59 L198.47,317.51 L198.70,320.43 L198.94,323.33 L199.18,326.22 L199.42,329.08 L199.65,331.90 L199.89,334.69 L200.13,337.43 L200.37,340.11 L200.60,342.74 L200.84,345.29 L201.08,347.77 L201.32,350.17 L201.56,352.49 L201.79,354.71 L202.03,356.83 L202.27,358.85 L202.51,360.76 L202.74,362.56 L202.98,364.24 L203.22,365.80 L203.46,367.23 L203.69,368.53 L203.93,369.70 L204.17,370.73 L204.41,371.63 L204.65,372.38 L204.88,372.99 L205.12,373.46 L205.36,373.78 L205.60,373.96 L205.83,373.99 L206.07,373.87 L206.31,373.61 L206.55,373.20 L206.78,372.64 L207.02,371.94 L207.26,371.10 L207.50,370.13 L207.74,369.01 L207.97,367.76 L208.21,366.38 L208.45,364.87 L208.69,363.24 L208.92,361.48 L209.16,359.62 L209.40,357.64 L209.64,355.56 L209.88,353.37 L210.11,351.10 L210.35,348.73 L210.59,346.28 L210.83,343.75 L211.06,341.16 L211.30,338.50 L211.54,335.78 L211.78,333.01 L212.01,330.20 L212.25,327.35 L212.49,324.48 L212.73,321.58 L212.97,318.67 L213.20,315.75 L213.44,312.83 L213.68,309.92 L213.92,307.02 L214.15,304.15 L214.39,301.30 L214.63,298.50 L214.87,295.73 L215.10,293.02 L215.34,290.37 L215.58,287.78 L215.82,285.26 L216.06,282.82 L216.29,280.46 L216.53,278.19 L216.77,276.02 L217.01,273.95 L217.24,271.98 L217.48,270.13 L217.72,268.39 L217.96,266.77 L218.19,265.27 L218.43,263.90 L218.67,262.67 L218.91,261.57 L219.15,260.60 L219.38,259.78 L219.62,259.09 L219.86,258.55 L220.10,258.16 L220.33,257.91 L220.57,257.81 L220.81,257.85 L221.05,258.04 L221.28,258.38 L221.52,258.86 L221.76,259.49 L222.00,260.26 L222.24,261.17 L222.47,262.22 L222.71,263.40 L222.95,264.72 L223.19,266.16 L223.42,267.73 L223.66,269.42 L223.90,271.23 L224.14,273.16 L224.37,275.19 L224.61,277.32 L224.85,279.55 L225.09,281.88 L225.33,284.29 L225.56,286.77 L225.80,289.34 L226.04,291.97 L226.28,294.66 L226.51,297.40 L226.75,300.19 L226.99,303.02 L227.23,305.88 L227.46,308.77 L227.70,311.68 L227.94,314.59 L228.18,317.51 L228.42,320.43 L228.65,323.33 L228.89,326.22 L229.13,329.08 L229.37,331.90 L229.60,334.69 L229.84,337.43 L230.08,340.11 L230.32,342.74 L230.55,345.29 L230.79,347.77 L231.03,350.17 L231.27,352.49 L231.51,354.71 L231.74,356.83 L231.98,358.85 L232.22,360.76 L232.46,362.56 L232.69,364.24 L232.93,365.80 L233.17,367.23 L233.41,368.53 L233.65,369.70 L233.88,370.73 L234.12,371.63 L234.36,372.38 L234.60,372.99 L234.83,373.46 L235.07,373.78 L235.31,373.96 L235.55,373.99 L235.78,373.87 L236.02,373.61 L236.26,373.20 L236.50,372.64 L236.74,371.94 L236.97,371.10 L237.21,370.13 L237.45,369.01 L237.69,367.76 L237.92,366.38 L238.16,364.87 L238.40,363.24 L238.64,361.48 L238.87,359.62 L239.11,357.64 L239.35,355.56 L239.59,353.37 L239.83,351.10 L240.06,348.73 L240.30,346.28 L240.54,343.75 L240.78,341.16 L241.01,338.50 L241.25,335.78 L241.49,333.01 L241.73,330.20 L241.96,327.35 L242.20,324.48 L242.44,321.58 L242.68,318.67 L242.92,315.75 L243.15,312.83 L243.39,309.92 L243.63,307.02 L243.87,304.15 L244.10,301.30 L244.34,298.50 L244.58,295.73 L244.82,293.02 L245.05,290.37 L245.29,287.78 L245.53,285.26 L245.77,282.82 L246.01,280.46 L246.24,278.19 L246.48,276.02 L246.72,273.95 L246.96,271.98 L247.19,270.13 L247.43,268.39 L247.67,266.77 L247.91,265.27 L248.14,263.90 L248.38,262.67 L248.62,261.57 L248.86,260.60 L249.10,259.78 L249.33,259.09 L249.57,258.55 L249.81,258.16 L250.05,257.91 L250.28,257.81 L250.52,257.85 L250.76,258.04 L251.00,258.38 L251.23,258.86 L251.47,259.49 L251.71,260.26 L251.95,261.17 L252.19,262.22 L252.42,263.40 L252.66,264.72 L252.90,266.16 L253.14,267.73 L253.37,269.42 L253.61,271.23 L253.85,273.16 L254.09,275.19 L254.32,277.32 L254.56,279.55 L254.80,281.88 L255.04,284.29 L255.28,286.77 L255.51,289.34 L255.75,291.97 L255.99,294.66 L256.23,297.40 L256.46,300.19 L256.70,303.02 L256.94,305.88 L257.18,308.77 L257.42,311.68 L257.65,314.59 L257.89,317.51 L258.13,320.43 L258.37,323.33 L258.60,326.22 L258.84,329.08 L259.08,331.90 L259.32,334.69 L259.55,337.43 L259.79,340.11 L260.03,342.74 L260.27,345.29 L260.51,347.77 L260.74,350.17 L260.98,352.49 L261.22,354.71 L261.46,356.83 L261.69,358.85 L261.93,360.76 L262.17,362.56 L262.41,364.24 L262.64,365.80 L262.88,367.23 L263.12,368.53 L263.36,369.70 L263.60,370.73 L263.83,371.63 L264.07,372.38 L264.31,372.99 L264.55,373.46 L264.78,373.78 L265.02,373.96 L265.26,373.99 L265.50,373.87 L265.73,373.61 L265.97,373.20 L266.21,372.64 L266.45,371.94 L266.69,371.10 L266.92,370.13 L267.16,369.01 L267.40,367.76 L267.64,366.38 L267.87,364.87 L268.11,363.24 L268.35,361.48 L268.59,359.62 L268.82,357.64 L269.06,355.56 L269.30,353.37" stroke="#00ee00" stroke-width="2.4"/>
<path d="M31.60,315.90 L31.84,315.90 L32.08,315.86 L32.31,315.78 L32.55,315.63 L32.79,315.40 L33.03,315.08 L33.26,314.66 L33.50,314.14 L33.74,313.51 L33.98,312.79 L34.21,311.95 L34.45,311.02 L34.69,309.99 L34.93,308.87 L35.17,307.66 L35.40,306.38 L35.64,305.02 L35.88,303.59 L36.12,302.11 L36.35,300.57 L36.59,298.99 L36.83,297.38 L37.07,295.74 L37.30,294.08 L37.54,292.41 L37.78,290.74 L38.02,289.07 L38.26,287.41 L38.49,285.77 L38.73,284.16 L38.97,282.59 L39.21,281.05 L39.44,279.56 L39.68,278.13 L39.92,276.75 L40.16,275.44 L40.39,274.20 L40.63,273.04 L40.87,271.96 L41.11,270.96 L41.35,270.05 L41.58,269.24 L41.82,268.52 L42.06,267.91 L42.30,267.39 L42.53,266.99 L42.77,266.69 L43.01,266.50 L43.25,266.42 L43.48,266.45 L43.72,266.60 L43.96,266.86 L44.20,267.23 L44.44,267.72 L44.67,268.32 L44.91,269.03 L45.15,269.86 L45.39,270.79 L45.62,271.83 L45.86,272.97 L46.10,274.22 L46.34,275.57 L46.58,277.01 L46.81,278.55 L47.05,280.18 L47.29,281.89 L47.53,283.69 L47.76,285.56 L48.00,287.51 L48.24,289.53 L48.48,291.61 L48.71,293.75 L48.95,295.94 L49.19,298.18 L49.43,300.47 L49.67,302.79 L49.90,305.14 L50.14,307.52 L50.38,309.92 L50.62,312.33 L50.85,314.75 L51.09,317.17 L51.33,319.59 L51.57,321.99 L51.80,324.38 L52.04,326.75 L52.28,329.09 L52.52,331.39 L52.76,333.66 L52.99,335.88 L53.23,338.05 L53.47,340.16 L53.71,342.21 L53.94,344.20 L54.18,346.11 L54.42,347.94 L54.66,349.70 L54.89,351.36 L55.13,352.94 L55.37,354.43 L55.61,355.81 L55.85,357.10 L56.08,358.28 L56.32,359.35 L56.56,360.32 L56.80,361.17 L57.03,361.90 L57.27,362.53 L57.51,363.03 L57.75,363.41 L57.98,363.67 L58.22,363.82 L58.46,363.84 L58.70,363.74 L58.94,363.52 L59.17,363.18 L59.41,362.72 L59.65,362.14 L59.89,361.44 L60.12,360.63 L60.36,359.70 L60.60,358.67 L60.84,357.53 L61.07,356.28 L61.31,354.93 L61.55,353.48 L61.79,351.94 L62.03,350.30 L62.26,348.58 L62.50,346.77 L62.74,344.89 L62.98,342.94 L63.21,340.91 L63.45,338.83 L63.69,336.68 L63.93,334.48 L64.16,332.24 L64.40,329.95 L64.64,327.63 L64.88,325.28 L65.12,322.90 L65.35,320.51 L65.59,318.11 L65.83,315.70 L66.07,313.29 L66.30,310.89 L66.54,308.50 L66.78,306.12 L67.02,303.78 L67.25,301.46 L67.49,299.18 L67.73,296.94 L67.97,294.76 L68.21,292.62 L68.44,290.54 L68.68,288.53 L68.92,286.58 L69.16,284.71 L69.39,282.92 L69.63,281.22 L69.87,279.60 L70.11,278.07 L70.35,276.63 L70.58,275.30 L70.82,274.07 L71.06,272.94 L71.30,271.93 L71.53,271.02 L71.77,270.23 L72.01,269.55 L72.25,268.99 L72.48,268.55 L72.72,268.23 L72.96,268.02 L73.20,267.94 L73.44,267.98 L73.67,268.15 L73.91,268.43 L74.15,268.83 L74.39,269.35 L74.62,269.99 L74.86,270.74 L75.10,271.61 L75.34,272.59 L75.57,273.68 L75.81,274.88 L76.05,276.18 L76.29,277.58 L76.53,279.08 L76.76,280.67 L77.00,282.35 L77.24,284.11 L77.48,285.95 L77.71,287.87 L77.95,289.86 L78.19,291.92 L78.43,294.04 L78.66,296.21 L78.90,298.43 L79.14,300.70 L79.38,303.00 L79.62,305.34 L79.85,307.70 L80.09,310.09 L80.33,312.49 L80.57,314.90 L80.80,317.31 L81.04,319.71 L81.28,322.11 L81.52,324.49 L81.75,326.85 L81.99,329.18 L82.23,331.48 L82.47,333.74 L82.71,335.96 L82.94,338.12 L83.18,340.23 L83.42,342.27 L83.66,344.25 L83.89,346.16 L84.13,347.99 L84.37,349.74 L84.61,351.41 L84.84,352.98 L85.08,354.46 L85.32,355.85 L85.56,357.13 L85.80,358.31 L86.03,359.38 L86.27,360.34 L86.51,361.19 L86.75,361.93 L86.98,362.54 L87.22,363.05 L87.46,363.43 L87.70,363.69 L87.93,363.83 L88.17,363.85 L88.41,363.75 L88.65,363.53 L88.89,363.19 L89.12,362.73 L89.36,362.15 L89.60,361.45 L89.84,360.64 L90.07,359.71 L90.31,358.68 L90.55,357.53 L90.79,356.28 L91.03,354.93 L91.26,353.48 L91.50,351.94 L91.74,350.31 L91.98,348.58 L92.21,346.78 L92.45,344.90 L92.69,342.94 L92.93,340.92 L93.16,338.83 L93.40,336.68 L93.64,334.48 L93.88,332.24 L94.12,329.95 L94.35,327.63 L94.59,325.28 L94.83,322.91 L95.07,320.51 L95.30,318.11 L95.54,315.70 L95.78,313.29 L96.02,310.89 L96.25,308.50 L96.49,306.13 L96.73,303.78 L96.97,301.46 L97.21,299.18 L97.44,296.95 L97.68,294.76 L97.92,292.62 L98.16,290.54 L98.39,288.53 L98.63,286.59 L98.87,284.72 L99.11,282.92 L99.34,281.22 L99.58,279.60 L99.82,278.07 L100.06,276.63 L100.30,275.30 L100.53,274.07 L100.77,272.94 L101.01,271.93 L101.25,271.02 L101.48,270.23 L101.72,269.55 L101.96,268.99 L102.20,268.55 L102.43,268.23 L102.67,268.02 L102.91,267.94 L103.15,267.98 L103.39,268.15 L103.62,268.43 L103.86,268.83 L104.10,269.35 L104.34,269.99 L104.57,270.74 L104.81,271.61 L105.05,272.59 L105.29,273.68 L105.52,274.88 L105.76,276.18 L106.00,277.58 L106.24,279.08 L106.48,280.67 L106.71,282.35 L106.95,284.11 L107.19,285.95 L107.43,287.87 L107.66,289.86 L107.90,291.92 L108.14,294.04 L108.38,296.21 L108.61,298.43 L108.85,300.70 L109.09,303.00 L109.33,305.34 L109.57,307.70 L109.80,310.09 L110.04,312.49 L110.28,314.90 L110.52,317.31 L110.75,319.71 L110.99,322.11 L111.23,324.49 L111.47,326.85 L111.70,329.18 L111.94,331.48 L112.18,333.74 L112.42,335.96 L112.66,338.12 L112.89,340.23 L113.13,342.27 L113.37,344.25 L113.61,346.16 L113.84,347.99 L114.08,349.74 L114.32,351.41 L114.56,352.98 L114.80,354.46 L115.03,355.85 L115.27,357.13 L115.51,358.31 L115.75,359.38 L115.98,360.34 L116.22,361.19 L116.46,361.93 L116.70,362.54 L116.93,363.05 L117.17,363.43 L117.41,363.69 L117.65,363.83 L117.89,363.85 L118.12,363.75 L118.36,363.53 L118.60,363.19 L118.84,362.73 L119.07,362.15 L119.31,361.45 L119.55,360.64 L119.79,359.71 L120.02,358.68 L120.26,357.53 L120.50,356.28 L120.74,354.93 L120.98,353.48 L121.21,351.94 L121.45,350.31 L121.69,348.58 L121.93,346.78 L122.16,344.90 L122.40,342.94 L122.64,340.92 L122.88,338.83 L123.11,336.68 L123.35,334.48 L123.59,332.24 L123.83,329.95 L124.07,327.63 L124.30,325.28 L124.54,322.91 L124.78,320.51 L125.02,318.11 L125.25,315.70 L125.49,313.29 L125.73,310.89 L125.97,308.50 L126.20,306.13 L126.44,303.78 L126.68,301.46 L126.92,299.18 L127.16,296.95 L127.39,294.76 L127.63,292.62 L127.87,290.54 L128.11,288.53 L128.34,286.59 L128.58,284.72 L128.82,282.92 L129.06,281.22 L129.29,279.60 L129.53,278.07 L129.77,276.63 L130.01,275.30 L130.25,274.07 L130.48,272.94 L130.72,271.93 L130.96,271.02 L131.20,270.23 L131.43,269.55 L131.67,268.99 L131.91,268.55 L132.15,268.23 L132.38,268.02 L132.62,267.94 L132.86,267.98 L133.10,268.15 L133.34,268.43 L133.57,268.83 L133.81,269.35 L134.05,269.99 L134.29,270.74 L134.52,271.61 L134.76,272.59 L135.00,273.68 L135.24,274.88 L135.47,276.18 L135.71,277.58 L135.95,279.08 L136.19,280.67 L136.43,282.35 L136.66,284.11 L136.90,285.95 L137.14,287.87 L137.38,289.86 L137.61,291.92 L137.85,294.04 L138.09,296.21 L138.33,298.43 L138.56,300.70 L138.80,303.00 L139.04,305.34 L139.28,307.70 L139.52,310.09 L139.75,312.49 L139.99,314.90 L140.23,317.31 L140.47,319.71 L140.70,322.11 L140.94,324.49 L141.18,326.85 L141.42,329.18 L141.66,331.48 L141.89,333.74 L142.13,335.96 L142.37,338.12 L142.61,340.23 L142.84,342.27 L143.08,344.25 L143.32,346.16 L143.56,347.99 L143.79,349.74 L144.03,351.41 L144.27,352.98 L144.51,354.46 L144.75,355.85 L144.98,357.13 L145.22,358.31 L145.46,359.38 L145.70,360.34 L145.93,361.19 L146.17,361.93 L146.41,362.54 L146.65,363.05 L146.88,363.43 L147.12,363.69 L147.36,363.83 L147.60,363.85 L147.84,363.75 L148.07,363.53 L148.31,363.19 L148.55,362.73 L148.79,362.15 L149.02,361.45 L149.26,360.64 L149.50,359.71 L149.74,358.68 L149.97,357.53 L150.21,356.28 L150.45,354.93 L150.69,353.48 L150.93,351.94 L151.16,350.31 L151.40,348.58 L151.64,346.78 L151.88,344.90 L152.11,342.94 L152.35,340.92 L152.59,338.83 L152.83,336.68 L153.06,334.48 L153.30,332.24 L153.54,329.95 L153.78,327.63 L154.02,325.28 L154.25,322.91 L154.49,320.51 L154.73,318.11 L154.97,315.70 L155.20,313.29 L155.44,310.89 L155.68,308.50 L155.92,306.13 L156.15,303.78 L156.39,301.46 L156.63,299.18 L156.87,296.95 L157.11,294.76 L157.34,292.62 L157.58,290.54 L157.82,288.53 L158.06,286.59 L158.29,284.72 L158.53,282.92 L158.77,281.22 L159.01,279.60 L159.24,278.07 L159.48,276.63 L159.72,275.30 L159.96,274.07 L160.20,272.94 L160.43,271.93 L160.67,271.02 L160.91,270.23 L161.15,269.55 L161.38,268.99 L161.62,268.55 L161.86,268.23 L162.10,268.02 L162.34,267.94 L162.57,267.98 L162.81,268.15 L163.05,268.43 L163.29,268.83 L163.52,269.35 L163.76,269.99 L164.00,270.74 L164.24,271.61 L164.47,272.59 L164.71,273.68 L164.95,274.88 L165.19,276.18 L165.43,277.58 L165.66,279.08 L165.90,280.67 L166.14,282.35 L166.38,284.11 L166.61,285.95 L166.85,287.87 L167.09,289.86 L167.33,291.92 L167.56,294.04 L167.80,296.21 L168.04,298.43 L168.28,300.70 L168.52,303.00 L168.75,305.34 L168.99,307.70 L169.23,310.09 L169.47,312.49 L169.70,314.90 L169.94,317.31 L170.18,319.71 L170.42,322.11 L170.65,324.49 L170.89,326.85 L171.13,329.18 L171.37,331.48 L171.61,333.74 L171.84,335.96 L172.08,338.12 L172.32,340.23 L172.56,342.27 L172.79,344.25 L173.03,346.16 L173.27,347.99 L173.51,349.74 L173.74,351.41 L173.98,352.98 L174.22,354.46 L174.46,355.85 L174.70,357.13 L174.93,358.31 L175.17,359.38 L175.41,360.34 L175.65,361.19 L175.88,361.93 L176.12,362.54 L176.36,363.05 L176.60,363.43 L176.83,363.69 L177.07,363.83 L177.31,363.85 L177.55,363.75 L177.79,363.53 L178.02,363.19 L178.26,362.73 L178.50,362.15 L178.74,361.45 L178.97,360.64 L179.21,359.71 L179.45,358.68 L179.69,357.53 L179.92,356.28 L180.16,354.93 L180.40,353.48 L180.64,351.94 L180.88,350.31 L181.11,348.58 L181.35,346.78 L181.59,344.90 L181.83,342.94 L182.06,340.92 L182.30,338.83 L182.54,336.68 L182.78,334.48 L183.01,332.24 L183.25,329.95 L183.49,327.63 L183.73,325.28 L183.97,322.91 L184.20,320.51 L184.44,318.11 L184.68,315.70 L184.92,313.29 L185.15,310.89 L185.39,308.50 L185.63,306.13 L185.87,303.78 L186.11,301.46 L186.34,299.18 L186.58,296.95 L186.82,294.76 L187.06,292.62 L187.29,290.54 L187.53,288.53 L187.77,286.59 L188.01,284.72 L188.24,282.92 L188.48,281.22 L188.72,279.60 L188.96,278.07 L189.20,276.63 L189.43,275.30 L189.67,274.07 L189.91,272.94 L190.15,271.93 L190.38,271.02 L190.62,270.23 L190.86,269.55 L191.10,268.99 L191.33,268.55 L191.57,268.23 L191.81,268.02 L192.05,267.94 L192.29,267.98 L192.52,268.15 L192.76,268.43 L193.00,268.83 L193.24,269.35 L193.47,269.99 L193.71,270.74 L193.95,271.61 L194.19,272.59 L194.42,273.68 L194.66,274.88 L194.90,276.18 L195.14,277.58 L195.38,279.08 L195.61,280.67 L195.85,282.35 L196.09,284.11 L196.33,285.95 L196.56,287.87 L196.80,289.86 L197.04,291.92 L197.28,294.04 L197.51,296.21 L197.75,298.43 L197.99,300.70 L198.23,303.00 L198.47,305.34 L198.70,307.70 L198.94,310.09 L199.18,312.49 L199.42,314.90 L199.65,317.31 L199.89,319.71 L200.13,322.11 L200.37,324.49 L200.60,326.85 L200.84,329.18 L201.08,331.48 L201.32,333.74 L201.56,335.96 L201.79,338.12 L202.03,340.23 L202.27,342.27 L202.51,344.25 L202.74,346.16 L202.98,347.99 L203.22,349.74 L203.46,351.41 L203.69,352.98 L203.93,354.46 L204.17,355.85 L204.41,357.13 L204.65,358.31 L204.88,359.38 L205.12,360.34 L205.36,361.19 L205.60,361.93 L205.83,362.54 L206.07,363.05 L206.31,363.43 L206.55,363.69 L206.78,363.83 L207.02,363.85 L207.26,363.75 L207.50,363.53 L207.74,363.19 L207.97,362.73 L208.21,362.15 L208.45,361.45 L208.69,360.64 L208.92,359.71 L209.16,358.68 L209.40,357.53 L209.64,356.28 L209.88,354.93 L210.11,353.48 L210.35,351.94 L210.59,350.31 L210.83,348.58 L211.06,346.78 L211.30,344.90 L211.54,342.94 L211.78,340.92 L212.01,338.83 L212.25,336.68 L212.49,334.48 L212.73,332.24 L212.97,329.95 L213.20,327.63 L213.44,325.28 L213.68,322.91 L213.92,320.51 L214.15,318.11 L214.39,315.70 L214.63,313.29 L214.87,310.89 L215.10,308.50 L215.34,306.13 L215.58,303.78 L215.82,301.46 L216.06,299.18 L216.29,296.95 L216.53,294.76 L216.77,292.62 L217.01,290.54 L217.24,288.53 L217.48,286.59 L217.72,284.72 L217.96,282.92 L218.19,281.22 L218.43,279.60 L218.67,278.07 L218.91,276.63 L219.15,275.30 L219.38,274.07 L219.62,272.94 L219.86,271.93 L220.10,271.02 L220.33,270.23 L220.57,269.55 L220.81,268.99 L221.05,268.55 L221.28,268.23 L221.52,268.02 L221.76,267.94 L222.00,267.98 L222.24,268.15 L222.47,268.43 L222.71,268.83 L222.95,269.35 L223.19,269.99 L223.42,270.74 L223.66,271.61 L223.90,272.59 L224.14,273.68 L224.37,274.88 L224.61,276.18 L224.85,277.58 L225.09,279.08 L225.33,280.67 L225.56,282.35 L225.80,284.11 L226.04,285.95 L226.28,287.87 L226.51,289.86 L226.75,291.92 L226.99,294.04 L227.23,296.21 L227.46,298.43 L227.70,300.70 L227.94,303.00 L228.18,305.34 L228.42,307.70 L228.65,310.09 L228.89,312.49 L229.13,314.90 L229.37,317.31 L229.60,319.71 L229.84,322.11 L230.08,324.49 L230.32,326.85 L230.55,329.18 L230.79,331.48 L231.03,333.74 L231.27,335.96 L231.51,338.12 L231.74,340.23 L231.98,342.27 L232.22,344.25 L232.46,346.16 L232.69,347.99 L232.93,349.74 L233.17,351.41 L233.41,352.98 L233.65,354.46 L233.88,355.85 L234.12,357.13 L234.36,358.31 L234.60,359.38 L234.83,360.34 L235.07,361.19 L235.31,361.93 L235.55,362.54 L235.78,363.05 L236.02,363.43 L236.26,363.69 L236.50,363.83 L236.74,363.85 L236.97,363.75 L237.21,363.53 L237.45,363.19 L237.69,362.73 L237.92,362.15 L238.16,361.45 L238.40,360.64 L238.64,359.71 L238.87,358.68 L239.11,357.53 L239.35,356.28 L239.59,354.93 L239.83,353.48 L240.06,351.94 L240.30,350.31 L240.54,348.58 L240.78,346.78 L241.01,344.90 L241.25,342.94 L241.49,340.92 L241.73,338.83 L241.96,336.68 L242.20,334.48 L242.44,332.24 L242.68,329.95 L242.92,327.63 L243.15,325.28 L243.39,322.91 L243.63,320.51 L243.87,318.11 L244.10,315.70 L244.34,313.29 L244.58,310.89 L244.82,308.50 L245.05,306.13 L245.29,303.78 L245.53,301.46 L245.77,299.18 L246.01,296.95 L246.24,294.76 L246.48,292.62 L246.72,290.54 L246.96,288.53 L247.19,286.59 L247.43,284.72 L247.67,282.92 L247.91,281.22 L248.14,279.60 L248.38,278.07 L248.62,276.63 L248.86,275.30 L249.10,274.07 L249.33,272.94 L249.57,271.93 L249.81,271.02 L250.05,270.23 L250.28,269.55 L250.52,268.99 L250.76,268.55 L251.00,268.23 L251.23,268.02 L251.47,267.94 L251.71,267.98 L251.95,268.15 L252.19,268.43 L252.42,268.83 L252.66,269.35 L252.90,269.99 L253.14,270.74 L253.37,271.61 L253.61,272.59 L253.85,273.68 L254.09,274.88 L254.32,276.18 L254.56,277.58 L254.80,279.08 L255.04,280.67 L255.28,282.35 L255.51,284.11 L255.75,285.95 L255.99,287.87 L256.23,289.86 L256.46,291.92 L256.70,294.04 L256.94,296.21 L257.18,298.43 L257.42,300.70 L257.65,303.00 L257.89,305.34 L258.13,307.70 L258.37,310.09 L258.60,312.49 L258.84,314.90 L259.08,317.31 L259.32,319.71 L259.55,322.11 L259.79,324.49 L260.03,326.85 L260.27,329.18 L260.51,331.48 L260.74,333.74 L260.98,335.96 L261.22,338.12 L261.46,340.23 L261.69,342.27 L261.93,344.25 L262.17,346.16 L262.41,347.99 L262.64,349.74 L262.88,351.41 L263.12,352.98 L263.36,354.46 L263.60,355.85 L263.83,357.13 L264.07,358.31 L264.31,359.38 L264.55,360.34 L264.78,361.19 L265.02,361.93 L265.26,362.54 L265.50,363.05 L265.73,363.43 L265.97,363.69 L266.21,363.83 L266.45,363.85 L266.69,363.75 L266.92,363.53 L267.16,363.19 L267.40,362.73 L267.64,362.15 L267.87,361.45 L268.11,360.64 L268.35,359.71 L268.59,358.68 L268.82,357.53 L269.06,356.28 L269.30,354.93" stroke="#2020ff" stroke-width="1.1"/>
<rect x="30.00" y="314.30" width="3.2" height="3.2" stroke="#6060ff" stroke-opacity="0.9" stroke-width="0.7"/>
<rect x="59.71" y="353.33" width="3.2" height="3.2" stroke="#6060ff" stroke-opacity="0.9" stroke-width="0.7"/>
<rect x="71.60" y="266.34" width="3.2" height="3.2" stroke="#6060ff" stroke-opacity="0.9" stroke-width="0.7"/>
<rect x="83.48" y="352.86" width="3.2" height="3.2" stroke="#6060ff" stroke-opacity="0.9" stroke-width="0.7"/>
<rect x="95.37" y="299.86" width="3.2" height="3.2" stroke="#6060ff" stroke-opacity="0.9" stroke-width="0.7"/>
<rect x="107.25" y="299.10" width="3.2" height="3.2" stroke="#6060ff" stroke-opacity="0.9" stroke-width="0.7"/>
<rect x="119.14" y="353.33" width="3.2" height="3.2" stroke="#6060ff" stroke-opacity="0.9" stroke-width="0.7"/>
<rect x="131.02" y="266.34" width="3.2" height="3.2" stroke="#6060ff" stroke-opacity="0.9" stroke-width="0.7"/>
<rect x="142.91" y="352.86" width="3.2" height="3.2" stroke="#6060ff" stroke-opacity="0.9" stroke-width="0.7"/>
<rect x="154.79" y="299.86" width="3.2" height="3.2" stroke="#6060ff" stroke-opacity="0.9" stroke-width="0.7"/>
<rect x="166.68" y="299.10" width="3.2" height="3.2" stroke="#6060ff" stroke-opacity="0.9" stroke-width="0.7"/>
<rect x="178.56" y="353.33" width="3.2" height="3.2" stroke="#6060ff" stroke-opacity="0.9" stroke-width="0.7"/>
<rect x="190.45" y="266.34" width="3.2" height="3.2" stroke="#6060ff" stroke-opacity="0.9" stroke-width="0.7"/>
<rect x="202.33" y="352.86" width="3.2" height="3.2" stroke="#6060ff" stroke-opacity="0.9" stroke-width="0.7"/>
<rect x="214.22" y="299.86" width="3.2" height="3.2" stroke="#6060ff" stroke-opacity="0.9" stroke-width="0.7"/>
<rect x="226.10" y="299.10" width="3.2" height="3.2" stroke="#6060ff" stroke-opacity="0.9" stroke-width="0.7"/>
<rect x="237.99" y="353.33" width="3.2" height="3.2" stroke="#6060ff" stroke-opacity="0.9" stroke-width="0.7"/>
<rect x="249.87" y="266.34" width="3.2" height="3.2" stroke="#6060ff" stroke-opacity="0.9" stroke-width="0.7"/>
<rect x="261.76" y="352.86" width="3.2" height="3.2" stroke="#6060ff" stroke-opacity="0.9" stroke-width="0.7"/>
</g>
<g font-family="Liberation Sans, Arial, sans-serif" font-size="6.7" fill="#3a3a3a" stroke="#3a3a3a" stroke-width="0.15">
<text x="31.60" y="419.40" text-anchor="middle">0</text>
<text x="55.37" y="419.40" text-anchor="middle">0.2</text>
<text x="79.14" y="419.40" text-anchor="middle">0.4</text>
<text x="102.91" y="419.40" text-anchor="middle">0.6</text>
<text x="126.68" y="419.40" text-anchor="middle">0.8</text>
<text x="150.45" y="419.40" text-anchor="middle">1</text>
<text x="174.22" y="419.40" text-anchor="middle">1.2</text>
<text x="197.99" y="419.40" text-anchor="middle">1.4</text>
<text x="221.76" y="419.40" text-anchor="middle">1.6</text>
<text x="245.53" y="419.40" text-anchor="middle">1.8</text>
<text x="269.30" y="419.40" text-anchor="middle">2</text>
<text x="28.00" y="411.20" text-anchor="end">-1.5</text>
<text x="28.00" y="380.37" text-anchor="end">-1</text>
<text x="28.00" y="349.53" text-anchor="end">-0.5</text>
<text x="28.00" y="318.70" text-anchor="end">0</text>
<text x="28.00" y="287.87" text-anchor="end">0.5</text>
<text x="28.00" y="257.03" text-anchor="end">1</text>
<text x="28.00" y="226.20" text-anchor="end">1.5</text>
</g>
<g font-family="Liberation Sans, Arial, sans-serif" font-size="11" fill="#2a2a2a" stroke="#2a2a2a" stroke-width="0.2">
<text x="150.95" y="433.10" text-anchor="middle" xml:space="preserve">Time  (s)</text>
<text transform="translate(11.00,316.10) rotate(-90)" text-anchor="middle" xml:space="preserve">X  (mm)</text>
</g>
<rect x="190.60" y="230.50" width="71.4" height="36.4" fill="#fff" stroke="#666" stroke-width="0.7"/>
<path d="M193.30,237.30 h16" stroke="#000" stroke-width="3.2" stroke-dasharray="2.7 2.65" fill="none"/>
<path d="M193.30,249.00 h16" stroke="#00ee00" stroke-width="2.3" fill="none"/>
<path d="M193.30,260.80 h16" stroke="#5a5af5" stroke-width="0.8" fill="none"/>
<rect x="199.60" y="259.10" width="3.4" height="3.4" fill="#fff" stroke="#5a5af5" stroke-width="0.7"/>
<g font-family="Liberation Sans, Arial, sans-serif" font-size="8.8" fill="#1a1a1a" stroke="#1a1a1a" stroke-width="0.15">
<text x="211.10" y="240.50">Command</text>
<text x="211.10" y="252.20">Reference</text>
<text x="211.10" y="264.00">Adaptive On</text>
</g>
<rect x="38.80" y="383.60" width="141.30" height="18.80" fill="#fff" stroke="#4a4a4a" stroke-width="1.1"/>
<text transform="translate(49.80,396.40) scale(0.93,1)" font-family="Liberation Sans, Arial, sans-serif" font-weight="bold" font-size="9.3" word-spacing="2" fill="#111" stroke="#111" stroke-width="0.25">Excitation Frequency : 4 Hz</text>
</g>
<g>
<rect x="308.9" y="223.4" width="237.60" height="185.00" fill="none" stroke="#969696" stroke-width="0.8"/>
<path d="M308.90,408.4 v-2.8 M308.90,223.4 v2.8 M332.66,408.4 v-2.8 M332.66,223.4 v2.8 M356.42,408.4 v-2.8 M356.42,223.4 v2.8 M380.18,408.4 v-2.8 M380.18,223.4 v2.8 M403.94,408.4 v-2.8 M403.94,223.4 v2.8 M427.70,408.4 v-2.8 M427.70,223.4 v2.8 M451.46,408.4 v-2.8 M451.46,223.4 v2.8 M475.22,408.4 v-2.8 M475.22,223.4 v2.8 M498.98,408.4 v-2.8 M498.98,223.4 v2.8 M522.74,408.4 v-2.8 M522.74,223.4 v2.8 M546.50,408.4 v-2.8 M546.50,223.4 v2.8 M308.9,408.40 h2.8 M546.5,408.40 h-2.8 M308.9,377.57 h2.8 M546.5,377.57 h-2.8 M308.9,346.73 h2.8 M546.5,346.73 h-2.8 M308.9,315.90 h2.8 M546.5,315.90 h-2.8 M308.9,285.07 h2.8 M546.5,285.07 h-2.8 M308.9,254.23 h2.8 M546.5,254.23 h-2.8 M308.9,223.40 h2.8 M546.5,223.40 h-2.8" stroke="#969696" stroke-width="0.7" fill="none"/>
<clipPath id="c3"><rect x="308.9" y="223.4" width="237.60" height="185.00"/></clipPath>
<g clip-path="url(#c3)" fill="none" stroke-linejoin="round">
<path d="M308.90,315.90 L309.14,309.71 L309.38,303.58 L309.61,297.58 L309.85,291.77 L310.09,286.19 L310.33,280.92 L310.56,276.00 L310.80,271.48 L311.04,267.41 L311.28,263.83 L311.51,260.78 L311.75,258.28 L311.99,256.37 L312.23,255.05 L312.46,254.36 L312.70,254.28 L312.94,254.82 L313.18,255.98 L313.41,257.75 L313.65,260.10 L313.89,263.02 L314.13,266.47 L314.36,270.42 L314.60,274.83 L314.84,279.65 L315.08,284.84 L315.32,290.35 L315.55,296.11 L315.79,302.07 L316.03,308.17 L316.27,314.35 L316.50,320.55 L316.74,326.69 L316.98,332.73 L317.22,338.60 L317.45,344.24 L317.69,349.59 L317.93,354.61 L318.17,359.23 L318.40,363.41 L318.64,367.12 L318.88,370.31 L319.12,372.95 L319.35,375.01 L319.59,376.47 L319.83,377.33 L320.07,377.56 L320.30,377.17 L320.54,376.16 L320.78,374.55 L321.02,372.34 L321.26,369.56 L321.49,366.24 L321.73,362.41 L321.97,358.11 L322.21,353.39 L322.44,348.29 L322.68,342.86 L322.92,337.15 L323.16,331.24 L323.39,325.16 L323.63,319.00 L323.87,312.80 L324.11,306.64 L324.34,300.56 L324.58,294.65 L324.82,288.94 L325.06,283.51 L325.29,278.41 L325.53,273.69 L325.77,269.39 L326.01,265.56 L326.24,262.24 L326.48,259.46 L326.72,257.25 L326.96,255.64 L327.20,254.63 L327.43,254.24 L327.67,254.47 L327.91,255.33 L328.15,256.79 L328.38,258.85 L328.62,261.49 L328.86,264.68 L329.10,268.39 L329.33,272.57 L329.57,277.19 L329.81,282.21 L330.05,287.56 L330.28,293.20 L330.52,299.07 L330.76,305.11 L331.00,311.25 L331.23,317.45 L331.47,323.63 L331.71,329.73 L331.95,335.69 L332.18,341.45 L332.42,346.96 L332.66,352.15 L332.90,356.97 L333.14,361.38 L333.37,365.33 L333.61,368.78 L333.85,371.70 L334.09,374.05 L334.32,375.82 L334.56,376.98 L334.80,377.52 L335.04,377.44 L335.27,376.75 L335.51,375.43 L335.75,373.52 L335.99,371.02 L336.22,367.97 L336.46,364.39 L336.70,360.32 L336.94,355.80 L337.17,350.88 L337.41,345.61 L337.65,340.03 L337.89,334.22 L338.12,328.22 L338.36,322.09 L338.60,315.90 L338.84,309.71 L339.08,303.58 L339.31,297.58 L339.55,291.77 L339.79,286.19 L340.03,280.92 L340.26,276.00 L340.50,271.48 L340.74,267.41 L340.98,263.83 L341.21,260.78 L341.45,258.28 L341.69,256.37 L341.93,255.05 L342.16,254.36 L342.40,254.28 L342.64,254.82 L342.88,255.98 L343.11,257.75 L343.35,260.10 L343.59,263.02 L343.83,266.47 L344.06,270.42 L344.30,274.83 L344.54,279.65 L344.78,284.84 L345.02,290.35 L345.25,296.11 L345.49,302.07 L345.73,308.17 L345.97,314.35 L346.20,320.55 L346.44,326.69 L346.68,332.73 L346.92,338.60 L347.15,344.24 L347.39,349.59 L347.63,354.61 L347.87,359.23 L348.10,363.41 L348.34,367.12 L348.58,370.31 L348.82,372.95 L349.05,375.01 L349.29,376.47 L349.53,377.33 L349.77,377.56 L350.00,377.17 L350.24,376.16 L350.48,374.55 L350.72,372.34 L350.96,369.56 L351.19,366.24 L351.43,362.41 L351.67,358.11 L351.91,353.39 L352.14,348.29 L352.38,342.86 L352.62,337.15 L352.86,331.24 L353.09,325.16 L353.33,319.00 L353.57,312.80 L353.81,306.64 L354.04,300.56 L354.28,294.65 L354.52,288.94 L354.76,283.51 L354.99,278.41 L355.23,273.69 L355.47,269.39 L355.71,265.56 L355.94,262.24 L356.18,259.46 L356.42,257.25 L356.66,255.64 L356.90,254.63 L357.13,254.24 L357.37,254.47 L357.61,255.33 L357.85,256.79 L358.08,258.85 L358.32,261.49 L358.56,264.68 L358.80,268.39 L359.03,272.57 L359.27,277.19 L359.51,282.21 L359.75,287.56 L359.98,293.20 L360.22,299.07 L360.46,305.11 L360.70,311.25 L360.93,317.45 L361.17,323.63 L361.41,329.73 L361.65,335.69 L361.88,341.45 L362.12,346.96 L362.36,352.15 L362.60,356.97 L362.84,361.38 L363.07,365.33 L363.31,368.78 L363.55,371.70 L363.79,374.05 L364.02,375.82 L364.26,376.98 L364.50,377.52 L364.74,377.44 L364.97,376.75 L365.21,375.43 L365.45,373.52 L365.69,371.02 L365.92,367.97 L366.16,364.39 L366.40,360.32 L366.64,355.80 L366.87,350.88 L367.11,345.61 L367.35,340.03 L367.59,334.22 L367.82,328.22 L368.06,322.09 L368.30,315.90 L368.54,309.71 L368.78,303.58 L369.01,297.58 L369.25,291.77 L369.49,286.19 L369.73,280.92 L369.96,276.00 L370.20,271.48 L370.44,267.41 L370.68,263.83 L370.91,260.78 L371.15,258.28 L371.39,256.37 L371.63,255.05 L371.86,254.36 L372.10,254.28 L372.34,254.82 L372.58,255.98 L372.81,257.75 L373.05,260.10 L373.29,263.02 L373.53,266.47 L373.76,270.42 L374.00,274.83 L374.24,279.65 L374.48,284.84 L374.72,290.35 L374.95,296.11 L375.19,302.07 L375.43,308.17 L375.67,314.35 L375.90,320.55 L376.14,326.69 L376.38,332.73 L376.62,338.60 L376.85,344.24 L377.09,349.59 L377.33,354.61 L377.57,359.23 L377.80,363.41 L378.04,367.12 L378.28,370.31 L378.52,372.95 L378.75,375.01 L378.99,376.47 L379.23,377.33 L379.47,377.56 L379.70,377.17 L379.94,376.16 L380.18,374.55 L380.42,372.34 L380.66,369.56 L380.89,366.24 L381.13,362.41 L381.37,358.11 L381.61,353.39 L381.84,348.29 L382.08,342.86 L382.32,337.15 L382.56,331.24 L382.79,325.16 L383.03,319.00 L383.27,312.80 L383.51,306.64 L383.74,300.56 L383.98,294.65 L384.22,288.94 L384.46,283.51 L384.69,278.41 L384.93,273.69 L385.17,269.39 L385.41,265.56 L385.64,262.24 L385.88,259.46 L386.12,257.25 L386.36,255.64 L386.60,254.63 L386.83,254.24 L387.07,254.47 L387.31,255.33 L387.55,256.79 L387.78,258.85 L388.02,261.49 L388.26,264.68 L388.50,268.39 L388.73,272.57 L388.97,277.19 L389.21,282.21 L389.45,287.56 L389.68,293.20 L389.92,299.07 L390.16,305.11 L390.40,311.25 L390.63,317.45 L390.87,323.63 L391.11,329.73 L391.35,335.69 L391.58,341.45 L391.82,346.96 L392.06,352.15 L392.30,356.97 L392.54,361.38 L392.77,365.33 L393.01,368.78 L393.25,371.70 L393.49,374.05 L393.72,375.82 L393.96,376.98 L394.20,377.52 L394.44,377.44 L394.67,376.75 L394.91,375.43 L395.15,373.52 L395.39,371.02 L395.62,367.97 L395.86,364.39 L396.10,360.32 L396.34,355.80 L396.57,350.88 L396.81,345.61 L397.05,340.03 L397.29,334.22 L397.52,328.22 L397.76,322.09 L398.00,315.90 L398.24,309.71 L398.48,303.58 L398.71,297.58 L398.95,291.77 L399.19,286.19 L399.43,280.92 L399.66,276.00 L399.90,271.48 L400.14,267.41 L400.38,263.83 L400.61,260.78 L400.85,258.28 L401.09,256.37 L401.33,255.05 L401.56,254.36 L401.80,254.28 L402.04,254.82 L402.28,255.98 L402.51,257.75 L402.75,260.10 L402.99,263.02 L403.23,266.47 L403.46,270.42 L403.70,274.83 L403.94,279.65 L404.18,284.84 L404.42,290.35 L404.65,296.11 L404.89,302.07 L405.13,308.17 L405.37,314.35 L405.60,320.55 L405.84,326.69 L406.08,332.73 L406.32,338.60 L406.55,344.24 L406.79,349.59 L407.03,354.61 L407.27,359.23 L407.50,363.41 L407.74,367.12 L407.98,370.31 L408.22,372.95 L408.45,375.01 L408.69,376.47 L408.93,377.33 L409.17,377.56 L409.40,377.17 L409.64,376.16 L409.88,374.55 L410.12,372.34 L410.36,369.56 L410.59,366.24 L410.83,362.41 L411.07,358.11 L411.31,353.39 L411.54,348.29 L411.78,342.86 L412.02,337.15 L412.26,331.24 L412.49,325.16 L412.73,319.00 L412.97,312.80 L413.21,306.64 L413.44,300.56 L413.68,294.65 L413.92,288.94 L414.16,283.51 L414.39,278.41 L414.63,273.69 L414.87,269.39 L415.11,265.56 L415.34,262.24 L415.58,259.46 L415.82,257.25 L416.06,255.64 L416.30,254.63 L416.53,254.24 L416.77,254.47 L417.01,255.33 L417.25,256.79 L417.48,258.85 L417.72,261.49 L417.96,264.68 L418.20,268.39 L418.43,272.57 L418.67,277.19 L418.91,282.21 L419.15,287.56 L419.38,293.20 L419.62,299.07 L419.86,305.11 L420.10,311.25 L420.33,317.45 L420.57,323.63 L420.81,329.73 L421.05,335.69 L421.28,341.45 L421.52,346.96 L421.76,352.15 L422.00,356.97 L422.24,361.38 L422.47,365.33 L422.71,368.78 L422.95,371.70 L423.19,374.05 L423.42,375.82 L423.66,376.98 L423.90,377.52 L424.14,377.44 L424.37,376.75 L424.61,375.43 L424.85,373.52 L425.09,371.02 L425.32,367.97 L425.56,364.39 L425.80,360.32 L426.04,355.80 L426.27,350.88 L426.51,345.61 L426.75,340.03 L426.99,334.22 L427.22,328.22 L427.46,322.09 L427.70,315.90 L427.94,309.71 L428.18,303.58 L428.41,297.58 L428.65,291.77 L428.89,286.19 L429.13,280.92 L429.36,276.00 L429.60,271.48 L429.84,267.41 L430.08,263.83 L430.31,260.78 L430.55,258.28 L430.79,256.37 L431.03,255.05 L431.26,254.36 L431.50,254.28 L431.74,254.82 L431.98,255.98 L432.21,257.75 L432.45,260.10 L432.69,263.02 L432.93,266.47 L433.16,270.42 L433.40,274.83 L433.64,279.65 L433.88,284.84 L434.12,290.35 L434.35,296.11 L434.59,302.07 L434.83,308.17 L435.07,314.35 L435.30,320.55 L435.54,326.69 L435.78,332.73 L436.02,338.60 L436.25,344.24 L436.49,349.59 L436.73,354.61 L436.97,359.23 L437.20,363.41 L437.44,367.12 L437.68,370.31 L437.92,372.95 L438.15,375.01 L438.39,376.47 L438.63,377.33 L438.87,377.56 L439.10,377.17 L439.34,376.16 L439.58,374.55 L439.82,372.34 L440.06,369.56 L440.29,366.24 L440.53,362.41 L440.77,358.11 L441.01,353.39 L441.24,348.29 L441.48,342.86 L441.72,337.15 L441.96,331.24 L442.19,325.16 L442.43,319.00 L442.67,312.80 L442.91,306.64 L443.14,300.56 L443.38,294.65 L443.62,288.94 L443.86,283.51 L444.09,278.41 L444.33,273.69 L444.57,269.39 L444.81,265.56 L445.04,262.24 L445.28,259.46 L445.52,257.25 L445.76,255.64 L446.00,254.63 L446.23,254.24 L446.47,254.47 L446.71,255.33 L446.95,256.79 L447.18,258.85 L447.42,261.49 L447.66,264.68 L447.90,268.39 L448.13,272.57 L448.37,277.19 L448.61,282.21 L448.85,287.56 L449.08,293.20 L449.32,299.07 L449.56,305.11 L449.80,311.25 L450.03,317.45 L450.27,323.63 L450.51,329.73 L450.75,335.69 L450.98,341.45 L451.22,346.96 L451.46,352.15 L451.70,356.97 L451.94,361.38 L452.17,365.33 L452.41,368.78 L452.65,371.70 L452.89,374.05 L453.12,375.82 L453.36,376.98 L453.60,377.52 L453.84,377.44 L454.07,376.75 L454.31,375.43 L454.55,373.52 L454.79,371.02 L455.02,367.97 L455.26,364.39 L455.50,360.32 L455.74,355.80 L455.97,350.88 L456.21,345.61 L456.45,340.03 L456.69,334.22 L456.92,328.22 L457.16,322.09 L457.40,315.90 L457.64,309.71 L457.88,303.58 L458.11,297.58 L458.35,291.77 L458.59,286.19 L458.83,280.92 L459.06,276.00 L459.30,271.48 L459.54,267.41 L459.78,263.83 L460.01,260.78 L460.25,258.28 L460.49,256.37 L460.73,255.05 L460.96,254.36 L461.20,254.28 L461.44,254.82 L461.68,255.98 L461.91,257.75 L462.15,260.10 L462.39,263.02 L462.63,266.47 L462.86,270.42 L463.10,274.83 L463.34,279.65 L463.58,284.84 L463.82,290.35 L464.05,296.11 L464.29,302.07 L464.53,308.17 L464.77,314.35 L465.00,320.55 L465.24,326.69 L465.48,332.73 L465.72,338.60 L465.95,344.24 L466.19,349.59 L466.43,354.61 L466.67,359.23 L466.90,363.41 L467.14,367.12 L467.38,370.31 L467.62,372.95 L467.85,375.01 L468.09,376.47 L468.33,377.33 L468.57,377.56 L468.80,377.17 L469.04,376.16 L469.28,374.55 L469.52,372.34 L469.76,369.56 L469.99,366.24 L470.23,362.41 L470.47,358.11 L470.71,353.39 L470.94,348.29 L471.18,342.86 L471.42,337.15 L471.66,331.24 L471.89,325.16 L472.13,319.00 L472.37,312.80 L472.61,306.64 L472.84,300.56 L473.08,294.65 L473.32,288.94 L473.56,283.51 L473.79,278.41 L474.03,273.69 L474.27,269.39 L474.51,265.56 L474.74,262.24 L474.98,259.46 L475.22,257.25 L475.46,255.64 L475.70,254.63 L475.93,254.24 L476.17,254.47 L476.41,255.33 L476.65,256.79 L476.88,258.85 L477.12,261.49 L477.36,264.68 L477.60,268.39 L477.83,272.57 L478.07,277.19 L478.31,282.21 L478.55,287.56 L478.78,293.20 L479.02,299.07 L479.26,305.11 L479.50,311.25 L479.73,317.45 L479.97,323.63 L480.21,329.73 L480.45,335.69 L480.68,341.45 L480.92,346.96 L481.16,352.15 L481.40,356.97 L481.64,361.38 L481.87,365.33 L482.11,368.78 L482.35,371.70 L482.59,374.05 L482.82,375.82 L483.06,376.98 L483.30,377.52 L483.54,377.44 L483.77,376.75 L484.01,375.43 L484.25,373.52 L484.49,371.02 L484.72,367.97 L484.96,364.39 L485.20,360.32 L485.44,355.80 L485.67,350.88 L485.91,345.61 L486.15,340.03 L486.39,334.22 L486.62,328.22 L486.86,322.09 L487.10,315.90 L487.34,309.71 L487.58,303.58 L487.81,297.58 L488.05,291.77 L488.29,286.19 L488.53,280.92 L488.76,276.00 L489.00,271.48 L489.24,267.41 L489.48,263.83 L489.71,260.78 L489.95,258.28 L490.19,256.37 L490.43,255.05 L490.66,254.36 L490.90,254.28 L491.14,254.82 L491.38,255.98 L491.61,257.75 L491.85,260.10 L492.09,263.02 L492.33,266.47 L492.56,270.42 L492.80,274.83 L493.04,279.65 L493.28,284.84 L493.52,290.35 L493.75,296.11 L493.99,302.07 L494.23,308.17 L494.47,314.35 L494.70,320.55 L494.94,326.69 L495.18,332.73 L495.42,338.60 L495.65,344.24 L495.89,349.59 L496.13,354.61 L496.37,359.23 L496.60,363.41 L496.84,367.12 L497.08,370.31 L497.32,372.95 L497.55,375.01 L497.79,376.47 L498.03,377.33 L498.27,377.56 L498.50,377.17 L498.74,376.16 L498.98,374.55 L499.22,372.34 L499.46,369.56 L499.69,366.24 L499.93,362.41 L500.17,358.11 L500.41,353.39 L500.64,348.29 L500.88,342.86 L501.12,337.15 L501.36,331.24 L501.59,325.16 L501.83,319.00 L502.07,312.80 L502.31,306.64 L502.54,300.56 L502.78,294.65 L503.02,288.94 L503.26,283.51 L503.49,278.41 L503.73,273.69 L503.97,269.39 L504.21,265.56 L504.44,262.24 L504.68,259.46 L504.92,257.25 L505.16,255.64 L505.40,254.63 L505.63,254.24 L505.87,254.47 L506.11,255.33 L506.35,256.79 L506.58,258.85 L506.82,261.49 L507.06,264.68 L507.30,268.39 L507.53,272.57 L507.77,277.19 L508.01,282.21 L508.25,287.56 L508.48,293.20 L508.72,299.07 L508.96,305.11 L509.20,311.25 L509.43,317.45 L509.67,323.63 L509.91,329.73 L510.15,335.69 L510.38,341.45 L510.62,346.96 L510.86,352.15 L511.10,356.97 L511.34,361.38 L511.57,365.33 L511.81,368.78 L512.05,371.70 L512.29,374.05 L512.52,375.82 L512.76,376.98 L513.00,377.52 L513.24,377.44 L513.47,376.75 L513.71,375.43 L513.95,373.52 L514.19,371.02 L514.42,367.97 L514.66,364.39 L514.90,360.32 L515.14,355.80 L515.37,350.88 L515.61,345.61 L515.85,340.03 L516.09,334.22 L516.32,328.22 L516.56,322.09 L516.80,315.90 L517.04,309.71 L517.28,303.58 L517.51,297.58 L517.75,291.77 L517.99,286.19 L518.23,280.92 L518.46,276.00 L518.70,271.48 L518.94,267.41 L519.18,263.83 L519.41,260.78 L519.65,258.28 L519.89,256.37 L520.13,255.05 L520.36,254.36 L520.60,254.28 L520.84,254.82 L521.08,255.98 L521.31,257.75 L521.55,260.10 L521.79,263.02 L522.03,266.47 L522.26,270.42 L522.50,274.83 L522.74,279.65 L522.98,284.84 L523.22,290.35 L523.45,296.11 L523.69,302.07 L523.93,308.17 L524.17,314.35 L524.40,320.55 L524.64,326.69 L524.88,332.73 L525.12,338.60 L525.35,344.24 L525.59,349.59 L525.83,354.61 L526.07,359.23 L526.30,363.41 L526.54,367.12 L526.78,370.31 L527.02,372.95 L527.25,375.01 L527.49,376.47 L527.73,377.33 L527.97,377.56 L528.20,377.17 L528.44,376.16 L528.68,374.55 L528.92,372.34 L529.16,369.56 L529.39,366.24 L529.63,362.41 L529.87,358.11 L530.11,353.39 L530.34,348.29 L530.58,342.86 L530.82,337.15 L531.06,331.24 L531.29,325.16 L531.53,319.00 L531.77,312.80 L532.01,306.64 L532.24,300.56 L532.48,294.65 L532.72,288.94 L532.96,283.51 L533.19,278.41 L533.43,273.69 L533.67,269.39 L533.91,265.56 L534.14,262.24 L534.38,259.46 L534.62,257.25 L534.86,255.64 L535.10,254.63 L535.33,254.24 L535.57,254.47 L535.81,255.33 L536.05,256.79 L536.28,258.85 L536.52,261.49 L536.76,264.68 L537.00,268.39 L537.23,272.57 L537.47,277.19 L537.71,282.21 L537.95,287.56 L538.18,293.20 L538.42,299.07 L538.66,305.11 L538.90,311.25 L539.13,317.45 L539.37,323.63 L539.61,329.73 L539.85,335.69 L540.08,341.45 L540.32,346.96 L540.56,352.15 L540.80,356.97 L541.04,361.38 L541.27,365.33 L541.51,368.78 L541.75,371.70 L541.99,374.05 L542.22,375.82 L542.46,376.98 L542.70,377.52 L542.94,377.44 L543.17,376.75 L543.41,375.43 L543.65,373.52 L543.89,371.02 L544.12,367.97 L544.36,364.39 L544.60,360.32 L544.84,355.80 L545.07,350.88 L545.31,345.61 L545.55,340.03 L545.79,334.22 L546.02,328.22 L546.26,322.09 L546.50,315.90" stroke="#000" stroke-width="2.9" stroke-dasharray="2.5 3.0" stroke-dashoffset="1.3"/>
<path d="M308.90,315.90 L309.14,315.89 L309.38,315.78 L309.61,315.52 L309.85,315.05 L310.09,314.33 L310.33,313.34 L310.56,312.07 L310.80,310.51 L311.04,308.67 L311.28,306.58 L311.51,304.27 L311.75,301.75 L311.99,299.07 L312.23,296.28 L312.46,293.40 L312.70,290.50 L312.94,287.61 L313.18,284.78 L313.41,282.06 L313.65,279.49 L313.89,277.12 L314.13,274.99 L314.36,273.12 L314.60,271.57 L314.84,270.34 L315.08,269.48 L315.32,269.00 L315.55,268.91 L315.79,269.24 L316.03,269.97 L316.27,271.13 L316.50,272.69 L316.74,274.65 L316.98,277.00 L317.22,279.72 L317.45,282.78 L317.69,286.17 L317.93,289.84 L318.17,293.77 L318.40,297.91 L318.64,302.24 L318.88,306.70 L319.12,311.25 L319.35,315.85 L319.59,320.45 L319.83,325.01 L320.07,329.48 L320.30,333.82 L320.54,337.98 L320.78,341.92 L321.02,345.60 L321.26,348.99 L321.49,352.05 L321.73,354.75 L321.97,357.06 L322.21,358.96 L322.44,360.42 L322.68,361.44 L322.92,362.01 L323.16,362.11 L323.39,361.75 L323.63,360.93 L323.87,359.65 L324.11,357.94 L324.34,355.80 L324.58,353.26 L324.82,350.35 L325.06,347.09 L325.29,343.52 L325.53,339.67 L325.77,335.57 L326.01,331.29 L326.24,326.84 L326.48,322.29 L326.72,317.67 L326.96,313.04 L327.20,308.43 L327.43,303.90 L327.67,299.50 L327.91,295.25 L328.15,291.22 L328.38,287.44 L328.62,283.94 L328.86,280.76 L329.10,277.94 L329.33,275.51 L329.57,273.48 L329.81,271.88 L330.05,270.72 L330.28,270.03 L330.52,269.79 L330.76,270.02 L331.00,270.71 L331.23,271.86 L331.47,273.45 L331.71,275.48 L331.95,277.91 L332.18,280.72 L332.42,283.89 L332.66,287.38 L332.90,291.16 L333.14,295.19 L333.37,299.43 L333.61,303.84 L333.85,308.36 L334.09,312.97 L334.32,317.60 L334.56,322.21 L334.80,326.77 L335.04,331.21 L335.27,335.50 L335.51,339.58 L335.75,343.44 L335.99,347.01 L336.22,350.27 L336.46,353.18 L336.70,355.71 L336.94,357.84 L337.17,359.55 L337.41,360.82 L337.65,361.64 L337.89,361.99 L338.12,361.88 L338.36,361.30 L338.60,360.27 L338.84,358.78 L339.08,356.87 L339.31,354.54 L339.55,351.82 L339.79,348.73 L340.03,345.32 L340.26,341.61 L340.50,337.64 L340.74,333.45 L340.98,329.08 L341.21,324.58 L341.45,319.99 L341.69,315.36 L341.93,310.74 L342.16,306.16 L342.40,301.69 L342.64,297.36 L342.88,293.22 L343.11,289.30 L343.35,285.66 L343.59,282.32 L343.83,279.32 L344.06,276.69 L344.30,274.45 L344.54,272.63 L344.78,271.25 L345.02,270.32 L345.25,269.86 L345.49,269.85 L345.73,270.31 L345.97,271.23 L346.20,272.61 L346.44,274.42 L346.68,276.64 L346.92,279.27 L347.15,282.26 L347.39,285.60 L347.63,289.24 L347.87,293.15 L348.10,297.29 L348.34,301.62 L348.58,306.09 L348.82,310.66 L349.05,315.28 L349.29,319.91 L349.53,324.50 L349.77,329.00 L350.00,333.37 L350.24,337.57 L350.48,341.54 L350.72,345.26 L350.96,348.68 L351.19,351.77 L351.43,354.49 L351.67,356.83 L351.91,358.75 L352.14,360.24 L352.38,361.29 L352.62,361.87 L352.86,361.99 L353.09,361.65 L353.33,360.84 L353.57,359.58 L353.81,357.88 L354.04,355.75 L354.28,353.22 L354.52,350.32 L354.76,347.06 L354.99,343.50 L355.23,339.65 L355.47,335.57 L355.71,331.28 L355.94,326.84 L356.18,322.29 L356.42,317.68 L356.66,313.04 L356.90,308.44 L357.13,303.91 L357.37,299.50 L357.61,295.26 L357.85,291.23 L358.08,287.44 L358.32,283.95 L358.56,280.77 L358.80,277.95 L359.03,275.52 L359.27,273.49 L359.51,271.89 L359.75,270.73 L359.98,270.03 L360.22,269.79 L360.46,270.02 L360.70,270.72 L360.93,271.86 L361.17,273.46 L361.41,275.48 L361.65,277.91 L361.88,280.72 L362.12,283.89 L362.36,287.38 L362.60,291.16 L362.84,295.19 L363.07,299.43 L363.31,303.84 L363.55,308.36 L363.79,312.97 L364.02,317.60 L364.26,322.21 L364.50,326.77 L364.74,331.21 L364.97,335.50 L365.21,339.59 L365.45,343.44 L365.69,347.01 L365.92,350.27 L366.16,353.18 L366.40,355.71 L366.64,357.84 L366.87,359.55 L367.11,360.82 L367.35,361.64 L367.59,361.99 L367.82,361.88 L368.06,361.30 L368.30,360.26 L368.54,358.78 L368.78,356.87 L369.01,354.54 L369.25,351.82 L369.49,348.73 L369.73,345.32 L369.96,341.61 L370.20,337.64 L370.44,333.45 L370.68,329.08 L370.91,324.58 L371.15,319.99 L371.39,315.36 L371.63,310.74 L371.86,306.16 L372.10,301.69 L372.34,297.36 L372.58,293.22 L372.81,289.30 L373.05,285.66 L373.29,282.32 L373.53,279.32 L373.76,276.69 L374.00,274.45 L374.24,272.63 L374.48,271.25 L374.72,270.32 L374.95,269.86 L375.19,269.85 L375.43,270.31 L375.67,271.23 L375.90,272.61 L376.14,274.42 L376.38,276.64 L376.62,279.27 L376.85,282.26 L377.09,285.60 L377.33,289.24 L377.57,293.15 L377.80,297.29 L378.04,301.62 L378.28,306.09 L378.52,310.66 L378.75,315.28 L378.99,319.91 L379.23,324.50 L379.47,329.00 L379.70,333.37 L379.94,337.57 L380.18,341.54 L380.42,345.26 L380.66,348.68 L380.89,351.77 L381.13,354.49 L381.37,356.83 L381.61,358.75 L381.84,360.24 L382.08,361.29 L382.32,361.87 L382.56,361.99 L382.79,361.65 L383.03,360.84 L383.27,359.58 L383.51,357.88 L383.74,355.75 L383.98,353.22 L384.22,350.32 L384.46,347.06 L384.69,343.50 L384.93,339.65 L385.17,335.57 L385.41,331.28 L385.64,326.84 L385.88,322.29 L386.12,317.68 L386.36,313.04 L386.60,308.44 L386.83,303.91 L387.07,299.50 L387.31,295.26 L387.55,291.23 L387.78,287.44 L388.02,283.95 L388.26,280.77 L388.50,277.95 L388.73,275.52 L388.97,273.49 L389.21,271.89 L389.45,270.73 L389.68,270.03 L389.92,269.79 L390.16,270.02 L390.40,270.72 L390.63,271.86 L390.87,273.46 L391.11,275.48 L391.35,277.91 L391.58,280.72 L391.82,283.89 L392.06,287.38 L392.30,291.16 L392.54,295.19 L392.77,299.43 L393.01,303.84 L393.25,308.36 L393.49,312.97 L393.72,317.60 L393.96,322.21 L394.20,326.77 L394.44,331.21 L394.67,335.50 L394.91,339.59 L395.15,343.44 L395.39,347.01 L395.62,350.27 L395.86,353.18 L396.10,355.71 L396.34,357.84 L396.57,359.55 L396.81,360.82 L397.05,361.64 L397.29,361.99 L397.52,361.88 L397.76,361.30 L398.00,360.26 L398.24,358.78 L398.48,356.87 L398.71,354.54 L398.95,351.82 L399.19,348.73 L399.43,345.32 L399.66,341.61 L399.90,337.64 L400.14,333.45 L400.38,329.08 L400.61,324.58 L400.85,319.99 L401.09,315.36 L401.33,310.74 L401.56,306.16 L401.80,301.69 L402.04,297.36 L402.28,293.22 L402.51,289.30 L402.75,285.66 L402.99,282.32 L403.23,279.32 L403.46,276.69 L403.70,274.45 L403.94,272.63 L404.18,271.25 L404.42,270.32 L404.65,269.86 L404.89,269.85 L405.13,270.31 L405.37,271.23 L405.60,272.61 L405.84,274.42 L406.08,276.64 L406.32,279.27 L406.55,282.26 L406.79,285.60 L407.03,289.24 L407.27,293.15 L407.50,297.29 L407.74,301.62 L407.98,306.09 L408.22,310.66 L408.45,315.28 L408.69,319.91 L408.93,324.50 L409.17,329.00 L409.40,333.37 L409.64,337.57 L409.88,341.54 L410.12,345.26 L410.36,348.68 L410.59,351.77 L410.83,354.49 L411.07,356.83 L411.31,358.75 L411.54,360.24 L411.78,361.29 L412.02,361.87 L412.26,361.99 L412.49,361.65 L412.73,360.84 L412.97,359.58 L413.21,357.88 L413.44,355.75 L413.68,353.22 L413.92,350.32 L414.16,347.06 L414.39,343.50 L414.63,339.65 L414.87,335.57 L415.11,331.28 L415.34,326.84 L415.58,322.29 L415.82,317.68 L416.06,313.04 L416.30,308.44 L416.53,303.91 L416.77,299.50 L417.01,295.26 L417.25,291.23 L417.48,287.44 L417.72,283.95 L417.96,280.77 L418.20,277.95 L418.43,275.52 L418.67,273.49 L418.91,271.89 L419.15,270.73 L419.38,270.03 L419.62,269.79 L419.86,270.02 L420.10,270.72 L420.33,271.86 L420.57,273.46 L420.81,275.48 L421.05,277.91 L421.28,280.72 L421.52,283.89 L421.76,287.38 L422.00,291.16 L422.24,295.19 L422.47,299.43 L422.71,303.84 L422.95,308.36 L423.19,312.97 L423.42,317.60 L423.66,322.21 L423.90,326.77 L424.14,331.21 L424.37,335.50 L424.61,339.59 L424.85,343.44 L425.09,347.01 L425.32,350.27 L425.56,353.18 L425.80,355.71 L426.04,357.84 L426.27,359.55 L426.51,360.82 L426.75,361.64 L426.99,361.99 L427.22,361.88 L427.46,361.30 L427.70,360.26 L427.94,358.78 L428.18,356.87 L428.41,354.54 L428.65,351.82 L428.89,348.73 L429.13,345.32 L429.36,341.61 L429.60,337.64 L429.84,333.45 L430.08,329.08 L430.31,324.58 L430.55,319.99 L430.79,315.36 L431.03,310.74 L431.26,306.16 L431.50,301.69 L431.74,297.36 L431.98,293.22 L432.21,289.30 L432.45,285.66 L432.69,282.32 L432.93,279.32 L433.16,276.69 L433.40,274.45 L433.64,272.63 L433.88,271.25 L434.12,270.32 L434.35,269.86 L434.59,269.85 L434.83,270.31 L435.07,271.23 L435.30,272.61 L435.54,274.42 L435.78,276.64 L436.02,279.27 L436.25,282.26 L436.49,285.60 L436.73,289.24 L436.97,293.15 L437.20,297.29 L437.44,301.62 L437.68,306.09 L437.92,310.66 L438.15,315.28 L438.39,319.91 L438.63,324.50 L438.87,329.00 L439.10,333.37 L439.34,337.57 L439.58,341.54 L439.82,345.26 L440.06,348.68 L440.29,351.77 L440.53,354.49 L440.77,356.83 L441.01,358.75 L441.24,360.24 L441.48,361.29 L441.72,361.87 L441.96,361.99 L442.19,361.65 L442.43,360.84 L442.67,359.58 L442.91,357.88 L443.14,355.75 L443.38,353.22 L443.62,350.32 L443.86,347.06 L444.09,343.50 L444.33,339.65 L444.57,335.57 L444.81,331.28 L445.04,326.84 L445.28,322.29 L445.52,317.68 L445.76,313.04 L446.00,308.44 L446.23,303.91 L446.47,299.50 L446.71,295.26 L446.95,291.23 L447.18,287.44 L447.42,283.95 L447.66,280.77 L447.90,277.95 L448.13,275.52 L448.37,273.49 L448.61,271.89 L448.85,270.73 L449.08,270.03 L449.32,269.79 L449.56,270.02 L449.80,270.72 L450.03,271.86 L450.27,273.46 L450.51,275.48 L450.75,277.91 L450.98,280.72 L451.22,283.89 L451.46,287.38 L451.70,291.16 L451.94,295.19 L452.17,299.43 L452.41,303.84 L452.65,308.36 L452.89,312.97 L453.12,317.60 L453.36,322.21 L453.60,326.77 L453.84,331.21 L454.07,335.50 L454.31,339.59 L454.55,343.44 L454.79,347.01 L455.02,350.27 L455.26,353.18 L455.50,355.71 L455.74,357.84 L455.97,359.55 L456.21,360.82 L456.45,361.64 L456.69,361.99 L456.92,361.88 L457.16,361.30 L457.40,360.26 L457.64,358.78 L457.88,356.87 L458.11,354.54 L458.35,351.82 L458.59,348.73 L458.83,345.32 L459.06,341.61 L459.30,337.64 L459.54,333.45 L459.78,329.08 L460.01,324.58 L460.25,319.99 L460.49,315.36 L460.73,310.74 L460.96,306.16 L461.20,301.69 L461.44,297.36 L461.68,293.22 L461.91,289.30 L462.15,285.66 L462.39,282.32 L462.63,279.32 L462.86,276.69 L463.10,274.45 L463.34,272.63 L463.58,271.25 L463.82,270.32 L464.05,269.86 L464.29,269.85 L464.53,270.31 L464.77,271.23 L465.00,272.61 L465.24,274.42 L465.48,276.64 L465.72,279.27 L465.95,282.26 L466.19,285.60 L466.43,289.24 L466.67,293.15 L466.90,297.29 L467.14,301.62 L467.38,306.09 L467.62,310.66 L467.85,315.28 L468.09,319.91 L468.33,324.50 L468.57,329.00 L468.80,333.37 L469.04,337.57 L469.28,341.54 L469.52,345.26 L469.76,348.68 L469.99,351.77 L470.23,354.49 L470.47,356.83 L470.71,358.75 L470.94,360.24 L471.18,361.29 L471.42,361.87 L471.66,361.99 L471.89,361.65 L472.13,360.84 L472.37,359.58 L472.61,357.88 L472.84,355.75 L473.08,353.22 L473.32,350.32 L473.56,347.06 L473.79,343.50 L474.03,339.65 L474.27,335.57 L474.51,331.28 L474.74,326.84 L474.98,322.29 L475.22,317.68 L475.46,313.04 L475.70,308.44 L475.93,303.91 L476.17,299.50 L476.41,295.26 L476.65,291.23 L476.88,287.44 L477.12,283.95 L477.36,280.77 L477.60,277.95 L477.83,275.52 L478.07,273.49 L478.31,271.89 L478.55,270.73 L478.78,270.03 L479.02,269.79 L479.26,270.02 L479.50,270.72 L479.73,271.86 L479.97,273.46 L480.21,275.48 L480.45,277.91 L480.68,280.72 L480.92,283.89 L481.16,287.38 L481.40,291.16 L481.64,295.19 L481.87,299.43 L482.11,303.84 L482.35,308.36 L482.59,312.97 L482.82,317.60 L483.06,322.21 L483.30,326.77 L483.54,331.21 L483.77,335.50 L484.01,339.59 L484.25,343.44 L484.49,347.01 L484.72,350.27 L484.96,353.18 L485.20,355.71 L485.44,357.84 L485.67,359.55 L485.91,360.82 L486.15,361.64 L486.39,361.99 L486.62,361.88 L486.86,361.30 L487.10,360.26 L487.34,358.78 L487.58,356.87 L487.81,354.54 L488.05,351.82 L488.29,348.73 L488.53,345.32 L488.76,341.61 L489.00,337.64 L489.24,333.45 L489.48,329.08 L489.71,324.58 L489.95,319.99 L490.19,315.36 L490.43,310.74 L490.66,306.16 L490.90,301.69 L491.14,297.36 L491.38,293.22 L491.61,289.30 L491.85,285.66 L492.09,282.32 L492.33,279.32 L492.56,276.69 L492.80,274.45 L493.04,272.63 L493.28,271.25 L493.52,270.32 L493.75,269.86 L493.99,269.85 L494.23,270.31 L494.47,271.23 L494.70,272.61 L494.94,274.42 L495.18,276.64 L495.42,279.27 L495.65,282.26 L495.89,285.60 L496.13,289.24 L496.37,293.15 L496.60,297.29 L496.84,301.62 L497.08,306.09 L497.32,310.66 L497.55,315.28 L497.79,319.91 L498.03,324.50 L498.27,329.00 L498.50,333.37 L498.74,337.57 L498.98,341.54 L499.22,345.26 L499.46,348.68 L499.69,351.77 L499.93,354.49 L500.17,356.83 L500.41,358.75 L500.64,360.24 L500.88,361.29 L501.12,361.87 L501.36,361.99 L501.59,361.65 L501.83,360.84 L502.07,359.58 L502.31,357.88 L502.54,355.75 L502.78,353.22 L503.02,350.32 L503.26,347.06 L503.49,343.50 L503.73,339.65 L503.97,335.57 L504.21,331.28 L504.44,326.84 L504.68,322.29 L504.92,317.68 L505.16,313.04 L505.40,308.44 L505.63,303.91 L505.87,299.50 L506.11,295.26 L506.35,291.23 L506.58,287.44 L506.82,283.95 L507.06,280.77 L507.30,277.95 L507.53,275.52 L507.77,273.49 L508.01,271.89 L508.25,270.73 L508.48,270.03 L508.72,269.79 L508.96,270.02 L509.20,270.72 L509.43,271.86 L509.67,273.46 L509.91,275.48 L510.15,277.91 L510.38,280.72 L510.62,283.89 L510.86,287.38 L511.10,291.16 L511.34,295.19 L511.57,299.43 L511.81,303.84 L512.05,308.36 L512.29,312.97 L512.52,317.60 L512.76,322.21 L513.00,326.77 L513.24,331.21 L513.47,335.50 L513.71,339.59 L513.95,343.44 L514.19,347.01 L514.42,350.27 L514.66,353.18 L514.90,355.71 L515.14,357.84 L515.37,359.55 L515.61,360.82 L515.85,361.64 L516.09,361.99 L516.32,361.88 L516.56,361.30 L516.80,360.26 L517.04,358.78 L517.28,356.87 L517.51,354.54 L517.75,351.82 L517.99,348.73 L518.23,345.32 L518.46,341.61 L518.70,337.64 L518.94,333.45 L519.18,329.08 L519.41,324.58 L519.65,319.99 L519.89,315.36 L520.13,310.74 L520.36,306.16 L520.60,301.69 L520.84,297.36 L521.08,293.22 L521.31,289.30 L521.55,285.66 L521.79,282.32 L522.03,279.32 L522.26,276.69 L522.50,274.45 L522.74,272.63 L522.98,271.25 L523.22,270.32 L523.45,269.86 L523.69,269.85 L523.93,270.31 L524.17,271.23 L524.40,272.61 L524.64,274.42 L524.88,276.64 L525.12,279.27 L525.35,282.26 L525.59,285.60 L525.83,289.24 L526.07,293.15 L526.30,297.29 L526.54,301.62 L526.78,306.09 L527.02,310.66 L527.25,315.28 L527.49,319.91 L527.73,324.50 L527.97,329.00 L528.20,333.37 L528.44,337.57 L528.68,341.54 L528.92,345.26 L529.16,348.68 L529.39,351.77 L529.63,354.49 L529.87,356.83 L530.11,358.75 L530.34,360.24 L530.58,361.29 L530.82,361.87 L531.06,361.99 L531.29,361.65 L531.53,360.84 L531.77,359.58 L532.01,357.88 L532.24,355.75 L532.48,353.22 L532.72,350.32 L532.96,347.06 L533.19,343.50 L533.43,339.65 L533.67,335.57 L533.91,331.28 L534.14,326.84 L534.38,322.29 L534.62,317.68 L534.86,313.04 L535.10,308.44 L535.33,303.91 L535.57,299.50 L535.81,295.26 L536.05,291.23 L536.28,287.44 L536.52,283.95 L536.76,280.77 L537.00,277.95 L537.23,275.52 L537.47,273.49 L537.71,271.89 L537.95,270.73 L538.18,270.03 L538.42,269.79 L538.66,270.02 L538.90,270.72 L539.13,271.86 L539.37,273.46 L539.61,275.48 L539.85,277.91 L540.08,280.72 L540.32,283.89 L540.56,287.38 L540.80,291.16 L541.04,295.19 L541.27,299.43 L541.51,303.84 L541.75,308.36 L541.99,312.97 L542.22,317.60 L542.46,322.21 L542.70,326.77 L542.94,331.21 L543.17,335.50 L543.41,339.59 L543.65,343.44 L543.89,347.01 L544.12,350.27 L544.36,353.18 L544.60,355.71 L544.84,357.84 L545.07,359.55 L545.31,360.82 L545.55,361.64 L545.79,361.99 L546.02,361.88 L546.26,361.30 L546.50,360.26" stroke="#00ee00" stroke-width="2.4"/>
<path d="M308.90,315.90 L309.14,315.90 L309.38,315.90 L309.61,315.90 L309.85,315.90 L310.09,315.89 L310.33,315.82 L310.56,315.61 L310.80,315.22 L311.04,314.62 L311.28,313.79 L311.51,312.72 L311.75,311.41 L311.99,309.88 L312.23,308.14 L312.46,306.22 L312.70,304.15 L312.94,301.96 L313.18,299.70 L313.41,297.40 L313.65,295.11 L313.89,292.87 L314.13,290.73 L314.36,288.71 L314.60,286.86 L314.84,285.20 L315.08,283.75 L315.32,282.52 L315.55,281.52 L315.79,280.75 L316.03,280.21 L316.27,279.89 L316.50,279.79 L316.74,279.90 L316.98,280.23 L317.22,280.78 L317.45,281.57 L317.69,282.61 L317.93,283.91 L318.17,285.48 L318.40,287.34 L318.64,289.47 L318.88,291.89 L319.12,294.58 L319.35,297.50 L319.59,300.65 L319.83,303.98 L320.07,307.45 L320.30,311.04 L320.54,314.68 L320.78,318.35 L321.02,322.00 L321.26,325.59 L321.49,329.07 L321.73,332.42 L321.97,335.60 L322.21,338.56 L322.44,341.30 L322.68,343.77 L322.92,345.95 L323.16,347.82 L323.39,349.36 L323.63,350.56 L323.87,351.41 L324.11,351.89 L324.34,352.00 L324.58,351.75 L324.82,351.13 L325.06,350.15 L325.29,348.82 L325.53,347.15 L325.77,345.17 L326.01,342.90 L326.24,340.34 L326.48,337.54 L326.72,334.52 L326.96,331.31 L327.20,327.94 L327.43,324.45 L327.67,320.87 L327.91,317.24 L328.15,313.60 L328.38,309.98 L328.62,306.41 L328.86,302.95 L329.10,299.61 L329.33,296.44 L329.57,293.46 L329.81,290.71 L330.05,288.21 L330.28,286.00 L330.52,284.08 L330.76,282.49 L331.00,281.23 L331.23,280.32 L331.47,279.77 L331.71,279.59 L331.95,279.77 L332.18,280.32 L332.42,281.22 L332.66,282.48 L332.90,284.08 L333.14,285.99 L333.37,288.21 L333.61,290.70 L333.85,293.46 L334.09,296.43 L334.32,299.61 L334.56,302.95 L334.80,306.41 L335.04,309.98 L335.27,313.60 L335.51,317.25 L335.75,320.89 L335.99,324.47 L336.22,327.97 L336.46,331.34 L336.70,334.56 L336.94,337.59 L337.17,340.41 L337.41,342.97 L337.65,345.26 L337.89,347.26 L338.12,348.93 L338.36,350.28 L338.60,351.28 L338.84,351.91 L339.08,352.19 L339.31,352.10 L339.55,351.65 L339.79,350.83 L340.03,349.66 L340.26,348.15 L340.50,346.31 L340.74,344.17 L340.98,341.74 L341.21,339.05 L341.45,336.13 L341.69,333.00 L341.93,329.70 L342.16,326.26 L342.40,322.72 L342.64,319.10 L342.88,315.46 L343.11,311.82 L343.35,308.22 L343.59,304.70 L343.83,301.29 L344.06,298.02 L344.30,294.94 L344.54,292.07 L344.78,289.45 L345.02,287.08 L345.25,285.01 L345.49,283.25 L345.73,281.83 L345.97,280.74 L346.20,280.01 L346.44,279.64 L346.68,279.64 L346.92,280.01 L347.15,280.73 L347.39,281.82 L347.63,283.24 L347.87,285.00 L348.10,287.07 L348.34,289.43 L348.58,292.05 L348.82,294.92 L349.05,298.00 L349.29,301.26 L349.53,304.67 L349.77,308.19 L350.00,311.79 L350.24,315.43 L350.48,319.08 L350.72,322.69 L350.96,326.23 L351.19,329.67 L351.43,332.98 L351.67,336.10 L351.91,339.03 L352.14,341.72 L352.38,344.15 L352.62,346.30 L352.86,348.14 L353.09,349.65 L353.33,350.82 L353.57,351.64 L353.81,352.10 L354.04,352.19 L354.28,351.92 L354.52,351.28 L354.76,350.29 L354.99,348.95 L355.23,347.27 L355.47,345.28 L355.71,342.99 L355.94,340.43 L356.18,337.62 L356.42,334.59 L356.66,331.37 L356.90,328.00 L357.13,324.50 L357.37,320.92 L357.61,317.28 L357.85,313.63 L358.08,310.01 L358.32,306.44 L358.56,302.97 L358.80,299.63 L359.03,296.46 L359.27,293.48 L359.51,290.73 L359.75,288.23 L359.98,286.01 L360.22,284.09 L360.46,282.50 L360.70,281.24 L360.93,280.33 L361.17,279.78 L361.41,279.60 L361.65,279.78 L361.88,280.33 L362.12,281.23 L362.36,282.49 L362.60,284.08 L362.84,285.99 L363.07,288.21 L363.31,290.71 L363.55,293.46 L363.79,296.44 L364.02,299.61 L364.26,302.95 L364.50,306.42 L364.74,309.98 L364.97,313.61 L365.21,317.25 L365.45,320.89 L365.69,324.47 L365.92,327.97 L366.16,331.34 L366.40,334.56 L366.64,337.59 L366.87,340.41 L367.11,342.97 L367.35,345.26 L367.59,347.26 L367.82,348.93 L368.06,350.28 L368.30,351.28 L368.54,351.92 L368.78,352.19 L369.01,352.10 L369.25,351.65 L369.49,350.83 L369.73,349.66 L369.96,348.15 L370.20,346.31 L370.44,344.17 L370.68,341.74 L370.91,339.05 L371.15,336.13 L371.39,333.00 L371.63,329.70 L371.86,326.26 L372.10,322.72 L372.34,319.10 L372.58,315.46 L372.81,311.82 L373.05,308.22 L373.29,304.70 L373.53,301.29 L373.76,298.02 L374.00,294.94 L374.24,292.07 L374.48,289.45 L374.72,287.08 L374.95,285.01 L375.19,283.25 L375.43,281.83 L375.67,280.74 L375.90,280.01 L376.14,279.64 L376.38,279.64 L376.62,280.01 L376.85,280.73 L377.09,281.82 L377.33,283.24 L377.57,285.00 L377.80,287.07 L378.04,289.43 L378.28,292.05 L378.52,294.92 L378.75,298.00 L378.99,301.26 L379.23,304.67 L379.47,308.19 L379.70,311.79 L379.94,315.43 L380.18,319.08 L380.42,322.69 L380.66,326.23 L380.89,329.67 L381.13,332.98 L381.37,336.10 L381.61,339.03 L381.84,341.72 L382.08,344.15 L382.32,346.30 L382.56,348.14 L382.79,349.65 L383.03,350.82 L383.27,351.64 L383.51,352.10 L383.74,352.19 L383.98,351.92 L384.22,351.28 L384.46,350.29 L384.69,348.95 L384.93,347.27 L385.17,345.28 L385.41,342.99 L385.64,340.43 L385.88,337.62 L386.12,334.59 L386.36,331.37 L386.60,328.00 L386.83,324.50 L387.07,320.92 L387.31,317.28 L387.55,313.63 L387.78,310.01 L388.02,306.44 L388.26,302.97 L388.50,299.63 L388.73,296.46 L388.97,293.48 L389.21,290.73 L389.45,288.23 L389.68,286.01 L389.92,284.09 L390.16,282.50 L390.40,281.24 L390.63,280.33 L390.87,279.78 L391.11,279.60 L391.35,279.78 L391.58,280.33 L391.82,281.23 L392.06,282.49 L392.30,284.08 L392.54,285.99 L392.77,288.21 L393.01,290.71 L393.25,293.46 L393.49,296.44 L393.72,299.61 L393.96,302.95 L394.20,306.42 L394.44,309.98 L394.67,313.61 L394.91,317.25 L395.15,320.89 L395.39,324.47 L395.62,327.97 L395.86,331.34 L396.10,334.56 L396.34,337.59 L396.57,340.41 L396.81,342.97 L397.05,345.26 L397.29,347.26 L397.52,348.93 L397.76,350.28 L398.00,351.28 L398.24,351.92 L398.48,352.19 L398.71,352.10 L398.95,351.65 L399.19,350.83 L399.43,349.66 L399.66,348.15 L399.90,346.31 L400.14,344.17 L400.38,341.74 L400.61,339.05 L400.85,336.13 L401.09,333.00 L401.33,329.70 L401.56,326.26 L401.80,322.72 L402.04,319.10 L402.28,315.46 L402.51,311.82 L402.75,308.22 L402.99,304.70 L403.23,301.29 L403.46,298.02 L403.70,294.94 L403.94,292.07 L404.18,289.45 L404.42,287.08 L404.65,285.01 L404.89,283.25 L405.13,281.83 L405.37,280.74 L405.60,280.01 L405.84,279.64 L406.08,279.64 L406.32,280.01 L406.55,280.73 L406.79,281.82 L407.03,283.24 L407.27,285.00 L407.50,287.07 L407.74,289.43 L407.98,292.05 L408.22,294.92 L408.45,298.00 L408.69,301.26 L408.93,304.67 L409.17,308.19 L409.40,311.79 L409.64,315.43 L409.88,319.08 L410.12,322.69 L410.36,326.23 L410.59,329.67 L410.83,332.98 L411.07,336.10 L411.31,339.03 L411.54,341.72 L411.78,344.15 L412.02,346.30 L412.26,348.14 L412.49,349.65 L412.73,350.82 L412.97,351.64 L413.21,352.10 L413.44,352.19 L413.68,351.92 L413.92,351.28 L414.16,350.29 L414.39,348.95 L414.63,347.27 L414.87,345.28 L415.11,342.99 L415.34,340.43 L415.58,337.62 L415.82,334.59 L416.06,331.37 L416.30,328.00 L416.53,324.50 L416.77,320.92 L417.01,317.28 L417.25,313.63 L417.48,310.01 L417.72,306.44 L417.96,302.97 L418.20,299.63 L418.43,296.46 L418.67,293.48 L418.91,290.73 L419.15,288.23 L419.38,286.01 L419.62,284.09 L419.86,282.50 L420.10,281.24 L420.33,280.33 L420.57,279.78 L420.81,279.60 L421.05,279.78 L421.28,280.33 L421.52,281.23 L421.76,282.49 L422.00,284.08 L422.24,285.99 L422.47,288.21 L422.71,290.71 L422.95,293.46 L423.19,296.44 L423.42,299.61 L423.66,302.95 L423.90,306.42 L424.14,309.98 L424.37,313.61 L424.61,317.25 L424.85,320.89 L425.09,324.47 L425.32,327.97 L425.56,331.34 L425.80,334.56 L426.04,337.59 L426.27,340.41 L426.51,342.97 L426.75,345.26 L426.99,347.26 L427.22,348.93 L427.46,350.28 L427.70,351.28 L427.94,351.92 L428.18,352.19 L428.41,352.10 L428.65,351.65 L428.89,350.83 L429.13,349.66 L429.36,348.15 L429.60,346.31 L429.84,344.17 L430.08,341.74 L430.31,339.05 L430.55,336.13 L430.79,333.00 L431.03,329.70 L431.26,326.26 L431.50,322.72 L431.74,319.10 L431.98,315.46 L432.21,311.82 L432.45,308.22 L432.69,304.70 L432.93,301.29 L433.16,298.02 L433.40,294.94 L433.64,292.07 L433.88,289.45 L434.12,287.08 L434.35,285.01 L434.59,283.25 L434.83,281.83 L435.07,280.74 L435.30,280.01 L435.54,279.64 L435.78,279.64 L436.02,280.01 L436.25,280.73 L436.49,281.82 L436.73,283.24 L436.97,285.00 L437.20,287.07 L437.44,289.43 L437.68,292.05 L437.92,294.92 L438.15,298.00 L438.39,301.26 L438.63,304.67 L438.87,308.19 L439.10,311.79 L439.34,315.43 L439.58,319.08 L439.82,322.69 L440.06,326.23 L440.29,329.67 L440.53,332.98 L440.77,336.10 L441.01,339.03 L441.24,341.72 L441.48,344.15 L441.72,346.30 L441.96,348.14 L442.19,349.65 L442.43,350.82 L442.67,351.64 L442.91,352.10 L443.14,352.19 L443.38,351.92 L443.62,351.28 L443.86,350.29 L444.09,348.95 L444.33,347.27 L444.57,345.28 L444.81,342.99 L445.04,340.43 L445.28,337.62 L445.52,334.59 L445.76,331.37 L446.00,328.00 L446.23,324.50 L446.47,320.92 L446.71,317.28 L446.95,313.63 L447.18,310.01 L447.42,306.44 L447.66,302.97 L447.90,299.63 L448.13,296.46 L448.37,293.48 L448.61,290.73 L448.85,288.23 L449.08,286.01 L449.32,284.09 L449.56,282.50 L449.80,281.24 L450.03,280.33 L450.27,279.78 L450.51,279.60 L450.75,279.78 L450.98,280.33 L451.22,281.23 L451.46,282.49 L451.70,284.08 L451.94,285.99 L452.17,288.21 L452.41,290.71 L452.65,293.46 L452.89,296.44 L453.12,299.61 L453.36,302.95 L453.60,306.42 L453.84,309.98 L454.07,313.61 L454.31,317.25 L454.55,320.89 L454.79,324.47 L455.02,327.97 L455.26,331.34 L455.50,334.56 L455.74,337.59 L455.97,340.41 L456.21,342.97 L456.45,345.26 L456.69,347.26 L456.92,348.93 L457.16,350.28 L457.40,351.28 L457.64,351.92 L457.88,352.19 L458.11,352.10 L458.35,351.65 L458.59,350.83 L458.83,349.66 L459.06,348.15 L459.30,346.31 L459.54,344.17 L459.78,341.74 L460.01,339.05 L460.25,336.13 L460.49,333.00 L460.73,329.70 L460.96,326.26 L461.20,322.72 L461.44,319.10 L461.68,315.46 L461.91,311.82 L462.15,308.22 L462.39,304.70 L462.63,301.29 L462.86,298.02 L463.10,294.94 L463.34,292.07 L463.58,289.45 L463.82,287.08 L464.05,285.01 L464.29,283.25 L464.53,281.83 L464.77,280.74 L465.00,280.01 L465.24,279.64 L465.48,279.64 L465.72,280.01 L465.95,280.73 L466.19,281.82 L466.43,283.24 L466.67,285.00 L466.90,287.07 L467.14,289.43 L467.38,292.05 L467.62,294.92 L467.85,298.00 L468.09,301.26 L468.33,304.67 L468.57,308.19 L468.80,311.79 L469.04,315.43 L469.28,319.08 L469.52,322.69 L469.76,326.23 L469.99,329.67 L470.23,332.98 L470.47,336.10 L470.71,339.03 L470.94,341.72 L471.18,344.15 L471.42,346.30 L471.66,348.14 L471.89,349.65 L472.13,350.82 L472.37,351.64 L472.61,352.10 L472.84,352.19 L473.08,351.92 L473.32,351.28 L473.56,350.29 L473.79,348.95 L474.03,347.27 L474.27,345.28 L474.51,342.99 L474.74,340.43 L474.98,337.62 L475.22,334.59 L475.46,331.37 L475.70,328.00 L475.93,324.50 L476.17,320.92 L476.41,317.28 L476.65,313.63 L476.88,310.01 L477.12,306.44 L477.36,302.97 L477.60,299.63 L477.83,296.46 L478.07,293.48 L478.31,290.73 L478.55,288.23 L478.78,286.01 L479.02,284.09 L479.26,282.50 L479.50,281.24 L479.73,280.33 L479.97,279.78 L480.21,279.60 L480.45,279.78 L480.68,280.33 L480.92,281.23 L481.16,282.49 L481.40,284.08 L481.64,285.99 L481.87,288.21 L482.11,290.71 L482.35,293.46 L482.59,296.44 L482.82,299.61 L483.06,302.95 L483.30,306.42 L483.54,309.98 L483.77,313.61 L484.01,317.25 L484.25,320.89 L484.49,324.47 L484.72,327.97 L484.96,331.34 L485.20,334.56 L485.44,337.59 L485.67,340.41 L485.91,342.97 L486.15,345.26 L486.39,347.26 L486.62,348.93 L486.86,350.28 L487.10,351.28 L487.34,351.92 L487.58,352.19 L487.81,352.10 L488.05,351.65 L488.29,350.83 L488.53,349.66 L488.76,348.15 L489.00,346.31 L489.24,344.17 L489.48,341.74 L489.71,339.05 L489.95,336.13 L490.19,333.00 L490.43,329.70 L490.66,326.26 L490.90,322.72 L491.14,319.10 L491.38,315.46 L491.61,311.82 L491.85,308.22 L492.09,304.70 L492.33,301.29 L492.56,298.02 L492.80,294.94 L493.04,292.07 L493.28,289.45 L493.52,287.08 L493.75,285.01 L493.99,283.25 L494.23,281.83 L494.47,280.74 L494.70,280.01 L494.94,279.64 L495.18,279.64 L495.42,280.01 L495.65,280.73 L495.89,281.82 L496.13,283.24 L496.37,285.00 L496.60,287.07 L496.84,289.43 L497.08,292.05 L497.32,294.92 L497.55,298.00 L497.79,301.26 L498.03,304.67 L498.27,308.19 L498.50,311.79 L498.74,315.43 L498.98,319.08 L499.22,322.69 L499.46,326.23 L499.69,329.67 L499.93,332.98 L500.17,336.10 L500.41,339.03 L500.64,341.72 L500.88,344.15 L501.12,346.30 L501.36,348.14 L501.59,349.65 L501.83,350.82 L502.07,351.64 L502.31,352.10 L502.54,352.19 L502.78,351.92 L503.02,351.28 L503.26,350.29 L503.49,348.95 L503.73,347.27 L503.97,345.28 L504.21,342.99 L504.44,340.43 L504.68,337.62 L504.92,334.59 L505.16,331.37 L505.40,328.00 L505.63,324.50 L505.87,320.92 L506.11,317.28 L506.35,313.63 L506.58,310.01 L506.82,306.44 L507.06,302.97 L507.30,299.63 L507.53,296.46 L507.77,293.48 L508.01,290.73 L508.25,288.23 L508.48,286.01 L508.72,284.09 L508.96,282.50 L509.20,281.24 L509.43,280.33 L509.67,279.78 L509.91,279.60 L510.15,279.78 L510.38,280.33 L510.62,281.23 L510.86,282.49 L511.10,284.08 L511.34,285.99 L511.57,288.21 L511.81,290.71 L512.05,293.46 L512.29,296.44 L512.52,299.61 L512.76,302.95 L513.00,306.42 L513.24,309.98 L513.47,313.61 L513.71,317.25 L513.95,320.89 L514.19,324.47 L514.42,327.97 L514.66,331.34 L514.90,334.56 L515.14,337.59 L515.37,340.41 L515.61,342.97 L515.85,345.26 L516.09,347.26 L516.32,348.93 L516.56,350.28 L516.80,351.28 L517.04,351.92 L517.28,352.19 L517.51,352.10 L517.75,351.65 L517.99,350.83 L518.23,349.66 L518.46,348.15 L518.70,346.31 L518.94,344.17 L519.18,341.74 L519.41,339.05 L519.65,336.13 L519.89,333.00 L520.13,329.70 L520.36,326.26 L520.60,322.72 L520.84,319.10 L521.08,315.46 L521.31,311.82 L521.55,308.22 L521.79,304.70 L522.03,301.29 L522.26,298.02 L522.50,294.94 L522.74,292.07 L522.98,289.45 L523.22,287.08 L523.45,285.01 L523.69,283.25 L523.93,281.83 L524.17,280.74 L524.40,280.01 L524.64,279.64 L524.88,279.64 L525.12,280.01 L525.35,280.73 L525.59,281.82 L525.83,283.24 L526.07,285.00 L526.30,287.07 L526.54,289.43 L526.78,292.05 L527.02,294.92 L527.25,298.00 L527.49,301.26 L527.73,304.67 L527.97,308.19 L528.20,311.79 L528.44,315.43 L528.68,319.08 L528.92,322.69 L529.16,326.23 L529.39,329.67 L529.63,332.98 L529.87,336.10 L530.11,339.03 L530.34,341.72 L530.58,344.15 L530.82,346.30 L531.06,348.14 L531.29,349.65 L531.53,350.82 L531.77,351.64 L532.01,352.10 L532.24,352.19 L532.48,351.92 L532.72,351.28 L532.96,350.29 L533.19,348.95 L533.43,347.27 L533.67,345.28 L533.91,342.99 L534.14,340.43 L534.38,337.62 L534.62,334.59 L534.86,331.37 L535.10,328.00 L535.33,324.50 L535.57,320.92 L535.81,317.28 L536.05,313.63 L536.28,310.01 L536.52,306.44 L536.76,302.97 L537.00,299.63 L537.23,296.46 L537.47,293.48 L537.71,290.73 L537.95,288.23 L538.18,286.01 L538.42,284.09 L538.66,282.50 L538.90,281.24 L539.13,280.33 L539.37,279.78 L539.61,279.60 L539.85,279.78 L540.08,280.33 L540.32,281.23 L540.56,282.49 L540.80,284.08 L541.04,285.99 L541.27,288.21 L541.51,290.71 L541.75,293.46 L541.99,296.44 L542.22,299.61 L542.46,302.95 L542.70,306.42 L542.94,309.98 L543.17,313.61 L543.41,317.25 L543.65,320.89 L543.89,324.47 L544.12,327.97 L544.36,331.34 L544.60,334.56 L544.84,337.59 L545.07,340.41 L545.31,342.97 L545.55,345.26 L545.79,347.26 L546.02,348.93 L546.26,350.28 L546.50,351.28" stroke="#2020ff" stroke-width="1.1"/>
<rect x="307.30" y="314.30" width="3.2" height="3.2" stroke="#6060ff" stroke-opacity="0.9" stroke-width="0.7"/>
<rect x="337.00" y="349.68" width="3.2" height="3.2" stroke="#6060ff" stroke-opacity="0.9" stroke-width="0.7"/>
<rect x="348.88" y="317.48" width="3.2" height="3.2" stroke="#6060ff" stroke-opacity="0.9" stroke-width="0.7"/>
<rect x="360.76" y="280.89" width="3.2" height="3.2" stroke="#6060ff" stroke-opacity="0.9" stroke-width="0.7"/>
<rect x="372.64" y="290.47" width="3.2" height="3.2" stroke="#6060ff" stroke-opacity="0.9" stroke-width="0.7"/>
<rect x="384.52" y="332.99" width="3.2" height="3.2" stroke="#6060ff" stroke-opacity="0.9" stroke-width="0.7"/>
<rect x="396.40" y="349.68" width="3.2" height="3.2" stroke="#6060ff" stroke-opacity="0.9" stroke-width="0.7"/>
<rect x="408.28" y="317.48" width="3.2" height="3.2" stroke="#6060ff" stroke-opacity="0.9" stroke-width="0.7"/>
<rect x="420.16" y="280.89" width="3.2" height="3.2" stroke="#6060ff" stroke-opacity="0.9" stroke-width="0.7"/>
<rect x="432.04" y="290.47" width="3.2" height="3.2" stroke="#6060ff" stroke-opacity="0.9" stroke-width="0.7"/>
<rect x="443.92" y="332.99" width="3.2" height="3.2" stroke="#6060ff" stroke-opacity="0.9" stroke-width="0.7"/>
<rect x="455.80" y="349.68" width="3.2" height="3.2" stroke="#6060ff" stroke-opacity="0.9" stroke-width="0.7"/>
<rect x="467.68" y="317.48" width="3.2" height="3.2" stroke="#6060ff" stroke-opacity="0.9" stroke-width="0.7"/>
<rect x="479.56" y="280.89" width="3.2" height="3.2" stroke="#6060ff" stroke-opacity="0.9" stroke-width="0.7"/>
<rect x="491.44" y="290.47" width="3.2" height="3.2" stroke="#6060ff" stroke-opacity="0.9" stroke-width="0.7"/>
<rect x="503.32" y="332.99" width="3.2" height="3.2" stroke="#6060ff" stroke-opacity="0.9" stroke-width="0.7"/>
<rect x="515.20" y="349.68" width="3.2" height="3.2" stroke="#6060ff" stroke-opacity="0.9" stroke-width="0.7"/>
<rect x="527.08" y="317.48" width="3.2" height="3.2" stroke="#6060ff" stroke-opacity="0.9" stroke-width="0.7"/>
<rect x="538.96" y="280.89" width="3.2" height="3.2" stroke="#6060ff" stroke-opacity="0.9" stroke-width="0.7"/>
</g>
<g font-family="Liberation Sans, Arial, sans-serif" font-size="6.7" fill="#3a3a3a" stroke="#3a3a3a" stroke-width="0.15">
<text x="308.90" y="419.40" text-anchor="middle">0</text>
<text x="332.66" y="419.40" text-anchor="middle">0.2</text>
<text x="356.42" y="419.40" text-anchor="middle">0.4</text>
<text x="380.18" y="419.40" text-anchor="middle">0.6</text>
<text x="403.94" y="419.40" text-anchor="middle">0.8</text>
<text x="427.70" y="419.40" text-anchor="middle">1</text>
<text x="451.46" y="419.40" text-anchor="middle">1.2</text>
<text x="475.22" y="419.40" text-anchor="middle">1.4</text>
<text x="498.98" y="419.40" text-anchor="middle">1.6</text>
<text x="522.74" y="419.40" text-anchor="middle">1.8</text>
<text x="546.50" y="419.40" text-anchor="middle">2</text>
<text x="305.30" y="411.20" text-anchor="end">-1.5</text>
<text x="305.30" y="380.37" text-anchor="end">-1</text>
<text x="305.30" y="349.53" text-anchor="end">-0.5</text>
<text x="305.30" y="318.70" text-anchor="end">0</text>
<text x="305.30" y="287.87" text-anchor="end">0.5</text>
<text x="305.30" y="257.03" text-anchor="end">1</text>
<text x="305.30" y="226.20" text-anchor="end">1.5</text>
</g>
<g font-family="Liberation Sans, Arial, sans-serif" font-size="11" fill="#2a2a2a" stroke="#2a2a2a" stroke-width="0.2">
<text x="428.20" y="433.10" text-anchor="middle" xml:space="preserve">Time  (s)</text>
<text transform="translate(288.30,316.10) rotate(-90)" text-anchor="middle" xml:space="preserve">X  (mm)</text>
</g>
<rect x="468.30" y="230.50" width="71.4" height="36.4" fill="#fff" stroke="#666" stroke-width="0.7"/>
<path d="M471.00,237.30 h16" stroke="#000" stroke-width="3.2" stroke-dasharray="2.7 2.65" fill="none"/>
<path d="M471.00,249.00 h16" stroke="#00ee00" stroke-width="2.3" fill="none"/>
<path d="M471.00,260.80 h16" stroke="#5a5af5" stroke-width="0.8" fill="none"/>
<rect x="477.30" y="259.10" width="3.4" height="3.4" fill="#fff" stroke="#5a5af5" stroke-width="0.7"/>
<g font-family="Liberation Sans, Arial, sans-serif" font-size="8.8" fill="#1a1a1a" stroke="#1a1a1a" stroke-width="0.15">
<text x="488.80" y="240.50">Command</text>
<text x="488.80" y="252.20">Reference</text>
<text x="488.80" y="264.00">Adaptive On</text>
</g>
<rect x="316.50" y="383.50" width="140.80" height="18.80" fill="#fff" stroke="#4a4a4a" stroke-width="1.1"/>
<text transform="translate(327.50,396.40) scale(0.93,1)" font-family="Liberation Sans, Arial, sans-serif" font-weight="bold" font-size="9.3" word-spacing="2" fill="#111" stroke="#111" stroke-width="0.25">Excitation Frequency : 8 Hz</text>
</g>
</svg>
</body></html>
